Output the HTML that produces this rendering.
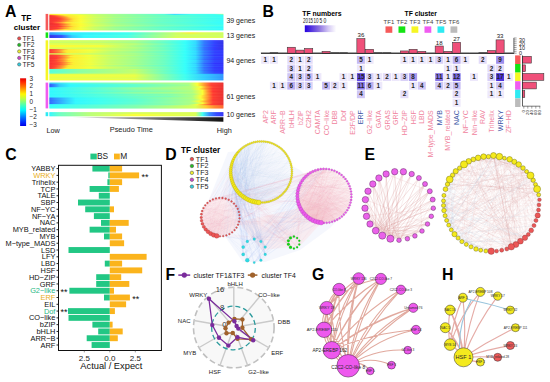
<!DOCTYPE html>
<html><head><meta charset="utf-8"><style>
html,body{margin:0;padding:0;background:#fff;width:550px;height:382px;overflow:hidden}
svg{display:block;font-family:"Liberation Sans", sans-serif}
</style></head><body>
<svg width="550" height="382" viewBox="0 0 550 382">
<defs><linearGradient id="cbar" x1="0" y1="1" x2="0" y2="0"><stop offset="0" stop-color="#0000e5"/><stop offset="0.08" stop-color="#002aff"/><stop offset="0.17" stop-color="#006eff"/><stop offset="0.25" stop-color="#00b2ff"/><stop offset="0.33" stop-color="#00f6ff"/><stop offset="0.42" stop-color="#3bffc3"/><stop offset="0.5" stop-color="#7fff7f"/><stop offset="0.58" stop-color="#c3ff3b"/><stop offset="0.67" stop-color="#fff600"/><stop offset="0.75" stop-color="#ffb200"/><stop offset="0.83" stop-color="#ff6e00"/><stop offset="0.92" stop-color="#ff2a00"/><stop offset="1" stop-color="#e50000"/></linearGradient><linearGradient id="h1"><stop offset="0" stop-color="#ffcd00"/><stop offset="0.06" stop-color="#fff600"/><stop offset="0.15" stop-color="#deff20"/><stop offset="0.29" stop-color="#a8ff56"/><stop offset="0.46" stop-color="#71ff8d"/><stop offset="0.66" stop-color="#2dffd1"/><stop offset="0.72" stop-color="#0097ff"/><stop offset="0.81" stop-color="#12ffec"/><stop offset="0.95" stop-color="#12ffec"/><stop offset="1" stop-color="#d1ff2d"/></linearGradient><linearGradient id="h2"><stop offset="0" stop-color="#ffcd00"/><stop offset="0.06" stop-color="#fff600"/><stop offset="0.15" stop-color="#deff20"/><stop offset="0.29" stop-color="#a8ff56"/><stop offset="0.46" stop-color="#71ff8d"/><stop offset="0.66" stop-color="#2dffd1"/><stop offset="0.72" stop-color="#05fff9"/><stop offset="0.81" stop-color="#12ffec"/><stop offset="0.95" stop-color="#12ffec"/><stop offset="1" stop-color="#05fff9"/></linearGradient><linearGradient id="h3"><stop offset="0" stop-color="#f60000"/><stop offset="0.01" stop-color="#ff1200"/><stop offset="0.05" stop-color="#ff7c00"/><stop offset="0.09" stop-color="#ffdb00"/><stop offset="0.18" stop-color="#faff04"/><stop offset="0.26" stop-color="#c3ff3b"/><stop offset="0.38" stop-color="#8dff71"/><stop offset="0.64" stop-color="#49ffb5"/><stop offset="1" stop-color="#05fff9"/></linearGradient><linearGradient id="h4"><stop offset="0" stop-color="#f30000"/><stop offset="0.01" stop-color="#ff0d00"/><stop offset="0.06" stop-color="#ff7c00"/><stop offset="0.09" stop-color="#ffdb00"/><stop offset="0.18" stop-color="#fdff01"/><stop offset="0.26" stop-color="#c7ff37"/><stop offset="0.38" stop-color="#92ff6c"/><stop offset="0.64" stop-color="#4dffb1"/><stop offset="1" stop-color="#08fff6"/></linearGradient><linearGradient id="h5"><stop offset="0" stop-color="#f30000"/><stop offset="0.03" stop-color="#ff0d00"/><stop offset="0.08" stop-color="#ff7c00"/><stop offset="0.11" stop-color="#ffdb00"/><stop offset="0.18" stop-color="#f8ff06"/><stop offset="0.26" stop-color="#c2ff3c"/><stop offset="0.38" stop-color="#8bff73"/><stop offset="0.64" stop-color="#47ffb7"/><stop offset="1" stop-color="#04fffa"/></linearGradient><linearGradient id="h6"><stop offset="0" stop-color="#e80000"/><stop offset="0.05" stop-color="#fe0000"/><stop offset="0.1" stop-color="#ff7c00"/><stop offset="0.13" stop-color="#ffdb00"/><stop offset="0.18" stop-color="#fff900"/><stop offset="0.26" stop-color="#d1ff2d"/><stop offset="0.38" stop-color="#9dff61"/><stop offset="0.64" stop-color="#56ffa8"/><stop offset="1" stop-color="#0fffef"/></linearGradient><linearGradient id="h7"><stop offset="0" stop-color="#f20000"/><stop offset="0.04" stop-color="#ff0c00"/><stop offset="0.09" stop-color="#ff7c00"/><stop offset="0.12" stop-color="#ffdb00"/><stop offset="0.18" stop-color="#fffc00"/><stop offset="0.26" stop-color="#ccff32"/><stop offset="0.38" stop-color="#98ff66"/><stop offset="0.64" stop-color="#52ffac"/><stop offset="1" stop-color="#0cfff2"/></linearGradient><linearGradient id="h8"><stop offset="0" stop-color="#f00000"/><stop offset="0.06" stop-color="#ff0900"/><stop offset="0.1" stop-color="#ff7c00"/><stop offset="0.14" stop-color="#ffdb00"/><stop offset="0.18" stop-color="#ecff12"/><stop offset="0.26" stop-color="#b3ff4b"/><stop offset="0.38" stop-color="#79ff85"/><stop offset="0.64" stop-color="#38ffc6"/><stop offset="1" stop-color="#00f7ff"/></linearGradient><linearGradient id="h9"><stop offset="0" stop-color="#ea0000"/><stop offset="0.05" stop-color="#ff0100"/><stop offset="0.1" stop-color="#ff7c00"/><stop offset="0.13" stop-color="#ffdb00"/><stop offset="0.18" stop-color="#fff800"/><stop offset="0.26" stop-color="#d2ff2c"/><stop offset="0.38" stop-color="#9eff60"/><stop offset="0.64" stop-color="#57ffa7"/><stop offset="1" stop-color="#10ffee"/></linearGradient><linearGradient id="h10"><stop offset="0" stop-color="#f50000"/><stop offset="0.06" stop-color="#ff1000"/><stop offset="0.11" stop-color="#ff7c00"/><stop offset="0.14" stop-color="#ffdb00"/><stop offset="0.18" stop-color="#fdff01"/><stop offset="0.26" stop-color="#c8ff36"/><stop offset="0.38" stop-color="#92ff6c"/><stop offset="0.64" stop-color="#4dffb1"/><stop offset="1" stop-color="#08fff6"/></linearGradient><linearGradient id="h11"><stop offset="0" stop-color="#f70000"/><stop offset="0.06" stop-color="#ff1300"/><stop offset="0.11" stop-color="#ff7c00"/><stop offset="0.14" stop-color="#ffdb00"/><stop offset="0.18" stop-color="#eeff10"/><stop offset="0.26" stop-color="#b5ff49"/><stop offset="0.38" stop-color="#7bff83"/><stop offset="0.64" stop-color="#3affc4"/><stop offset="1" stop-color="#00f8ff"/></linearGradient><linearGradient id="h12"><stop offset="0" stop-color="#f10000"/><stop offset="0.04" stop-color="#ff0a00"/><stop offset="0.09" stop-color="#ff7c00"/><stop offset="0.12" stop-color="#ffdb00"/><stop offset="0.18" stop-color="#fffb00"/><stop offset="0.26" stop-color="#ceff30"/><stop offset="0.38" stop-color="#9aff64"/><stop offset="0.64" stop-color="#54ffaa"/><stop offset="1" stop-color="#0efff0"/></linearGradient><linearGradient id="h13"><stop offset="0" stop-color="#ed0000"/><stop offset="0.06" stop-color="#ff0600"/><stop offset="0.1" stop-color="#ff7c00"/><stop offset="0.14" stop-color="#ffdb00"/><stop offset="0.18" stop-color="#fcff02"/><stop offset="0.26" stop-color="#c6ff38"/><stop offset="0.38" stop-color="#90ff6e"/><stop offset="0.64" stop-color="#4bffb3"/><stop offset="1" stop-color="#07fff7"/></linearGradient><linearGradient id="h14"><stop offset="0" stop-color="#f80000"/><stop offset="0.01" stop-color="#ff1400"/><stop offset="0.05" stop-color="#ff7c00"/><stop offset="0.09" stop-color="#ffdb00"/><stop offset="0.18" stop-color="#f2ff0c"/><stop offset="0.26" stop-color="#baff44"/><stop offset="0.38" stop-color="#82ff7c"/><stop offset="0.64" stop-color="#40ffbe"/><stop offset="1" stop-color="#00fcff"/></linearGradient><linearGradient id="h15"><stop offset="0" stop-color="#e90000"/><stop offset="0.02" stop-color="#ff0000"/><stop offset="0.07" stop-color="#ff7c00"/><stop offset="0.1" stop-color="#ffdb00"/><stop offset="0.18" stop-color="#f2ff0c"/><stop offset="0.26" stop-color="#b9ff45"/><stop offset="0.38" stop-color="#81ff7d"/><stop offset="0.64" stop-color="#3fffbf"/><stop offset="1" stop-color="#00fcff"/></linearGradient><linearGradient id="h16"><stop offset="0" stop-color="#e70000"/><stop offset="0.02" stop-color="#fc0000"/><stop offset="0.07" stop-color="#ff7c00"/><stop offset="0.1" stop-color="#ffdb00"/><stop offset="0.18" stop-color="#fffd00"/><stop offset="0.26" stop-color="#ccff32"/><stop offset="0.38" stop-color="#97ff67"/><stop offset="0.64" stop-color="#51ffad"/><stop offset="1" stop-color="#0bfff3"/></linearGradient><linearGradient id="h17"><stop offset="0" stop-color="#e60000"/><stop offset="0.05" stop-color="#fa0000"/><stop offset="0.1" stop-color="#ff7c00"/><stop offset="0.13" stop-color="#ffdb00"/><stop offset="0.18" stop-color="#f2ff0c"/><stop offset="0.26" stop-color="#baff44"/><stop offset="0.38" stop-color="#82ff7c"/><stop offset="0.64" stop-color="#40ffbe"/><stop offset="1" stop-color="#00fdff"/></linearGradient><linearGradient id="h18"><stop offset="0" stop-color="#e50000"/><stop offset="0.05" stop-color="#fa0000"/><stop offset="0.1" stop-color="#ff7c00"/><stop offset="0.13" stop-color="#ffdb00"/><stop offset="0.18" stop-color="#fdff01"/><stop offset="0.26" stop-color="#c8ff36"/><stop offset="0.38" stop-color="#92ff6c"/><stop offset="0.64" stop-color="#4dffb1"/><stop offset="1" stop-color="#08fff6"/></linearGradient><linearGradient id="h19"><stop offset="0" stop-color="#ed0000"/><stop offset="0.04" stop-color="#ff0500"/><stop offset="0.09" stop-color="#ff7c00"/><stop offset="0.12" stop-color="#ffdb00"/><stop offset="0.18" stop-color="#fff900"/><stop offset="0.26" stop-color="#d0ff2e"/><stop offset="0.38" stop-color="#9dff61"/><stop offset="0.64" stop-color="#56ffa8"/><stop offset="1" stop-color="#0fffef"/></linearGradient><linearGradient id="h20"><stop offset="0" stop-color="#e60000"/><stop offset="0.05" stop-color="#fb0000"/><stop offset="0.09" stop-color="#ff7c00"/><stop offset="0.13" stop-color="#ffdb00"/><stop offset="0.18" stop-color="#fff600"/><stop offset="0.26" stop-color="#d4ff2a"/><stop offset="0.38" stop-color="#a1ff5d"/><stop offset="0.64" stop-color="#59ffa5"/><stop offset="1" stop-color="#12ffec"/></linearGradient><linearGradient id="h21"><stop offset="0" stop-color="#ed0000"/><stop offset="0.06" stop-color="#ff0500"/><stop offset="0.1" stop-color="#ff7c00"/><stop offset="0.14" stop-color="#ffdb00"/><stop offset="0.18" stop-color="#feff00"/><stop offset="0.26" stop-color="#c9ff35"/><stop offset="0.38" stop-color="#94ff6a"/><stop offset="0.64" stop-color="#4fffaf"/><stop offset="1" stop-color="#0afff4"/></linearGradient><linearGradient id="h22"><stop offset="0" stop-color="#f60000"/><stop offset="0.06" stop-color="#ff1100"/><stop offset="0.11" stop-color="#ff7c00"/><stop offset="0.14" stop-color="#ffdb00"/><stop offset="0.18" stop-color="#f5ff09"/><stop offset="0.26" stop-color="#bdff41"/><stop offset="0.38" stop-color="#85ff79"/><stop offset="0.64" stop-color="#43ffbb"/><stop offset="1" stop-color="#00fffe"/></linearGradient><linearGradient id="h23"><stop offset="0" stop-color="#f70000"/><stop offset="0.04" stop-color="#ff1300"/><stop offset="0.08" stop-color="#ff7c00"/><stop offset="0.12" stop-color="#ffdb00"/><stop offset="0.18" stop-color="#edff11"/><stop offset="0.26" stop-color="#b4ff4a"/><stop offset="0.38" stop-color="#7aff84"/><stop offset="0.64" stop-color="#39ffc5"/><stop offset="1" stop-color="#00f7ff"/></linearGradient><linearGradient id="h24"><stop offset="0" stop-color="#f30000"/><stop offset="0.04" stop-color="#ff0d00"/><stop offset="0.09" stop-color="#ff7c00"/><stop offset="0.12" stop-color="#ffdb00"/><stop offset="0.18" stop-color="#f9ff05"/><stop offset="0.26" stop-color="#c3ff3b"/><stop offset="0.38" stop-color="#8dff71"/><stop offset="0.64" stop-color="#49ffb5"/><stop offset="1" stop-color="#05fff9"/></linearGradient><linearGradient id="h25"><stop offset="0" stop-color="#e80000"/><stop offset="0.05" stop-color="#fd0000"/><stop offset="0.09" stop-color="#ff7c00"/><stop offset="0.13" stop-color="#ffdb00"/><stop offset="0.18" stop-color="#f1ff0d"/><stop offset="0.26" stop-color="#b9ff45"/><stop offset="0.38" stop-color="#81ff7d"/><stop offset="0.64" stop-color="#3fffbf"/><stop offset="1" stop-color="#00fcff"/></linearGradient><linearGradient id="h26"><stop offset="0" stop-color="#f70000"/><stop offset="0.01" stop-color="#ff1200"/><stop offset="0.05" stop-color="#ff7c00"/><stop offset="0.09" stop-color="#ffdb00"/><stop offset="0.18" stop-color="#f0ff0e"/><stop offset="0.26" stop-color="#b7ff47"/><stop offset="0.38" stop-color="#7eff80"/><stop offset="0.64" stop-color="#3dffc1"/><stop offset="1" stop-color="#00faff"/></linearGradient><linearGradient id="h27"><stop offset="0" stop-color="#f50000"/><stop offset="0.01" stop-color="#ff1000"/><stop offset="0.06" stop-color="#ff7c00"/><stop offset="0.09" stop-color="#ffdb00"/><stop offset="0.18" stop-color="#fbff03"/><stop offset="0.26" stop-color="#c5ff39"/><stop offset="0.38" stop-color="#8fff6f"/><stop offset="0.64" stop-color="#4affb4"/><stop offset="1" stop-color="#06fff8"/></linearGradient><linearGradient id="h28"><stop offset="0" stop-color="#007cff"/><stop offset="0.06" stop-color="#00b2ff"/><stop offset="0.13" stop-color="#00e8ff"/><stop offset="0.45" stop-color="#12ffec"/><stop offset="0.58" stop-color="#64ff9a"/><stop offset="0.73" stop-color="#c3ff3b"/><stop offset="0.81" stop-color="#ffe800"/><stop offset="0.89" stop-color="#d1ff2d"/><stop offset="1" stop-color="#c3ff3b"/></linearGradient><linearGradient id="h29"><stop offset="0" stop-color="#007cff"/><stop offset="0.06" stop-color="#00b2ff"/><stop offset="0.13" stop-color="#00e8ff"/><stop offset="0.45" stop-color="#12ffec"/><stop offset="0.58" stop-color="#64ff9a"/><stop offset="0.73" stop-color="#c3ff3b"/><stop offset="0.81" stop-color="#ffe800"/><stop offset="0.89" stop-color="#d1ff2d"/><stop offset="1" stop-color="#c3ff3b"/></linearGradient><linearGradient id="h30"><stop offset="0" stop-color="#007cff"/><stop offset="0.06" stop-color="#00b2ff"/><stop offset="0.13" stop-color="#00e8ff"/><stop offset="0.45" stop-color="#12ffec"/><stop offset="0.58" stop-color="#64ff9a"/><stop offset="0.73" stop-color="#c3ff3b"/><stop offset="0.81" stop-color="#d1ff2d"/><stop offset="0.89" stop-color="#d1ff2d"/><stop offset="1" stop-color="#c3ff3b"/></linearGradient><linearGradient id="h31"><stop offset="0" stop-color="#007cff"/><stop offset="0.06" stop-color="#00b2ff"/><stop offset="0.13" stop-color="#00e8ff"/><stop offset="0.45" stop-color="#12ffec"/><stop offset="0.58" stop-color="#64ff9a"/><stop offset="0.73" stop-color="#c3ff3b"/><stop offset="0.81" stop-color="#d1ff2d"/><stop offset="0.89" stop-color="#d1ff2d"/><stop offset="1" stop-color="#c3ff3b"/></linearGradient><linearGradient id="h32"><stop offset="0" stop-color="#0000e5"/><stop offset="0.07" stop-color="#002aff"/><stop offset="0.13" stop-color="#00c0ff"/><stop offset="0.2" stop-color="#00f6ff"/><stop offset="0.45" stop-color="#20ffde"/><stop offset="0.58" stop-color="#71ff8d"/><stop offset="0.73" stop-color="#b5ff49"/><stop offset="1" stop-color="#b5ff49"/></linearGradient><linearGradient id="h33"><stop offset="0" stop-color="#0000e5"/><stop offset="0.07" stop-color="#002aff"/><stop offset="0.13" stop-color="#00c0ff"/><stop offset="0.2" stop-color="#00f6ff"/><stop offset="0.45" stop-color="#20ffde"/><stop offset="0.58" stop-color="#71ff8d"/><stop offset="0.73" stop-color="#caff34"/><stop offset="1" stop-color="#caff34"/></linearGradient><linearGradient id="h34"><stop offset="0" stop-color="#0000e5"/><stop offset="0.07" stop-color="#002aff"/><stop offset="0.13" stop-color="#00c0ff"/><stop offset="0.2" stop-color="#00f6ff"/><stop offset="0.45" stop-color="#20ffde"/><stop offset="0.58" stop-color="#71ff8d"/><stop offset="0.73" stop-color="#d7ff27"/><stop offset="1" stop-color="#d7ff27"/></linearGradient><linearGradient id="h35"><stop offset="0" stop-color="#0000e5"/><stop offset="0.07" stop-color="#002aff"/><stop offset="0.13" stop-color="#00c0ff"/><stop offset="0.2" stop-color="#00f6ff"/><stop offset="0.45" stop-color="#20ffde"/><stop offset="0.58" stop-color="#71ff8d"/><stop offset="0.73" stop-color="#b4ff4a"/><stop offset="1" stop-color="#b4ff4a"/></linearGradient><linearGradient id="h36"><stop offset="0" stop-color="#0000e5"/><stop offset="0.07" stop-color="#002aff"/><stop offset="0.13" stop-color="#00c0ff"/><stop offset="0.2" stop-color="#00f6ff"/><stop offset="0.45" stop-color="#20ffde"/><stop offset="0.58" stop-color="#71ff8d"/><stop offset="0.73" stop-color="#ddff21"/><stop offset="1" stop-color="#ddff21"/></linearGradient><linearGradient id="h37"><stop offset="0" stop-color="#cfff2f"/><stop offset="0.29" stop-color="#c1ff3d"/><stop offset="0.49" stop-color="#99ff65"/><stop offset="0.66" stop-color="#47ffb7"/><stop offset="0.78" stop-color="#05fff9"/><stop offset="0.84" stop-color="#00caff"/><stop offset="0.89" stop-color="#004fff"/><stop offset="0.95" stop-color="#000cff"/><stop offset="1" stop-color="#0000e5"/></linearGradient><linearGradient id="h38"><stop offset="0" stop-color="#c0ff3e"/><stop offset="0.29" stop-color="#b2ff4c"/><stop offset="0.49" stop-color="#89ff75"/><stop offset="0.66" stop-color="#3cffc2"/><stop offset="0.78" stop-color="#05fff9"/><stop offset="0.84" stop-color="#00c4ff"/><stop offset="0.89" stop-color="#0047ff"/><stop offset="0.95" stop-color="#0006ff"/><stop offset="1" stop-color="#0000e5"/></linearGradient><linearGradient id="h39"><stop offset="0" stop-color="#d1ff2d"/><stop offset="0.29" stop-color="#c3ff3b"/><stop offset="0.49" stop-color="#9aff64"/><stop offset="0.66" stop-color="#49ffb5"/><stop offset="0.78" stop-color="#05fff9"/><stop offset="0.84" stop-color="#00d6ff"/><stop offset="0.89" stop-color="#005eff"/><stop offset="0.95" stop-color="#0017ff"/><stop offset="1" stop-color="#0000e5"/></linearGradient><linearGradient id="h40"><stop offset="0" stop-color="#beff40"/><stop offset="0.29" stop-color="#b1ff4d"/><stop offset="0.49" stop-color="#88ff76"/><stop offset="0.66" stop-color="#3bffc3"/><stop offset="0.78" stop-color="#05fff9"/><stop offset="0.84" stop-color="#00ceff"/><stop offset="0.89" stop-color="#0054ff"/><stop offset="0.95" stop-color="#000fff"/><stop offset="1" stop-color="#0000e5"/></linearGradient><linearGradient id="h41"><stop offset="0" stop-color="#c0ff3e"/><stop offset="0.29" stop-color="#b3ff4b"/><stop offset="0.49" stop-color="#8aff74"/><stop offset="0.66" stop-color="#3cffc2"/><stop offset="0.78" stop-color="#05fff9"/><stop offset="0.84" stop-color="#00d7ff"/><stop offset="0.89" stop-color="#0060ff"/><stop offset="0.95" stop-color="#0019ff"/><stop offset="1" stop-color="#0000e5"/></linearGradient><linearGradient id="h42"><stop offset="0" stop-color="#dfff1f"/><stop offset="0.29" stop-color="#d1ff2d"/><stop offset="0.49" stop-color="#a8ff56"/><stop offset="0.66" stop-color="#53ffab"/><stop offset="0.78" stop-color="#05fff9"/><stop offset="0.84" stop-color="#00d6ff"/><stop offset="0.89" stop-color="#005fff"/><stop offset="0.95" stop-color="#0018ff"/><stop offset="1" stop-color="#0000e5"/></linearGradient><linearGradient id="h43"><stop offset="0" stop-color="#d3ff2b"/><stop offset="0.29" stop-color="#c5ff39"/><stop offset="0.49" stop-color="#9cff62"/><stop offset="0.66" stop-color="#4affb4"/><stop offset="0.78" stop-color="#05fff9"/><stop offset="0.84" stop-color="#00d5ff"/><stop offset="0.89" stop-color="#005dff"/><stop offset="0.95" stop-color="#0017ff"/><stop offset="1" stop-color="#0000e5"/></linearGradient><linearGradient id="h44"><stop offset="0" stop-color="#e2ff1c"/><stop offset="0.29" stop-color="#d5ff29"/><stop offset="0.49" stop-color="#acff52"/><stop offset="0.66" stop-color="#56ffa8"/><stop offset="0.78" stop-color="#05fff9"/><stop offset="0.84" stop-color="#00c5ff"/><stop offset="0.89" stop-color="#0048ff"/><stop offset="0.95" stop-color="#0007ff"/><stop offset="1" stop-color="#0000e5"/></linearGradient><linearGradient id="h45"><stop offset="0" stop-color="#f9ff05"/><stop offset="0.29" stop-color="#ebff13"/><stop offset="0.49" stop-color="#8cff72"/><stop offset="0.66" stop-color="#3effc0"/><stop offset="0.78" stop-color="#05fff9"/><stop offset="0.84" stop-color="#00c5ff"/><stop offset="0.89" stop-color="#0047ff"/><stop offset="0.95" stop-color="#0006ff"/><stop offset="1" stop-color="#0000e5"/></linearGradient><linearGradient id="h46"><stop offset="0" stop-color="#ffef00"/><stop offset="0.29" stop-color="#fffd00"/><stop offset="0.49" stop-color="#a1ff5d"/><stop offset="0.66" stop-color="#4effb0"/><stop offset="0.78" stop-color="#05fff9"/><stop offset="0.84" stop-color="#00ddff"/><stop offset="0.89" stop-color="#0068ff"/><stop offset="0.95" stop-color="#001fff"/><stop offset="1" stop-color="#0000e5"/></linearGradient><linearGradient id="h47"><stop offset="0" stop-color="#faff04"/><stop offset="0.29" stop-color="#ecff12"/><stop offset="0.49" stop-color="#8dff71"/><stop offset="0.66" stop-color="#3fffbf"/><stop offset="0.78" stop-color="#05fff9"/><stop offset="0.84" stop-color="#00d7ff"/><stop offset="0.89" stop-color="#005fff"/><stop offset="0.95" stop-color="#0018ff"/><stop offset="1" stop-color="#0000e5"/></linearGradient><linearGradient id="h48"><stop offset="0" stop-color="#fff200"/><stop offset="0.29" stop-color="#fdff01"/><stop offset="0.49" stop-color="#9eff60"/><stop offset="0.66" stop-color="#4cffb2"/><stop offset="0.78" stop-color="#05fff9"/><stop offset="0.84" stop-color="#00cfff"/><stop offset="0.89" stop-color="#0055ff"/><stop offset="0.95" stop-color="#0011ff"/><stop offset="1" stop-color="#0000e5"/></linearGradient><linearGradient id="h49"><stop offset="0" stop-color="#d9ff25"/><stop offset="0.29" stop-color="#ccff32"/><stop offset="0.49" stop-color="#a3ff5b"/><stop offset="0.66" stop-color="#4fffaf"/><stop offset="0.78" stop-color="#05fff9"/><stop offset="0.84" stop-color="#00beff"/><stop offset="0.89" stop-color="#003fff"/><stop offset="0.95" stop-color="#0000ff"/><stop offset="1" stop-color="#0000e5"/></linearGradient><linearGradient id="h50"><stop offset="0" stop-color="#cfff2f"/><stop offset="0.29" stop-color="#c1ff3d"/><stop offset="0.49" stop-color="#99ff65"/><stop offset="0.66" stop-color="#47ffb7"/><stop offset="0.78" stop-color="#05fff9"/><stop offset="0.84" stop-color="#00daff"/><stop offset="0.89" stop-color="#0063ff"/><stop offset="0.95" stop-color="#001bff"/><stop offset="1" stop-color="#0000e5"/></linearGradient><linearGradient id="h51"><stop offset="0" stop-color="#d6ff28"/><stop offset="0.29" stop-color="#c8ff36"/><stop offset="0.49" stop-color="#9fff5f"/><stop offset="0.66" stop-color="#4cffb2"/><stop offset="0.78" stop-color="#05fff9"/><stop offset="0.84" stop-color="#00bdff"/><stop offset="0.89" stop-color="#003dff"/><stop offset="0.95" stop-color="#0000fe"/><stop offset="1" stop-color="#0000e5"/></linearGradient><linearGradient id="h52"><stop offset="0" stop-color="#fb0000"/><stop offset="0.03" stop-color="#ff1d00"/><stop offset="0.07" stop-color="#ff7c00"/><stop offset="0.11" stop-color="#ffe800"/><stop offset="0.23" stop-color="#eeff10"/><stop offset="0.35" stop-color="#b8ff46"/><stop offset="0.49" stop-color="#90ff6e"/><stop offset="0.66" stop-color="#4bffb3"/><stop offset="0.78" stop-color="#05fff9"/><stop offset="0.84" stop-color="#00c9ff"/><stop offset="0.89" stop-color="#004dff"/><stop offset="0.95" stop-color="#000bff"/><stop offset="1" stop-color="#0000e5"/></linearGradient><linearGradient id="h53"><stop offset="0" stop-color="#fc0000"/><stop offset="0.03" stop-color="#ff1e00"/><stop offset="0.07" stop-color="#ff7c00"/><stop offset="0.11" stop-color="#ffe800"/><stop offset="0.23" stop-color="#f0ff0e"/><stop offset="0.35" stop-color="#bcff42"/><stop offset="0.49" stop-color="#93ff6b"/><stop offset="0.66" stop-color="#4dffb1"/><stop offset="0.78" stop-color="#05fff9"/><stop offset="0.84" stop-color="#00daff"/><stop offset="0.89" stop-color="#0064ff"/><stop offset="0.95" stop-color="#001cff"/><stop offset="1" stop-color="#000eff"/></linearGradient><linearGradient id="h54"><stop offset="0" stop-color="#ef0000"/><stop offset="0.01" stop-color="#ff0e00"/><stop offset="0.06" stop-color="#ff7c00"/><stop offset="0.09" stop-color="#ffe800"/><stop offset="0.23" stop-color="#f8ff06"/><stop offset="0.35" stop-color="#c5ff39"/><stop offset="0.49" stop-color="#9cff62"/><stop offset="0.66" stop-color="#55ffa9"/><stop offset="0.78" stop-color="#05fff9"/><stop offset="0.84" stop-color="#00c7ff"/><stop offset="0.89" stop-color="#004bff"/><stop offset="0.95" stop-color="#0009ff"/><stop offset="1" stop-color="#0000fa"/></linearGradient><linearGradient id="h55"><stop offset="0" stop-color="#f70000"/><stop offset="0.02" stop-color="#ff1700"/><stop offset="0.07" stop-color="#ff7c00"/><stop offset="0.1" stop-color="#ffe800"/><stop offset="0.23" stop-color="#eeff10"/><stop offset="0.35" stop-color="#b8ff46"/><stop offset="0.49" stop-color="#8fff6f"/><stop offset="0.66" stop-color="#4bffb3"/><stop offset="0.78" stop-color="#05fff9"/><stop offset="0.84" stop-color="#00d5ff"/><stop offset="0.89" stop-color="#005dff"/><stop offset="0.95" stop-color="#0017ff"/><stop offset="1" stop-color="#0009ff"/></linearGradient><linearGradient id="h56"><stop offset="0" stop-color="#ff0100"/><stop offset="0" stop-color="#ff2300"/><stop offset="0.05" stop-color="#ff7c00"/><stop offset="0.08" stop-color="#ffe800"/><stop offset="0.23" stop-color="#e2ff1c"/><stop offset="0.35" stop-color="#a8ff56"/><stop offset="0.49" stop-color="#7fff7f"/><stop offset="0.66" stop-color="#3fffbf"/><stop offset="0.78" stop-color="#05fff9"/><stop offset="0.84" stop-color="#00ddff"/><stop offset="0.89" stop-color="#0068ff"/><stop offset="0.95" stop-color="#001eff"/><stop offset="1" stop-color="#0011ff"/></linearGradient><linearGradient id="h57"><stop offset="0" stop-color="#f00000"/><stop offset="0.02" stop-color="#ff0f00"/><stop offset="0.07" stop-color="#ff7c00"/><stop offset="0.1" stop-color="#ffe800"/><stop offset="0.23" stop-color="#e0ff1e"/><stop offset="0.35" stop-color="#a6ff58"/><stop offset="0.49" stop-color="#7dff81"/><stop offset="0.66" stop-color="#3dffc1"/><stop offset="0.78" stop-color="#05fff9"/><stop offset="0.84" stop-color="#00cbff"/><stop offset="0.89" stop-color="#004fff"/><stop offset="0.95" stop-color="#000cff"/><stop offset="1" stop-color="#0000fe"/></linearGradient><linearGradient id="h58"><stop offset="0" stop-color="#fd0000"/><stop offset="0.03" stop-color="#ff1f00"/><stop offset="0.07" stop-color="#ff7c00"/><stop offset="0.11" stop-color="#ffe800"/><stop offset="0.23" stop-color="#f9ff05"/><stop offset="0.35" stop-color="#c6ff38"/><stop offset="0.49" stop-color="#9eff60"/><stop offset="0.66" stop-color="#55ffa9"/><stop offset="0.78" stop-color="#05fff9"/><stop offset="0.84" stop-color="#00d7ff"/><stop offset="0.89" stop-color="#0060ff"/><stop offset="0.95" stop-color="#0019ff"/><stop offset="1" stop-color="#000bff"/></linearGradient><linearGradient id="h59"><stop offset="0" stop-color="#d1ff2d"/><stop offset="0.12" stop-color="#c3ff3b"/><stop offset="0.49" stop-color="#8dff71"/><stop offset="0.66" stop-color="#48ffb6"/><stop offset="0.78" stop-color="#05fff9"/><stop offset="0.84" stop-color="#00d5ff"/><stop offset="0.89" stop-color="#005dff"/><stop offset="0.95" stop-color="#0016ff"/><stop offset="1" stop-color="#0009ff"/></linearGradient><linearGradient id="h60"><stop offset="0" stop-color="#d1ff2d"/><stop offset="0.12" stop-color="#c3ff3b"/><stop offset="0.49" stop-color="#8dff71"/><stop offset="0.66" stop-color="#3cffc2"/><stop offset="0.78" stop-color="#05fff9"/><stop offset="0.84" stop-color="#00d7ff"/><stop offset="0.89" stop-color="#0061ff"/><stop offset="0.95" stop-color="#0019ff"/><stop offset="1" stop-color="#000bff"/></linearGradient><linearGradient id="h61"><stop offset="0" stop-color="#e60000"/><stop offset="0.02" stop-color="#ff0200"/><stop offset="0.06" stop-color="#ff7c00"/><stop offset="0.1" stop-color="#ffe800"/><stop offset="0.23" stop-color="#f2ff0c"/><stop offset="0.35" stop-color="#bdff41"/><stop offset="0.49" stop-color="#95ff69"/><stop offset="0.66" stop-color="#4fffaf"/><stop offset="0.78" stop-color="#05fff9"/><stop offset="0.84" stop-color="#00d0ff"/><stop offset="0.89" stop-color="#0057ff"/><stop offset="0.95" stop-color="#0012ff"/><stop offset="1" stop-color="#0004ff"/></linearGradient><linearGradient id="h62"><stop offset="0" stop-color="#ff0000"/><stop offset="0.06" stop-color="#ff2100"/><stop offset="0.1" stop-color="#ff7c00"/><stop offset="0.14" stop-color="#ffe800"/><stop offset="0.23" stop-color="#f9ff05"/><stop offset="0.35" stop-color="#c7ff37"/><stop offset="0.49" stop-color="#9fff5f"/><stop offset="0.66" stop-color="#56ffa8"/><stop offset="0.78" stop-color="#05fff9"/><stop offset="0.84" stop-color="#00c0ff"/><stop offset="0.89" stop-color="#0041ff"/><stop offset="0.95" stop-color="#0001ff"/><stop offset="1" stop-color="#0000f3"/></linearGradient><linearGradient id="h63"><stop offset="0" stop-color="#ef0000"/><stop offset="0.04" stop-color="#ff0d00"/><stop offset="0.08" stop-color="#ff7c00"/><stop offset="0.12" stop-color="#ffe800"/><stop offset="0.23" stop-color="#edff11"/><stop offset="0.35" stop-color="#b8ff46"/><stop offset="0.49" stop-color="#8fff6f"/><stop offset="0.66" stop-color="#4affb4"/><stop offset="0.78" stop-color="#05fff9"/><stop offset="0.84" stop-color="#00d2ff"/><stop offset="0.89" stop-color="#005aff"/><stop offset="0.95" stop-color="#0014ff"/><stop offset="1" stop-color="#0006ff"/></linearGradient><linearGradient id="h64"><stop offset="0" stop-color="#ec0000"/><stop offset="0.04" stop-color="#ff0a00"/><stop offset="0.09" stop-color="#ff7c00"/><stop offset="0.12" stop-color="#ffe800"/><stop offset="0.23" stop-color="#eaff14"/><stop offset="0.35" stop-color="#b3ff4b"/><stop offset="0.49" stop-color="#8aff74"/><stop offset="0.66" stop-color="#47ffb7"/><stop offset="0.78" stop-color="#05fff9"/><stop offset="0.84" stop-color="#00d8ff"/><stop offset="0.89" stop-color="#0061ff"/><stop offset="0.95" stop-color="#001aff"/><stop offset="1" stop-color="#000cff"/></linearGradient><linearGradient id="h65"><stop offset="0" stop-color="#f20000"/><stop offset="0.04" stop-color="#ff1200"/><stop offset="0.08" stop-color="#ff7c00"/><stop offset="0.12" stop-color="#ffe800"/><stop offset="0.23" stop-color="#faff04"/><stop offset="0.35" stop-color="#c8ff36"/><stop offset="0.49" stop-color="#9fff5f"/><stop offset="0.66" stop-color="#56ffa8"/><stop offset="0.78" stop-color="#05fff9"/><stop offset="0.84" stop-color="#00dcff"/><stop offset="0.89" stop-color="#0067ff"/><stop offset="0.95" stop-color="#001eff"/><stop offset="1" stop-color="#0010ff"/></linearGradient><linearGradient id="h66"><stop offset="0" stop-color="#fe0000"/><stop offset="0.06" stop-color="#ff2100"/><stop offset="0.1" stop-color="#ff7c00"/><stop offset="0.14" stop-color="#ffe800"/><stop offset="0.23" stop-color="#e3ff1b"/><stop offset="0.35" stop-color="#a9ff55"/><stop offset="0.49" stop-color="#80ff7e"/><stop offset="0.66" stop-color="#3fffbf"/><stop offset="0.78" stop-color="#05fff9"/><stop offset="0.84" stop-color="#00c9ff"/><stop offset="0.89" stop-color="#004eff"/><stop offset="0.95" stop-color="#000bff"/><stop offset="1" stop-color="#0000fc"/></linearGradient><linearGradient id="h67"><stop offset="0" stop-color="#ee0000"/><stop offset="0.04" stop-color="#ff0c00"/><stop offset="0.08" stop-color="#ff7c00"/><stop offset="0.12" stop-color="#ffe800"/><stop offset="0.23" stop-color="#f4ff0a"/><stop offset="0.35" stop-color="#c1ff3d"/><stop offset="0.49" stop-color="#98ff66"/><stop offset="0.66" stop-color="#51ffad"/><stop offset="0.78" stop-color="#05fff9"/><stop offset="0.84" stop-color="#00cdff"/><stop offset="0.89" stop-color="#0052ff"/><stop offset="0.95" stop-color="#000eff"/><stop offset="1" stop-color="#0001ff"/></linearGradient><linearGradient id="h68"><stop offset="0" stop-color="#e90000"/><stop offset="0.04" stop-color="#ff0700"/><stop offset="0.09" stop-color="#ff7c00"/><stop offset="0.12" stop-color="#ffe800"/><stop offset="0.23" stop-color="#eaff14"/><stop offset="0.35" stop-color="#b3ff4b"/><stop offset="0.49" stop-color="#8bff73"/><stop offset="0.66" stop-color="#47ffb7"/><stop offset="0.78" stop-color="#05fff9"/><stop offset="0.84" stop-color="#00daff"/><stop offset="0.89" stop-color="#0064ff"/><stop offset="0.95" stop-color="#001cff"/><stop offset="1" stop-color="#000eff"/></linearGradient><linearGradient id="h69"><stop offset="0" stop-color="#fb0000"/><stop offset="0.03" stop-color="#ff1d00"/><stop offset="0.08" stop-color="#ff7c00"/><stop offset="0.11" stop-color="#ffe800"/><stop offset="0.23" stop-color="#ecff12"/><stop offset="0.35" stop-color="#b5ff49"/><stop offset="0.49" stop-color="#8cff72"/><stop offset="0.66" stop-color="#49ffb5"/><stop offset="0.78" stop-color="#05fff9"/><stop offset="0.84" stop-color="#00bdff"/><stop offset="0.89" stop-color="#003eff"/><stop offset="0.95" stop-color="#0000fe"/><stop offset="1" stop-color="#0000f0"/></linearGradient><linearGradient id="h70"><stop offset="0" stop-color="#fa0000"/><stop offset="0.03" stop-color="#ff1b00"/><stop offset="0.08" stop-color="#ff7c00"/><stop offset="0.11" stop-color="#ffe800"/><stop offset="0.23" stop-color="#e5ff19"/><stop offset="0.35" stop-color="#acff52"/><stop offset="0.49" stop-color="#83ff7b"/><stop offset="0.66" stop-color="#41ffbd"/><stop offset="0.78" stop-color="#05fff9"/><stop offset="0.84" stop-color="#00ddff"/><stop offset="0.89" stop-color="#0069ff"/><stop offset="0.95" stop-color="#001fff"/><stop offset="1" stop-color="#0011ff"/></linearGradient><linearGradient id="h71"><stop offset="0" stop-color="#e70000"/><stop offset="0.04" stop-color="#ff0400"/><stop offset="0.09" stop-color="#ff7c00"/><stop offset="0.13" stop-color="#ffe800"/><stop offset="0.23" stop-color="#f4ff0a"/><stop offset="0.35" stop-color="#c0ff3e"/><stop offset="0.49" stop-color="#97ff67"/><stop offset="0.66" stop-color="#51ffad"/><stop offset="0.78" stop-color="#05fff9"/><stop offset="0.84" stop-color="#00d9ff"/><stop offset="0.89" stop-color="#0063ff"/><stop offset="0.95" stop-color="#001bff"/><stop offset="1" stop-color="#000dff"/></linearGradient><linearGradient id="h72"><stop offset="0" stop-color="#fa0000"/><stop offset="0.03" stop-color="#ff1c00"/><stop offset="0.08" stop-color="#ff7c00"/><stop offset="0.11" stop-color="#ffe800"/><stop offset="0.23" stop-color="#efff0f"/><stop offset="0.35" stop-color="#baff44"/><stop offset="0.49" stop-color="#91ff6d"/><stop offset="0.66" stop-color="#4cffb2"/><stop offset="0.78" stop-color="#05fff9"/><stop offset="0.84" stop-color="#00ddff"/><stop offset="0.89" stop-color="#0068ff"/><stop offset="0.95" stop-color="#001fff"/><stop offset="1" stop-color="#0011ff"/></linearGradient><linearGradient id="h73"><stop offset="0" stop-color="#ee0000"/><stop offset="0.04" stop-color="#ff0c00"/><stop offset="0.08" stop-color="#ff7c00"/><stop offset="0.12" stop-color="#ffe800"/><stop offset="0.23" stop-color="#e5ff19"/><stop offset="0.35" stop-color="#adff51"/><stop offset="0.49" stop-color="#84ff7a"/><stop offset="0.66" stop-color="#42ffbc"/><stop offset="0.78" stop-color="#05fff9"/><stop offset="0.84" stop-color="#00c3ff"/><stop offset="0.89" stop-color="#0045ff"/><stop offset="0.95" stop-color="#0004ff"/><stop offset="1" stop-color="#0000f6"/></linearGradient><linearGradient id="h74"><stop offset="0" stop-color="#fe0000"/><stop offset="0.06" stop-color="#ff2100"/><stop offset="0.1" stop-color="#ff7c00"/><stop offset="0.14" stop-color="#ffe800"/><stop offset="0.23" stop-color="#eeff10"/><stop offset="0.35" stop-color="#b9ff45"/><stop offset="0.49" stop-color="#90ff6e"/><stop offset="0.66" stop-color="#4bffb3"/><stop offset="0.78" stop-color="#05fff9"/><stop offset="0.84" stop-color="#00d5ff"/><stop offset="0.89" stop-color="#005eff"/><stop offset="0.95" stop-color="#0017ff"/><stop offset="1" stop-color="#0009ff"/></linearGradient><linearGradient id="h75"><stop offset="0" stop-color="#f60000"/><stop offset="0.03" stop-color="#ff1700"/><stop offset="0.08" stop-color="#ff7c00"/><stop offset="0.11" stop-color="#ffe800"/><stop offset="0.23" stop-color="#e0ff1e"/><stop offset="0.35" stop-color="#a5ff59"/><stop offset="0.49" stop-color="#7cff82"/><stop offset="0.66" stop-color="#3dffc1"/><stop offset="0.78" stop-color="#05fff9"/><stop offset="0.84" stop-color="#00bfff"/><stop offset="0.89" stop-color="#0040ff"/><stop offset="0.95" stop-color="#0001ff"/><stop offset="1" stop-color="#0000f2"/></linearGradient><linearGradient id="h76"><stop offset="0" stop-color="#f10000"/><stop offset="0.05" stop-color="#ff1000"/><stop offset="0.1" stop-color="#ff7c00"/><stop offset="0.13" stop-color="#ffe800"/><stop offset="0.23" stop-color="#f7ff07"/><stop offset="0.35" stop-color="#c4ff3a"/><stop offset="0.49" stop-color="#9bff63"/><stop offset="0.66" stop-color="#53ffab"/><stop offset="0.78" stop-color="#05fff9"/><stop offset="0.84" stop-color="#00c7ff"/><stop offset="0.89" stop-color="#004bff"/><stop offset="0.95" stop-color="#0009ff"/><stop offset="1" stop-color="#0000fa"/></linearGradient><linearGradient id="h77"><stop offset="0" stop-color="#fc0000"/><stop offset="0.06" stop-color="#ff1d00"/><stop offset="0.1" stop-color="#ff7c00"/><stop offset="0.14" stop-color="#ffe800"/><stop offset="0.23" stop-color="#f4ff0a"/><stop offset="0.35" stop-color="#c1ff3d"/><stop offset="0.49" stop-color="#98ff66"/><stop offset="0.66" stop-color="#51ffad"/><stop offset="0.78" stop-color="#05fff9"/><stop offset="0.84" stop-color="#00daff"/><stop offset="0.89" stop-color="#0064ff"/><stop offset="0.95" stop-color="#001cff"/><stop offset="1" stop-color="#000eff"/></linearGradient><linearGradient id="h78"><stop offset="0" stop-color="#ee0000"/><stop offset="0.04" stop-color="#ff0d00"/><stop offset="0.08" stop-color="#ff7c00"/><stop offset="0.12" stop-color="#ffe800"/><stop offset="0.23" stop-color="#ebff13"/><stop offset="0.35" stop-color="#b4ff4a"/><stop offset="0.49" stop-color="#8bff73"/><stop offset="0.66" stop-color="#47ffb7"/><stop offset="0.78" stop-color="#05fff9"/><stop offset="0.84" stop-color="#00c9ff"/><stop offset="0.89" stop-color="#004dff"/><stop offset="0.95" stop-color="#000aff"/><stop offset="1" stop-color="#0000fc"/></linearGradient><linearGradient id="h79"><stop offset="0" stop-color="#ff0000"/><stop offset="0.03" stop-color="#ff2200"/><stop offset="0.08" stop-color="#ff7c00"/><stop offset="0.11" stop-color="#ffe800"/><stop offset="0.23" stop-color="#deff20"/><stop offset="0.35" stop-color="#a3ff5b"/><stop offset="0.49" stop-color="#7aff84"/><stop offset="0.66" stop-color="#3bffc3"/><stop offset="0.78" stop-color="#05fff9"/><stop offset="0.84" stop-color="#00ceff"/><stop offset="0.89" stop-color="#0054ff"/><stop offset="0.95" stop-color="#0010ff"/><stop offset="1" stop-color="#0002ff"/></linearGradient><linearGradient id="h80"><stop offset="0" stop-color="#f50000"/><stop offset="0.04" stop-color="#ff1500"/><stop offset="0.08" stop-color="#ff7c00"/><stop offset="0.12" stop-color="#ffe800"/><stop offset="0.23" stop-color="#eaff14"/><stop offset="0.35" stop-color="#b3ff4b"/><stop offset="0.49" stop-color="#8bff73"/><stop offset="0.66" stop-color="#47ffb7"/><stop offset="0.78" stop-color="#05fff9"/><stop offset="0.84" stop-color="#00d9ff"/><stop offset="0.89" stop-color="#0063ff"/><stop offset="0.95" stop-color="#001bff"/><stop offset="1" stop-color="#000dff"/></linearGradient><linearGradient id="h81"><stop offset="0" stop-color="#ef0000"/><stop offset="0.02" stop-color="#ff0d00"/><stop offset="0.07" stop-color="#ff7c00"/><stop offset="0.1" stop-color="#ffe800"/><stop offset="0.23" stop-color="#edff11"/><stop offset="0.35" stop-color="#b8ff46"/><stop offset="0.49" stop-color="#8fff6f"/><stop offset="0.66" stop-color="#4affb4"/><stop offset="0.78" stop-color="#05fff9"/><stop offset="0.84" stop-color="#00dcff"/><stop offset="0.89" stop-color="#0067ff"/><stop offset="0.95" stop-color="#001eff"/><stop offset="1" stop-color="#0010ff"/></linearGradient><linearGradient id="h82"><stop offset="0" stop-color="#fd0000"/><stop offset="0.03" stop-color="#ff1f00"/><stop offset="0.07" stop-color="#ff7c00"/><stop offset="0.11" stop-color="#ffe800"/><stop offset="0.23" stop-color="#f9ff05"/><stop offset="0.35" stop-color="#c7ff37"/><stop offset="0.49" stop-color="#9fff5f"/><stop offset="0.66" stop-color="#56ffa8"/><stop offset="0.78" stop-color="#05fff9"/><stop offset="0.84" stop-color="#00c2ff"/><stop offset="0.89" stop-color="#0044ff"/><stop offset="0.95" stop-color="#0003ff"/><stop offset="1" stop-color="#0000f5"/></linearGradient><linearGradient id="h83"><stop offset="0" stop-color="#f40000"/><stop offset="0.02" stop-color="#ff1400"/><stop offset="0.07" stop-color="#ff7c00"/><stop offset="0.1" stop-color="#ffe800"/><stop offset="0.23" stop-color="#f6ff08"/><stop offset="0.35" stop-color="#c3ff3b"/><stop offset="0.49" stop-color="#9aff64"/><stop offset="0.66" stop-color="#52ffac"/><stop offset="0.78" stop-color="#05fff9"/><stop offset="0.84" stop-color="#00c8ff"/><stop offset="0.89" stop-color="#004cff"/><stop offset="0.95" stop-color="#000aff"/><stop offset="1" stop-color="#0000fb"/></linearGradient><linearGradient id="h84"><stop offset="0" stop-color="#f00000"/><stop offset="0.01" stop-color="#ff0f00"/><stop offset="0.06" stop-color="#ff7c00"/><stop offset="0.09" stop-color="#ffe800"/><stop offset="0.23" stop-color="#edff11"/><stop offset="0.35" stop-color="#b8ff46"/><stop offset="0.49" stop-color="#8fff6f"/><stop offset="0.66" stop-color="#4affb4"/><stop offset="0.78" stop-color="#05fff9"/><stop offset="0.84" stop-color="#00d2ff"/><stop offset="0.89" stop-color="#0059ff"/><stop offset="0.95" stop-color="#0014ff"/><stop offset="1" stop-color="#0006ff"/></linearGradient><linearGradient id="h85"><stop offset="0" stop-color="#2dffd1"/><stop offset="0.18" stop-color="#71ff8d"/><stop offset="0.49" stop-color="#b5ff49"/><stop offset="0.66" stop-color="#57ffa7"/><stop offset="0.78" stop-color="#05fff9"/><stop offset="0.84" stop-color="#00d7ff"/><stop offset="0.89" stop-color="#0060ff"/><stop offset="0.95" stop-color="#0019ff"/><stop offset="1" stop-color="#000bff"/></linearGradient><linearGradient id="h86"><stop offset="0" stop-color="#2dffd1"/><stop offset="0.18" stop-color="#71ff8d"/><stop offset="0.49" stop-color="#b5ff49"/><stop offset="0.66" stop-color="#50ffae"/><stop offset="0.78" stop-color="#05fff9"/><stop offset="0.84" stop-color="#00ccff"/><stop offset="0.89" stop-color="#0052ff"/><stop offset="0.95" stop-color="#000eff"/><stop offset="1" stop-color="#0000ff"/></linearGradient><linearGradient id="h87"><stop offset="0" stop-color="#2dffd1"/><stop offset="0.18" stop-color="#71ff8d"/><stop offset="0.49" stop-color="#b5ff49"/><stop offset="0.66" stop-color="#4effb0"/><stop offset="0.78" stop-color="#05fff9"/><stop offset="0.84" stop-color="#00c2ff"/><stop offset="0.89" stop-color="#0044ff"/><stop offset="0.95" stop-color="#0003ff"/><stop offset="1" stop-color="#0000f5"/></linearGradient><linearGradient id="h88"><stop offset="0" stop-color="#2dffd1"/><stop offset="0.18" stop-color="#71ff8d"/><stop offset="0.49" stop-color="#b5ff49"/><stop offset="0.66" stop-color="#3cffc2"/><stop offset="0.78" stop-color="#05fff9"/><stop offset="0.84" stop-color="#00d6ff"/><stop offset="0.89" stop-color="#005eff"/><stop offset="0.95" stop-color="#0017ff"/><stop offset="1" stop-color="#000aff"/></linearGradient><linearGradient id="h89"><stop offset="0" stop-color="#2dffd1"/><stop offset="0.18" stop-color="#71ff8d"/><stop offset="0.49" stop-color="#b5ff49"/><stop offset="0.66" stop-color="#54ffaa"/><stop offset="0.78" stop-color="#05fff9"/><stop offset="0.84" stop-color="#00d7ff"/><stop offset="0.89" stop-color="#0060ff"/><stop offset="0.95" stop-color="#0018ff"/><stop offset="1" stop-color="#000bff"/></linearGradient><linearGradient id="h90"><stop offset="0" stop-color="#2dffd1"/><stop offset="0.18" stop-color="#71ff8d"/><stop offset="0.49" stop-color="#b5ff49"/><stop offset="0.66" stop-color="#4cffb2"/><stop offset="0.78" stop-color="#05fff9"/><stop offset="0.84" stop-color="#00d2ff"/><stop offset="0.89" stop-color="#0059ff"/><stop offset="0.95" stop-color="#0014ff"/><stop offset="1" stop-color="#0006ff"/></linearGradient><linearGradient id="h91"><stop offset="0" stop-color="#2dffd1"/><stop offset="0.18" stop-color="#71ff8d"/><stop offset="0.49" stop-color="#b5ff49"/><stop offset="0.66" stop-color="#48ffb6"/><stop offset="0.78" stop-color="#05fff9"/><stop offset="0.84" stop-color="#00d0ff"/><stop offset="0.89" stop-color="#0057ff"/><stop offset="0.95" stop-color="#0012ff"/><stop offset="1" stop-color="#0004ff"/></linearGradient><linearGradient id="h92"><stop offset="0" stop-color="#2dffd1"/><stop offset="0.18" stop-color="#71ff8d"/><stop offset="0.49" stop-color="#b5ff49"/><stop offset="0.66" stop-color="#3fffbf"/><stop offset="0.78" stop-color="#05fff9"/><stop offset="0.84" stop-color="#00c2ff"/><stop offset="0.89" stop-color="#0044ff"/><stop offset="0.95" stop-color="#0003ff"/><stop offset="1" stop-color="#0000f5"/></linearGradient><linearGradient id="h93"><stop offset="0" stop-color="#ecff12"/><stop offset="0.49" stop-color="#deff20"/><stop offset="0.66" stop-color="#64ff9a"/><stop offset="0.78" stop-color="#12ffec"/><stop offset="0.89" stop-color="#00c0ff"/><stop offset="1" stop-color="#007cff"/></linearGradient><linearGradient id="h94"><stop offset="0" stop-color="#e4ff1a"/><stop offset="0.49" stop-color="#d6ff28"/><stop offset="0.66" stop-color="#64ff9a"/><stop offset="0.78" stop-color="#12ffec"/><stop offset="0.89" stop-color="#00c0ff"/><stop offset="1" stop-color="#007cff"/></linearGradient><linearGradient id="h95"><stop offset="0" stop-color="#eaff14"/><stop offset="0.49" stop-color="#dcff22"/><stop offset="0.66" stop-color="#64ff9a"/><stop offset="0.78" stop-color="#12ffec"/><stop offset="0.89" stop-color="#00c0ff"/><stop offset="1" stop-color="#007cff"/></linearGradient><linearGradient id="h96"><stop offset="0" stop-color="#faff04"/><stop offset="0.49" stop-color="#edff11"/><stop offset="0.66" stop-color="#64ff9a"/><stop offset="0.78" stop-color="#12ffec"/><stop offset="0.89" stop-color="#00c0ff"/><stop offset="1" stop-color="#007cff"/></linearGradient><linearGradient id="h97"><stop offset="0" stop-color="#e6ff18"/><stop offset="0.49" stop-color="#d9ff25"/><stop offset="0.66" stop-color="#64ff9a"/><stop offset="0.78" stop-color="#12ffec"/><stop offset="0.89" stop-color="#00c0ff"/><stop offset="1" stop-color="#007cff"/></linearGradient><linearGradient id="h98"><stop offset="0" stop-color="#fdff01"/><stop offset="0.49" stop-color="#efff0f"/><stop offset="0.66" stop-color="#64ff9a"/><stop offset="0.78" stop-color="#12ffec"/><stop offset="0.89" stop-color="#00c0ff"/><stop offset="1" stop-color="#007cff"/></linearGradient><linearGradient id="h99"><stop offset="0" stop-color="#e9ff15"/><stop offset="0.49" stop-color="#dcff22"/><stop offset="0.66" stop-color="#64ff9a"/><stop offset="0.78" stop-color="#12ffec"/><stop offset="0.89" stop-color="#00c0ff"/><stop offset="1" stop-color="#007cff"/></linearGradient><linearGradient id="h100"><stop offset="0" stop-color="#deff20"/><stop offset="0.49" stop-color="#d1ff2d"/><stop offset="0.66" stop-color="#64ff9a"/><stop offset="0.78" stop-color="#12ffec"/><stop offset="0.89" stop-color="#00c0ff"/><stop offset="1" stop-color="#007cff"/></linearGradient><linearGradient id="h101"><stop offset="0" stop-color="#e9ff15"/><stop offset="0.49" stop-color="#dbff23"/><stop offset="0.66" stop-color="#64ff9a"/><stop offset="0.78" stop-color="#12ffec"/><stop offset="0.89" stop-color="#00c0ff"/><stop offset="1" stop-color="#007cff"/></linearGradient><linearGradient id="h102"><stop offset="0" stop-color="#f4ff0a"/><stop offset="0.49" stop-color="#e7ff17"/><stop offset="0.66" stop-color="#64ff9a"/><stop offset="0.78" stop-color="#12ffec"/><stop offset="0.89" stop-color="#00c0ff"/><stop offset="1" stop-color="#007cff"/></linearGradient><linearGradient id="h103"><stop offset="0" stop-color="#efff0f"/><stop offset="0.49" stop-color="#e1ff1d"/><stop offset="0.66" stop-color="#64ff9a"/><stop offset="0.78" stop-color="#12ffec"/><stop offset="0.89" stop-color="#00c0ff"/><stop offset="1" stop-color="#007cff"/></linearGradient><linearGradient id="h104"><stop offset="0" stop-color="#00c0ff"/><stop offset="0.12" stop-color="#20ffde"/><stop offset="0.49" stop-color="#7fff7f"/><stop offset="0.8" stop-color="#a4ff5a"/><stop offset="0.85" stop-color="#f9ff05"/><stop offset="0.89" stop-color="#ff7100"/><stop offset="0.93" stop-color="#ff0400"/><stop offset="1" stop-color="#e50000"/></linearGradient><linearGradient id="h105"><stop offset="0" stop-color="#00c0ff"/><stop offset="0.12" stop-color="#20ffde"/><stop offset="0.49" stop-color="#7fff7f"/><stop offset="0.8" stop-color="#a0ff5e"/><stop offset="0.85" stop-color="#f9ff05"/><stop offset="0.89" stop-color="#ff8b00"/><stop offset="0.93" stop-color="#ff1e00"/><stop offset="1" stop-color="#e50000"/></linearGradient><linearGradient id="h106"><stop offset="0" stop-color="#002aff"/><stop offset="0.03" stop-color="#006eff"/><stop offset="0.06" stop-color="#00c0ff"/><stop offset="0.12" stop-color="#00f6ff"/><stop offset="0.49" stop-color="#3bffc3"/><stop offset="0.8" stop-color="#8cff72"/><stop offset="0.85" stop-color="#f9ff05"/><stop offset="0.89" stop-color="#ff8000"/><stop offset="0.93" stop-color="#ff1300"/><stop offset="1" stop-color="#e50000"/></linearGradient><linearGradient id="h107"><stop offset="0" stop-color="#002aff"/><stop offset="0.03" stop-color="#006eff"/><stop offset="0.06" stop-color="#00c0ff"/><stop offset="0.12" stop-color="#00f6ff"/><stop offset="0.49" stop-color="#3bffc3"/><stop offset="0.8" stop-color="#97ff67"/><stop offset="0.85" stop-color="#f9ff05"/><stop offset="0.89" stop-color="#ff7e00"/><stop offset="0.93" stop-color="#ff1100"/><stop offset="1" stop-color="#e50000"/></linearGradient><linearGradient id="h108"><stop offset="0" stop-color="#002aff"/><stop offset="0.03" stop-color="#006eff"/><stop offset="0.06" stop-color="#00c0ff"/><stop offset="0.12" stop-color="#00f6ff"/><stop offset="0.49" stop-color="#3bffc3"/><stop offset="0.8" stop-color="#8dff71"/><stop offset="0.85" stop-color="#f9ff05"/><stop offset="0.89" stop-color="#ff7500"/><stop offset="0.93" stop-color="#ff0800"/><stop offset="1" stop-color="#e50000"/></linearGradient><linearGradient id="h109"><stop offset="0" stop-color="#002aff"/><stop offset="0.03" stop-color="#006eff"/><stop offset="0.06" stop-color="#00c0ff"/><stop offset="0.12" stop-color="#00f6ff"/><stop offset="0.49" stop-color="#3bffc3"/><stop offset="0.8" stop-color="#8eff70"/><stop offset="0.85" stop-color="#f9ff05"/><stop offset="0.89" stop-color="#ff8b00"/><stop offset="0.93" stop-color="#ff1e00"/><stop offset="1" stop-color="#e50000"/></linearGradient><linearGradient id="h110"><stop offset="0" stop-color="#002aff"/><stop offset="0.03" stop-color="#006eff"/><stop offset="0.06" stop-color="#00c0ff"/><stop offset="0.12" stop-color="#00f6ff"/><stop offset="0.49" stop-color="#3bffc3"/><stop offset="0.81" stop-color="#a6ff58"/><stop offset="0.87" stop-color="#f9ff05"/><stop offset="0.9" stop-color="#ff7d00"/><stop offset="0.94" stop-color="#ff1000"/><stop offset="1" stop-color="#e50000"/></linearGradient><linearGradient id="h111"><stop offset="0" stop-color="#002aff"/><stop offset="0.03" stop-color="#006eff"/><stop offset="0.06" stop-color="#00c0ff"/><stop offset="0.12" stop-color="#00f6ff"/><stop offset="0.49" stop-color="#3bffc3"/><stop offset="0.81" stop-color="#a2ff5c"/><stop offset="0.87" stop-color="#f9ff05"/><stop offset="0.9" stop-color="#ff7500"/><stop offset="0.94" stop-color="#ff0800"/><stop offset="1" stop-color="#e50000"/></linearGradient><linearGradient id="h112"><stop offset="0" stop-color="#00f6ff"/><stop offset="0.29" stop-color="#3dffc1"/><stop offset="0.49" stop-color="#72ff8c"/><stop offset="0.69" stop-color="#8eff70"/><stop offset="0.81" stop-color="#a4ff5a"/><stop offset="0.87" stop-color="#f9ff05"/><stop offset="0.9" stop-color="#ff8500"/><stop offset="0.94" stop-color="#ff1900"/><stop offset="1" stop-color="#e50000"/></linearGradient><linearGradient id="h113"><stop offset="0" stop-color="#00f6ff"/><stop offset="0.29" stop-color="#48ffb6"/><stop offset="0.49" stop-color="#86ff78"/><stop offset="0.69" stop-color="#a1ff5d"/><stop offset="0.81" stop-color="#aaff54"/><stop offset="0.86" stop-color="#f9ff05"/><stop offset="0.9" stop-color="#ff6c00"/><stop offset="0.94" stop-color="#fe0000"/><stop offset="1" stop-color="#e50000"/></linearGradient><linearGradient id="h114"><stop offset="0" stop-color="#00f6ff"/><stop offset="0.29" stop-color="#3affc4"/><stop offset="0.49" stop-color="#6eff90"/><stop offset="0.69" stop-color="#89ff75"/><stop offset="0.81" stop-color="#a2ff5c"/><stop offset="0.86" stop-color="#f9ff05"/><stop offset="0.9" stop-color="#ff7a00"/><stop offset="0.94" stop-color="#ff0d00"/><stop offset="1" stop-color="#e50000"/></linearGradient><linearGradient id="h115"><stop offset="0" stop-color="#00f6ff"/><stop offset="0.29" stop-color="#36ffc8"/><stop offset="0.49" stop-color="#67ff97"/><stop offset="0.69" stop-color="#82ff7c"/><stop offset="0.81" stop-color="#a0ff5e"/><stop offset="0.86" stop-color="#f9ff05"/><stop offset="0.9" stop-color="#ff8000"/><stop offset="0.94" stop-color="#ff1400"/><stop offset="1" stop-color="#e50000"/></linearGradient><linearGradient id="h116"><stop offset="0" stop-color="#00f6ff"/><stop offset="0.29" stop-color="#40ffbe"/><stop offset="0.49" stop-color="#77ff87"/><stop offset="0.69" stop-color="#92ff6c"/><stop offset="0.82" stop-color="#a5ff59"/><stop offset="0.88" stop-color="#f9ff05"/><stop offset="0.91" stop-color="#ff6e00"/><stop offset="0.94" stop-color="#ff0100"/><stop offset="1" stop-color="#e50000"/></linearGradient><linearGradient id="h117"><stop offset="0" stop-color="#00f6ff"/><stop offset="0.29" stop-color="#2effd0"/><stop offset="0.49" stop-color="#57ffa7"/><stop offset="0.69" stop-color="#73ff8b"/><stop offset="0.82" stop-color="#9bff63"/><stop offset="0.88" stop-color="#f9ff05"/><stop offset="0.91" stop-color="#ff7600"/><stop offset="0.94" stop-color="#ff0900"/><stop offset="1" stop-color="#e50000"/></linearGradient><linearGradient id="h118"><stop offset="0" stop-color="#00f6ff"/><stop offset="0.29" stop-color="#1cffe2"/><stop offset="0.49" stop-color="#38ffc6"/><stop offset="0.69" stop-color="#53ffab"/><stop offset="0.82" stop-color="#90ff6e"/><stop offset="0.88" stop-color="#f9ff05"/><stop offset="0.91" stop-color="#ff7200"/><stop offset="0.94" stop-color="#ff0500"/><stop offset="1" stop-color="#e50000"/></linearGradient><linearGradient id="h119"><stop offset="0" stop-color="#00f6ff"/><stop offset="0.29" stop-color="#40ffbe"/><stop offset="0.49" stop-color="#77ff87"/><stop offset="0.69" stop-color="#92ff6c"/><stop offset="0.82" stop-color="#a5ff59"/><stop offset="0.88" stop-color="#f9ff05"/><stop offset="0.91" stop-color="#ff7100"/><stop offset="0.94" stop-color="#ff0400"/><stop offset="1" stop-color="#e50000"/></linearGradient><linearGradient id="h120"><stop offset="0" stop-color="#00f6ff"/><stop offset="0.29" stop-color="#39ffc5"/><stop offset="0.49" stop-color="#6bff93"/><stop offset="0.69" stop-color="#87ff77"/><stop offset="0.82" stop-color="#a1ff5d"/><stop offset="0.88" stop-color="#f9ff05"/><stop offset="0.91" stop-color="#ff8100"/><stop offset="0.94" stop-color="#ff1400"/><stop offset="1" stop-color="#e50000"/></linearGradient><linearGradient id="h121"><stop offset="0" stop-color="#00f6ff"/><stop offset="0.29" stop-color="#46ffb8"/><stop offset="0.49" stop-color="#83ff7b"/><stop offset="0.69" stop-color="#9eff60"/><stop offset="0.82" stop-color="#a9ff55"/><stop offset="0.88" stop-color="#f9ff05"/><stop offset="0.91" stop-color="#ff7200"/><stop offset="0.94" stop-color="#ff0500"/><stop offset="1" stop-color="#e50000"/></linearGradient><linearGradient id="h122"><stop offset="0" stop-color="#00f6ff"/><stop offset="0.29" stop-color="#30ffce"/><stop offset="0.49" stop-color="#5bffa3"/><stop offset="0.69" stop-color="#76ff88"/><stop offset="0.83" stop-color="#9cff62"/><stop offset="0.88" stop-color="#f9ff05"/><stop offset="0.91" stop-color="#ff8400"/><stop offset="0.94" stop-color="#ff1700"/><stop offset="1" stop-color="#e50000"/></linearGradient><linearGradient id="h123"><stop offset="0" stop-color="#00f6ff"/><stop offset="0.29" stop-color="#34ffca"/><stop offset="0.49" stop-color="#63ff9b"/><stop offset="0.69" stop-color="#7eff80"/><stop offset="0.83" stop-color="#9eff60"/><stop offset="0.88" stop-color="#f9ff05"/><stop offset="0.91" stop-color="#ff8000"/><stop offset="0.94" stop-color="#ff1400"/><stop offset="1" stop-color="#e50000"/></linearGradient><linearGradient id="h124"><stop offset="0" stop-color="#00f6ff"/><stop offset="0.29" stop-color="#18ffe6"/><stop offset="0.49" stop-color="#30ffce"/><stop offset="0.69" stop-color="#4bffb3"/><stop offset="0.83" stop-color="#8dff71"/><stop offset="0.88" stop-color="#f9ff05"/><stop offset="0.91" stop-color="#ff6d00"/><stop offset="0.94" stop-color="#ff0000"/><stop offset="1" stop-color="#e50000"/></linearGradient><linearGradient id="h125"><stop offset="0" stop-color="#00f6ff"/><stop offset="0.29" stop-color="#23ffdb"/><stop offset="0.49" stop-color="#43ffbb"/><stop offset="0.69" stop-color="#5effa0"/><stop offset="0.82" stop-color="#94ff6a"/><stop offset="0.87" stop-color="#f9ff05"/><stop offset="0.91" stop-color="#ff7700"/><stop offset="0.94" stop-color="#ff0a00"/><stop offset="1" stop-color="#e50000"/></linearGradient><linearGradient id="h126"><stop offset="0" stop-color="#00f6ff"/><stop offset="0.29" stop-color="#43ffbb"/><stop offset="0.49" stop-color="#7dff81"/><stop offset="0.69" stop-color="#98ff66"/><stop offset="0.82" stop-color="#a7ff57"/><stop offset="0.87" stop-color="#f9ff05"/><stop offset="0.91" stop-color="#ff8a00"/><stop offset="0.94" stop-color="#ff1d00"/><stop offset="1" stop-color="#e50000"/></linearGradient><linearGradient id="h127"><stop offset="0" stop-color="#00f6ff"/><stop offset="0.29" stop-color="#17ffe7"/><stop offset="0.49" stop-color="#2dffd1"/><stop offset="0.69" stop-color="#49ffb5"/><stop offset="0.82" stop-color="#8dff71"/><stop offset="0.87" stop-color="#f9ff05"/><stop offset="0.91" stop-color="#ff7f00"/><stop offset="0.94" stop-color="#ff1200"/><stop offset="1" stop-color="#e50000"/></linearGradient><linearGradient id="h128"><stop offset="0" stop-color="#00f6ff"/><stop offset="0.29" stop-color="#2bffd3"/><stop offset="0.49" stop-color="#52ffac"/><stop offset="0.69" stop-color="#6eff90"/><stop offset="0.82" stop-color="#99ff65"/><stop offset="0.87" stop-color="#f9ff05"/><stop offset="0.91" stop-color="#ff7400"/><stop offset="0.94" stop-color="#ff0700"/><stop offset="1" stop-color="#e50000"/></linearGradient><linearGradient id="h129"><stop offset="0" stop-color="#004bff"/><stop offset="0.03" stop-color="#007fff"/><stop offset="0.1" stop-color="#00c0ff"/><stop offset="0.15" stop-color="#00f6ff"/><stop offset="0.29" stop-color="#12ffec"/><stop offset="0.49" stop-color="#3affc4"/><stop offset="0.82" stop-color="#9aff64"/><stop offset="0.87" stop-color="#f9ff05"/><stop offset="0.91" stop-color="#ff8100"/><stop offset="0.94" stop-color="#ff1400"/><stop offset="1" stop-color="#e50000"/></linearGradient><linearGradient id="h130"><stop offset="0" stop-color="#0045ff"/><stop offset="0.04" stop-color="#0079ff"/><stop offset="0.1" stop-color="#00c0ff"/><stop offset="0.15" stop-color="#00f6ff"/><stop offset="0.29" stop-color="#12ffec"/><stop offset="0.49" stop-color="#34ffca"/><stop offset="0.82" stop-color="#95ff69"/><stop offset="0.87" stop-color="#f9ff05"/><stop offset="0.91" stop-color="#ff7e00"/><stop offset="0.94" stop-color="#ff1200"/><stop offset="1" stop-color="#e50000"/></linearGradient><linearGradient id="h131"><stop offset="0" stop-color="#004dff"/><stop offset="0.03" stop-color="#0080ff"/><stop offset="0.1" stop-color="#00c0ff"/><stop offset="0.15" stop-color="#00f6ff"/><stop offset="0.29" stop-color="#12ffec"/><stop offset="0.49" stop-color="#53ffab"/><stop offset="0.83" stop-color="#acff52"/><stop offset="0.88" stop-color="#f9ff05"/><stop offset="0.91" stop-color="#ff7e00"/><stop offset="0.94" stop-color="#ff1100"/><stop offset="1" stop-color="#e50000"/></linearGradient><linearGradient id="h132"><stop offset="0" stop-color="#0042ff"/><stop offset="0.04" stop-color="#0077ff"/><stop offset="0.1" stop-color="#00c0ff"/><stop offset="0.15" stop-color="#00f6ff"/><stop offset="0.29" stop-color="#12ffec"/><stop offset="0.49" stop-color="#2affd4"/><stop offset="0.83" stop-color="#8dff71"/><stop offset="0.88" stop-color="#f9ff05"/><stop offset="0.91" stop-color="#ff7100"/><stop offset="0.94" stop-color="#ff0400"/><stop offset="1" stop-color="#e50000"/></linearGradient><linearGradient id="h133"><stop offset="0" stop-color="#003aff"/><stop offset="0.04" stop-color="#0070ff"/><stop offset="0.1" stop-color="#00c0ff"/><stop offset="0.15" stop-color="#00f6ff"/><stop offset="0.29" stop-color="#12ffec"/><stop offset="0.49" stop-color="#3effc0"/><stop offset="0.83" stop-color="#9cff62"/><stop offset="0.88" stop-color="#f9ff05"/><stop offset="0.91" stop-color="#ff7400"/><stop offset="0.94" stop-color="#ff0700"/><stop offset="1" stop-color="#e50000"/></linearGradient><linearGradient id="h134"><stop offset="0" stop-color="#004dff"/><stop offset="0.04" stop-color="#0080ff"/><stop offset="0.1" stop-color="#00c0ff"/><stop offset="0.15" stop-color="#00f6ff"/><stop offset="0.29" stop-color="#12ffec"/><stop offset="0.49" stop-color="#2cffd2"/><stop offset="0.81" stop-color="#8fff6f"/><stop offset="0.86" stop-color="#f9ff05"/><stop offset="0.9" stop-color="#ff8100"/><stop offset="0.94" stop-color="#ff1400"/><stop offset="1" stop-color="#e50000"/></linearGradient><linearGradient id="h135"><stop offset="0" stop-color="#004aff"/><stop offset="0.04" stop-color="#007dff"/><stop offset="0.1" stop-color="#00c0ff"/><stop offset="0.15" stop-color="#00f6ff"/><stop offset="0.29" stop-color="#12ffec"/><stop offset="0.49" stop-color="#33ffcb"/><stop offset="0.81" stop-color="#94ff6a"/><stop offset="0.86" stop-color="#f9ff05"/><stop offset="0.9" stop-color="#ff8a00"/><stop offset="0.94" stop-color="#ff1d00"/><stop offset="1" stop-color="#e50000"/></linearGradient><linearGradient id="h136"><stop offset="0" stop-color="#0043ff"/><stop offset="0.04" stop-color="#0077ff"/><stop offset="0.1" stop-color="#00c0ff"/><stop offset="0.15" stop-color="#00f6ff"/><stop offset="0.29" stop-color="#12ffec"/><stop offset="0.49" stop-color="#39ffc5"/><stop offset="0.81" stop-color="#98ff66"/><stop offset="0.86" stop-color="#f9ff05"/><stop offset="0.9" stop-color="#ff6f00"/><stop offset="0.94" stop-color="#ff0300"/><stop offset="1" stop-color="#e50000"/></linearGradient><linearGradient id="h137"><stop offset="0" stop-color="#0040ff"/><stop offset="0.04" stop-color="#0075ff"/><stop offset="0.1" stop-color="#00c0ff"/><stop offset="0.15" stop-color="#00f6ff"/><stop offset="0.29" stop-color="#12ffec"/><stop offset="0.49" stop-color="#38ffc6"/><stop offset="0.83" stop-color="#98ff66"/><stop offset="0.88" stop-color="#f9ff05"/><stop offset="0.91" stop-color="#ff8000"/><stop offset="0.94" stop-color="#ff1400"/><stop offset="1" stop-color="#e50000"/></linearGradient><linearGradient id="h138"><stop offset="0" stop-color="#003bff"/><stop offset="0.04" stop-color="#0071ff"/><stop offset="0.1" stop-color="#00c0ff"/><stop offset="0.15" stop-color="#00f6ff"/><stop offset="0.29" stop-color="#12ffec"/><stop offset="0.49" stop-color="#41ffbd"/><stop offset="0.83" stop-color="#9fff5f"/><stop offset="0.88" stop-color="#f9ff05"/><stop offset="0.91" stop-color="#ff7e00"/><stop offset="0.94" stop-color="#ff1200"/><stop offset="1" stop-color="#e50000"/></linearGradient><linearGradient id="h139"><stop offset="0" stop-color="#0046ff"/><stop offset="0.03" stop-color="#007aff"/><stop offset="0.1" stop-color="#00c0ff"/><stop offset="0.15" stop-color="#00f6ff"/><stop offset="0.29" stop-color="#12ffec"/><stop offset="0.49" stop-color="#35ffc9"/><stop offset="0.83" stop-color="#95ff69"/><stop offset="0.88" stop-color="#f9ff05"/><stop offset="0.91" stop-color="#ff7e00"/><stop offset="0.94" stop-color="#ff1100"/><stop offset="1" stop-color="#e50000"/></linearGradient><linearGradient id="h140"><stop offset="0" stop-color="#00f6ff"/><stop offset="0.29" stop-color="#2bffd3"/><stop offset="0.49" stop-color="#53ffab"/><stop offset="0.69" stop-color="#6eff90"/><stop offset="0.8" stop-color="#99ff65"/><stop offset="0.85" stop-color="#f9ff05"/><stop offset="0.89" stop-color="#ff7e00"/><stop offset="0.93" stop-color="#ff1200"/><stop offset="1" stop-color="#e50000"/></linearGradient><linearGradient id="h141"><stop offset="0" stop-color="#00f6ff"/><stop offset="0.29" stop-color="#1effe0"/><stop offset="0.49" stop-color="#3bffc3"/><stop offset="0.69" stop-color="#56ffa8"/><stop offset="0.8" stop-color="#91ff6d"/><stop offset="0.85" stop-color="#f9ff05"/><stop offset="0.89" stop-color="#ff7a00"/><stop offset="0.93" stop-color="#ff0d00"/><stop offset="1" stop-color="#e50000"/></linearGradient><linearGradient id="h142"><stop offset="0" stop-color="#05fff9"/><stop offset="0.49" stop-color="#64ff9a"/><stop offset="0.84" stop-color="#d1ff2d"/><stop offset="0.9" stop-color="#ffc000"/><stop offset="0.95" stop-color="#ff6e00"/><stop offset="1" stop-color="#ff4500"/></linearGradient><linearGradient id="h143"><stop offset="0" stop-color="#05fff9"/><stop offset="0.49" stop-color="#64ff9a"/><stop offset="0.84" stop-color="#d1ff2d"/><stop offset="0.9" stop-color="#ffc000"/><stop offset="0.95" stop-color="#ff6e00"/><stop offset="1" stop-color="#ff4500"/></linearGradient><linearGradient id="h144"><stop offset="0" stop-color="#05fff9"/><stop offset="0.49" stop-color="#64ff9a"/><stop offset="0.84" stop-color="#d1ff2d"/><stop offset="0.9" stop-color="#ffc000"/><stop offset="0.95" stop-color="#ff6e00"/><stop offset="1" stop-color="#ff4500"/></linearGradient><linearGradient id="h145"><stop offset="0" stop-color="#05fff9"/><stop offset="0.49" stop-color="#64ff9a"/><stop offset="0.84" stop-color="#d1ff2d"/><stop offset="0.9" stop-color="#ffc000"/><stop offset="0.95" stop-color="#ff6e00"/><stop offset="1" stop-color="#ff4500"/></linearGradient><linearGradient id="h146"><stop offset="0" stop-color="#05fff9"/><stop offset="0.49" stop-color="#64ff9a"/><stop offset="0.84" stop-color="#d1ff2d"/><stop offset="0.9" stop-color="#ffc000"/><stop offset="0.95" stop-color="#ff6e00"/><stop offset="1" stop-color="#ff4500"/></linearGradient><linearGradient id="h147"><stop offset="0" stop-color="#00f6ff"/><stop offset="0.06" stop-color="#49ffb5"/><stop offset="0.23" stop-color="#a8ff56"/><stop offset="0.49" stop-color="#d1ff2d"/><stop offset="0.84" stop-color="#d1ff2d"/><stop offset="0.88" stop-color="#12ffec"/><stop offset="0.92" stop-color="#006eff"/><stop offset="0.96" stop-color="#001cff"/><stop offset="1" stop-color="#0000f3"/></linearGradient><linearGradient id="h148"><stop offset="0" stop-color="#00f6ff"/><stop offset="0.06" stop-color="#49ffb5"/><stop offset="0.23" stop-color="#a8ff56"/><stop offset="0.49" stop-color="#d1ff2d"/><stop offset="0.84" stop-color="#d1ff2d"/><stop offset="0.88" stop-color="#12ffec"/><stop offset="0.92" stop-color="#006eff"/><stop offset="0.96" stop-color="#001cff"/><stop offset="1" stop-color="#0000f3"/></linearGradient><linearGradient id="h149"><stop offset="0" stop-color="#00f6ff"/><stop offset="0.06" stop-color="#49ffb5"/><stop offset="0.23" stop-color="#a8ff56"/><stop offset="0.49" stop-color="#d1ff2d"/><stop offset="0.84" stop-color="#d1ff2d"/><stop offset="0.88" stop-color="#12ffec"/><stop offset="0.92" stop-color="#006eff"/><stop offset="0.96" stop-color="#001cff"/><stop offset="1" stop-color="#0000f3"/></linearGradient><linearGradient id="h150"><stop offset="0" stop-color="#00f6ff"/><stop offset="0.06" stop-color="#49ffb5"/><stop offset="0.23" stop-color="#a8ff56"/><stop offset="0.49" stop-color="#f9ff05"/><stop offset="0.84" stop-color="#d1ff2d"/><stop offset="0.88" stop-color="#12ffec"/><stop offset="0.92" stop-color="#006eff"/><stop offset="0.96" stop-color="#001cff"/><stop offset="1" stop-color="#0000f3"/></linearGradient><linearGradient id="h151"><stop offset="0" stop-color="#00f6ff"/><stop offset="0.06" stop-color="#49ffb5"/><stop offset="0.23" stop-color="#a8ff56"/><stop offset="0.49" stop-color="#f9ff05"/><stop offset="0.84" stop-color="#d1ff2d"/><stop offset="0.88" stop-color="#12ffec"/><stop offset="0.92" stop-color="#006eff"/><stop offset="0.96" stop-color="#001cff"/><stop offset="1" stop-color="#0000f3"/></linearGradient><linearGradient id="h152"><stop offset="0" stop-color="#00f6ff"/><stop offset="0.06" stop-color="#49ffb5"/><stop offset="0.23" stop-color="#a8ff56"/><stop offset="0.49" stop-color="#f9ff05"/><stop offset="0.84" stop-color="#d1ff2d"/><stop offset="0.88" stop-color="#12ffec"/><stop offset="0.92" stop-color="#006eff"/><stop offset="0.96" stop-color="#001cff"/><stop offset="1" stop-color="#0000f3"/></linearGradient><linearGradient id="h153"><stop offset="0" stop-color="#00f6ff"/><stop offset="0.06" stop-color="#49ffb5"/><stop offset="0.23" stop-color="#a8ff56"/><stop offset="0.49" stop-color="#f9ff05"/><stop offset="0.84" stop-color="#d1ff2d"/><stop offset="0.88" stop-color="#12ffec"/><stop offset="0.92" stop-color="#006eff"/><stop offset="0.96" stop-color="#001cff"/><stop offset="1" stop-color="#0000f3"/></linearGradient><linearGradient id="ptg" x1="0" y1="0" x2="1" y2="0"><stop offset="0" stop-color="#ddd"/><stop offset="1" stop-color="#111"/></linearGradient><linearGradient id="tfn" x1="0" y1="0" x2="1" y2="0"><stop offset="0" stop-color="#2400e0"/><stop offset="0.45" stop-color="#8a70e0"/><stop offset="0.75" stop-color="#d4c8f4"/><stop offset="1" stop-color="#ffffff"/></linearGradient><radialGradient id="mfan" cx="0.3" cy="0.9" r="1.0"><stop offset="0" stop-color="#f4c6ce"/><stop offset="0.55" stop-color="#fae6ea"/><stop offset="1" stop-color="#fefafa"/></radialGradient><radialGradient id="yfan" cx="0.3" cy="0.85" r="0.95"><stop offset="0" stop-color="#e8edf9"/><stop offset="0.6" stop-color="#f3f5fc"/><stop offset="1" stop-color="#fbfcfe"/></radialGradient><radialGradient id="rfan" cx="0.4" cy="0.8" r="0.9"><stop offset="0" stop-color="#f8dde2"/><stop offset="1" stop-color="#fdf3f5"/></radialGradient></defs>
<rect width="550" height="382" fill="#fff"/>
<text x="5" y="16.9" font-size="15.8" fill="#000" text-anchor="start" font-weight="bold" >A</text>
<text x="21.2" y="21.1" font-size="8.3" fill="#000" text-anchor="start" font-weight="bold" >TF</text>
<text x="13.7" y="29.9" font-size="8.1" fill="#000" text-anchor="start" font-weight="bold" >cluster</text>
<circle cx="19.2" cy="38.4" r="1.65" fill="#ee4a4a" stroke="#555" stroke-width="0.55"/>
<text x="22.6" y="40.8" font-size="6.7" fill="#222" text-anchor="start" font-weight="normal" >TF1</text>
<circle cx="19.2" cy="44.9" r="1.65" fill="#22bb22" stroke="#555" stroke-width="0.55"/>
<text x="22.6" y="47.3" font-size="6.7" fill="#222" text-anchor="start" font-weight="normal" >TF2</text>
<circle cx="19.2" cy="51.4" r="1.65" fill="#eeee30" stroke="#555" stroke-width="0.55"/>
<text x="22.6" y="53.8" font-size="6.7" fill="#222" text-anchor="start" font-weight="normal" >TF3</text>
<circle cx="19.2" cy="57.9" r="1.65" fill="#cc44cc" stroke="#555" stroke-width="0.55"/>
<text x="22.6" y="60.3" font-size="6.7" fill="#222" text-anchor="start" font-weight="normal" >TF4</text>
<circle cx="19.2" cy="64.4" r="1.65" fill="#33ccdd" stroke="#555" stroke-width="0.55"/>
<text x="22.6" y="66.8" font-size="6.7" fill="#222" text-anchor="start" font-weight="normal" >TF5</text>
<rect x="20.1" y="78.3" width="6" height="47.7" fill="url(#cbar)"/>
<text x="29.6" y="80.6" font-size="6.4" fill="#222" text-anchor="start" font-weight="normal" >3</text>
<text x="29.6" y="88.35" font-size="6.4" fill="#222" text-anchor="start" font-weight="normal" >2</text>
<text x="29.6" y="96.1" font-size="6.4" fill="#222" text-anchor="start" font-weight="normal" >1</text>
<text x="29.6" y="103.85" font-size="6.4" fill="#222" text-anchor="start" font-weight="normal" >0</text>
<text x="29.6" y="111.6" font-size="6.4" fill="#222" text-anchor="start" font-weight="normal" >&#8722;1</text>
<text x="29.6" y="119.35" font-size="6.4" fill="#222" text-anchor="start" font-weight="normal" >&#8722;2</text>
<text x="29.6" y="127.1" font-size="6.4" fill="#222" text-anchor="start" font-weight="normal" >&#8722;3</text>
<rect x="49.4" y="13.9" width="174" height="0.67" fill="url(#h1)"/>
<rect x="49.4" y="14.51" width="174" height="0.67" fill="url(#h2)"/>
<rect x="49.4" y="15.11" width="174" height="0.67" fill="url(#h3)"/>
<rect x="49.4" y="15.72" width="174" height="0.67" fill="url(#h4)"/>
<rect x="49.4" y="16.33" width="174" height="0.67" fill="url(#h5)"/>
<rect x="49.4" y="16.94" width="174" height="0.67" fill="url(#h6)"/>
<rect x="49.4" y="17.54" width="174" height="0.67" fill="url(#h7)"/>
<rect x="49.4" y="18.15" width="174" height="0.67" fill="url(#h8)"/>
<rect x="49.4" y="18.76" width="174" height="0.67" fill="url(#h9)"/>
<rect x="49.4" y="19.37" width="174" height="0.67" fill="url(#h10)"/>
<rect x="49.4" y="19.97" width="174" height="0.67" fill="url(#h11)"/>
<rect x="49.4" y="20.58" width="174" height="0.67" fill="url(#h12)"/>
<rect x="49.4" y="21.19" width="174" height="0.67" fill="url(#h13)"/>
<rect x="49.4" y="21.8" width="174" height="0.67" fill="url(#h14)"/>
<rect x="49.4" y="22.4" width="174" height="0.67" fill="url(#h15)"/>
<rect x="49.4" y="23.01" width="174" height="0.67" fill="url(#h16)"/>
<rect x="49.4" y="23.62" width="174" height="0.67" fill="url(#h17)"/>
<rect x="49.4" y="24.23" width="174" height="0.67" fill="url(#h18)"/>
<rect x="49.4" y="24.83" width="174" height="0.67" fill="url(#h19)"/>
<rect x="49.4" y="25.44" width="174" height="0.67" fill="url(#h20)"/>
<rect x="49.4" y="26.05" width="174" height="0.67" fill="url(#h21)"/>
<rect x="49.4" y="26.66" width="174" height="0.67" fill="url(#h22)"/>
<rect x="49.4" y="27.26" width="174" height="0.67" fill="url(#h23)"/>
<rect x="49.4" y="27.87" width="174" height="0.67" fill="url(#h24)"/>
<rect x="49.4" y="28.48" width="174" height="0.67" fill="url(#h25)"/>
<rect x="49.4" y="29.09" width="174" height="0.67" fill="url(#h26)"/>
<rect x="49.4" y="29.69" width="174" height="0.67" fill="url(#h27)"/>
<rect x="45.6" y="13.9" width="2.6" height="16.4" fill="#f65a5a"/>
<text x="226.4" y="22.9" font-size="7" fill="#222" text-anchor="start" font-weight="normal" >39 genes</text>
<rect x="49.4" y="32.4" width="174" height="0.67" fill="url(#h28)"/>
<rect x="49.4" y="33.01" width="174" height="0.67" fill="url(#h29)"/>
<rect x="49.4" y="33.62" width="174" height="0.67" fill="url(#h30)"/>
<rect x="49.4" y="34.23" width="174" height="0.67" fill="url(#h31)"/>
<rect x="49.4" y="34.84" width="174" height="0.67" fill="url(#h32)"/>
<rect x="49.4" y="35.46" width="174" height="0.67" fill="url(#h33)"/>
<rect x="49.4" y="36.07" width="174" height="0.67" fill="url(#h34)"/>
<rect x="49.4" y="36.68" width="174" height="0.67" fill="url(#h35)"/>
<rect x="49.4" y="37.29" width="174" height="0.67" fill="url(#h36)"/>
<rect x="45.6" y="32.4" width="2.6" height="5.5" fill="#14e414"/>
<text x="226.4" y="37.5" font-size="7" fill="#222" text-anchor="start" font-weight="normal" >13 genes</text>
<rect x="49.4" y="40.3" width="174" height="0.66" fill="url(#h37)"/>
<rect x="49.4" y="40.9" width="174" height="0.66" fill="url(#h38)"/>
<rect x="49.4" y="41.49" width="174" height="0.66" fill="url(#h39)"/>
<rect x="49.4" y="42.09" width="174" height="0.66" fill="url(#h40)"/>
<rect x="49.4" y="42.69" width="174" height="0.66" fill="url(#h41)"/>
<rect x="49.4" y="43.29" width="174" height="0.66" fill="url(#h42)"/>
<rect x="49.4" y="43.88" width="174" height="0.66" fill="url(#h43)"/>
<rect x="49.4" y="44.48" width="174" height="0.66" fill="url(#h44)"/>
<rect x="49.4" y="45.08" width="174" height="0.66" fill="url(#h45)"/>
<rect x="49.4" y="45.67" width="174" height="0.66" fill="url(#h46)"/>
<rect x="49.4" y="46.27" width="174" height="0.66" fill="url(#h47)"/>
<rect x="49.4" y="46.87" width="174" height="0.66" fill="url(#h48)"/>
<rect x="49.4" y="47.46" width="174" height="0.66" fill="url(#h49)"/>
<rect x="49.4" y="48.06" width="174" height="0.66" fill="url(#h50)"/>
<rect x="49.4" y="48.66" width="174" height="0.66" fill="url(#h51)"/>
<rect x="49.4" y="49.26" width="174" height="0.66" fill="url(#h52)"/>
<rect x="49.4" y="49.85" width="174" height="0.66" fill="url(#h53)"/>
<rect x="49.4" y="50.45" width="174" height="0.66" fill="url(#h54)"/>
<rect x="49.4" y="51.05" width="174" height="0.66" fill="url(#h55)"/>
<rect x="49.4" y="51.64" width="174" height="0.66" fill="url(#h56)"/>
<rect x="49.4" y="52.24" width="174" height="0.66" fill="url(#h57)"/>
<rect x="49.4" y="52.84" width="174" height="0.66" fill="url(#h58)"/>
<rect x="49.4" y="53.43" width="174" height="0.66" fill="url(#h59)"/>
<rect x="49.4" y="54.03" width="174" height="0.66" fill="url(#h60)"/>
<rect x="49.4" y="54.63" width="174" height="0.66" fill="url(#h61)"/>
<rect x="49.4" y="55.23" width="174" height="0.66" fill="url(#h62)"/>
<rect x="49.4" y="55.82" width="174" height="0.66" fill="url(#h63)"/>
<rect x="49.4" y="56.42" width="174" height="0.66" fill="url(#h64)"/>
<rect x="49.4" y="57.02" width="174" height="0.66" fill="url(#h65)"/>
<rect x="49.4" y="57.61" width="174" height="0.66" fill="url(#h66)"/>
<rect x="49.4" y="58.21" width="174" height="0.66" fill="url(#h67)"/>
<rect x="49.4" y="58.81" width="174" height="0.66" fill="url(#h68)"/>
<rect x="49.4" y="59.4" width="174" height="0.66" fill="url(#h69)"/>
<rect x="49.4" y="60" width="174" height="0.66" fill="url(#h70)"/>
<rect x="49.4" y="60.6" width="174" height="0.66" fill="url(#h71)"/>
<rect x="49.4" y="61.2" width="174" height="0.66" fill="url(#h72)"/>
<rect x="49.4" y="61.79" width="174" height="0.66" fill="url(#h73)"/>
<rect x="49.4" y="62.39" width="174" height="0.66" fill="url(#h74)"/>
<rect x="49.4" y="62.99" width="174" height="0.66" fill="url(#h75)"/>
<rect x="49.4" y="63.58" width="174" height="0.66" fill="url(#h76)"/>
<rect x="49.4" y="64.18" width="174" height="0.66" fill="url(#h77)"/>
<rect x="49.4" y="64.78" width="174" height="0.66" fill="url(#h78)"/>
<rect x="49.4" y="65.37" width="174" height="0.66" fill="url(#h79)"/>
<rect x="49.4" y="65.97" width="174" height="0.66" fill="url(#h80)"/>
<rect x="49.4" y="66.57" width="174" height="0.66" fill="url(#h81)"/>
<rect x="49.4" y="67.17" width="174" height="0.66" fill="url(#h82)"/>
<rect x="49.4" y="67.76" width="174" height="0.66" fill="url(#h83)"/>
<rect x="49.4" y="68.36" width="174" height="0.66" fill="url(#h84)"/>
<rect x="49.4" y="68.96" width="174" height="0.66" fill="url(#h85)"/>
<rect x="49.4" y="69.55" width="174" height="0.66" fill="url(#h86)"/>
<rect x="49.4" y="70.15" width="174" height="0.66" fill="url(#h87)"/>
<rect x="49.4" y="70.75" width="174" height="0.66" fill="url(#h88)"/>
<rect x="49.4" y="71.34" width="174" height="0.66" fill="url(#h89)"/>
<rect x="49.4" y="71.94" width="174" height="0.66" fill="url(#h90)"/>
<rect x="49.4" y="72.54" width="174" height="0.66" fill="url(#h91)"/>
<rect x="49.4" y="73.14" width="174" height="0.66" fill="url(#h92)"/>
<rect x="49.4" y="73.73" width="174" height="0.66" fill="url(#h93)"/>
<rect x="49.4" y="74.33" width="174" height="0.66" fill="url(#h94)"/>
<rect x="49.4" y="74.93" width="174" height="0.66" fill="url(#h95)"/>
<rect x="49.4" y="75.52" width="174" height="0.66" fill="url(#h96)"/>
<rect x="49.4" y="76.12" width="174" height="0.66" fill="url(#h97)"/>
<rect x="49.4" y="76.72" width="174" height="0.66" fill="url(#h98)"/>
<rect x="49.4" y="77.31" width="174" height="0.66" fill="url(#h99)"/>
<rect x="49.4" y="77.91" width="174" height="0.66" fill="url(#h100)"/>
<rect x="49.4" y="78.51" width="174" height="0.66" fill="url(#h101)"/>
<rect x="49.4" y="79.11" width="174" height="0.66" fill="url(#h102)"/>
<rect x="49.4" y="79.7" width="174" height="0.66" fill="url(#h103)"/>
<rect x="45.6" y="40.3" width="2.6" height="40" fill="#f6f624"/>
<text x="226.4" y="62.8" font-size="7" fill="#222" text-anchor="start" font-weight="normal" >94 genes</text>
<rect x="49.4" y="82.6" width="174" height="0.66" fill="url(#h104)"/>
<rect x="49.4" y="83.2" width="174" height="0.66" fill="url(#h105)"/>
<rect x="49.4" y="83.8" width="174" height="0.66" fill="url(#h106)"/>
<rect x="49.4" y="84.4" width="174" height="0.66" fill="url(#h107)"/>
<rect x="49.4" y="85" width="174" height="0.66" fill="url(#h108)"/>
<rect x="49.4" y="85.6" width="174" height="0.66" fill="url(#h109)"/>
<rect x="49.4" y="86.2" width="174" height="0.66" fill="url(#h110)"/>
<rect x="49.4" y="86.8" width="174" height="0.66" fill="url(#h111)"/>
<rect x="49.4" y="87.4" width="174" height="0.66" fill="url(#h112)"/>
<rect x="49.4" y="88" width="174" height="0.66" fill="url(#h113)"/>
<rect x="49.4" y="88.6" width="174" height="0.66" fill="url(#h114)"/>
<rect x="49.4" y="89.2" width="174" height="0.66" fill="url(#h115)"/>
<rect x="49.4" y="89.8" width="174" height="0.66" fill="url(#h116)"/>
<rect x="49.4" y="90.4" width="174" height="0.66" fill="url(#h117)"/>
<rect x="49.4" y="91" width="174" height="0.66" fill="url(#h118)"/>
<rect x="49.4" y="91.6" width="174" height="0.66" fill="url(#h119)"/>
<rect x="49.4" y="92.2" width="174" height="0.66" fill="url(#h120)"/>
<rect x="49.4" y="92.8" width="174" height="0.66" fill="url(#h121)"/>
<rect x="49.4" y="93.4" width="174" height="0.66" fill="url(#h122)"/>
<rect x="49.4" y="94" width="174" height="0.66" fill="url(#h123)"/>
<rect x="49.4" y="94.6" width="174" height="0.66" fill="url(#h124)"/>
<rect x="49.4" y="95.2" width="174" height="0.66" fill="url(#h125)"/>
<rect x="49.4" y="95.8" width="174" height="0.66" fill="url(#h126)"/>
<rect x="49.4" y="96.4" width="174" height="0.66" fill="url(#h127)"/>
<rect x="49.4" y="97" width="174" height="0.66" fill="url(#h128)"/>
<rect x="49.4" y="97.6" width="174" height="0.66" fill="url(#h129)"/>
<rect x="49.4" y="98.2" width="174" height="0.66" fill="url(#h130)"/>
<rect x="49.4" y="98.8" width="174" height="0.66" fill="url(#h131)"/>
<rect x="49.4" y="99.4" width="174" height="0.66" fill="url(#h132)"/>
<rect x="49.4" y="100" width="174" height="0.66" fill="url(#h133)"/>
<rect x="49.4" y="100.6" width="174" height="0.66" fill="url(#h134)"/>
<rect x="49.4" y="101.2" width="174" height="0.66" fill="url(#h135)"/>
<rect x="49.4" y="101.8" width="174" height="0.66" fill="url(#h136)"/>
<rect x="49.4" y="102.4" width="174" height="0.66" fill="url(#h137)"/>
<rect x="49.4" y="103" width="174" height="0.66" fill="url(#h138)"/>
<rect x="49.4" y="103.6" width="174" height="0.66" fill="url(#h139)"/>
<rect x="49.4" y="104.2" width="174" height="0.66" fill="url(#h140)"/>
<rect x="49.4" y="104.8" width="174" height="0.66" fill="url(#h141)"/>
<rect x="49.4" y="105.4" width="174" height="0.66" fill="url(#h142)"/>
<rect x="49.4" y="106" width="174" height="0.66" fill="url(#h143)"/>
<rect x="49.4" y="106.6" width="174" height="0.66" fill="url(#h144)"/>
<rect x="49.4" y="107.2" width="174" height="0.66" fill="url(#h145)"/>
<rect x="49.4" y="107.8" width="174" height="0.66" fill="url(#h146)"/>
<rect x="45.6" y="82.6" width="2.6" height="25.8" fill="#f05cf0"/>
<text x="226.4" y="99.4" font-size="7" fill="#222" text-anchor="start" font-weight="normal" >61 genes</text>
<rect x="49.4" y="112.2" width="174" height="0.63" fill="url(#h147)"/>
<rect x="49.4" y="112.77" width="174" height="0.63" fill="url(#h148)"/>
<rect x="49.4" y="113.34" width="174" height="0.63" fill="url(#h149)"/>
<rect x="49.4" y="113.91" width="174" height="0.63" fill="url(#h150)"/>
<rect x="49.4" y="114.49" width="174" height="0.63" fill="url(#h151)"/>
<rect x="49.4" y="115.06" width="174" height="0.63" fill="url(#h152)"/>
<rect x="49.4" y="115.63" width="174" height="0.63" fill="url(#h153)"/>
<rect x="45.6" y="112.2" width="2.6" height="4" fill="#2eeaf2"/>
<text x="226.4" y="116.5" font-size="7" fill="#222" text-anchor="start" font-weight="normal" >10 genes</text>
<polygon points="72,117.2 223.4,117.2 223.4,121.8" fill="url(#ptg)"/>
<text x="46.5" y="132.6" font-size="7.3" fill="#222" text-anchor="start" font-weight="normal" >Low</text>
<text x="131.3" y="132.4" font-size="7.4" fill="#222" text-anchor="middle" font-weight="normal" >Pseudo Time</text>
<text x="216.8" y="132.6" font-size="7.3" fill="#222" text-anchor="start" font-weight="normal" >High</text>
<text x="262.4" y="17.4" font-size="15.8" fill="#000" text-anchor="start" font-weight="bold" >B</text>
<text x="302.2" y="16.1" font-size="6.9" fill="#000" text-anchor="start" font-weight="bold" >TF numbers</text>
<text x="303" y="23.2" font-size="7" fill="#111" text-anchor="start" font-weight="normal" textLength="5.0" lengthAdjust="spacingAndGlyphs">20</text>
<text x="308.2" y="23.2" font-size="7" fill="#111" text-anchor="start" font-weight="normal" textLength="4.8" lengthAdjust="spacingAndGlyphs">15</text>
<text x="313.5" y="23.2" font-size="7" fill="#111" text-anchor="start" font-weight="normal" textLength="5.0" lengthAdjust="spacingAndGlyphs">10</text>
<text x="319.4" y="23.2" font-size="7" fill="#111" text-anchor="start" font-weight="normal" textLength="2.7" lengthAdjust="spacingAndGlyphs">5</text>
<text x="323.5" y="23.2" font-size="7" fill="#111" text-anchor="start" font-weight="normal" textLength="2.8" lengthAdjust="spacingAndGlyphs">0</text>
<rect x="304.8" y="25.3" width="31.4" height="6.8" fill="url(#tfn)"/>
<text x="404.5" y="16" font-size="6.8" fill="#000" text-anchor="start" font-weight="bold" >TF cluster</text>
<text x="388.9" y="24.2" font-size="6" fill="#444" text-anchor="middle" font-weight="normal" >TF1</text>
<rect x="385.5" y="26.4" width="6.8" height="6.4" fill="#f65a5a"/>
<text x="401.9" y="24.2" font-size="6" fill="#444" text-anchor="middle" font-weight="normal" >TF2</text>
<rect x="398.5" y="26.4" width="6.8" height="6.4" fill="#14e414"/>
<text x="414.9" y="24.2" font-size="6" fill="#444" text-anchor="middle" font-weight="normal" >TF3</text>
<rect x="411.5" y="26.4" width="6.8" height="6.4" fill="#f6f624"/>
<text x="427.9" y="24.2" font-size="6" fill="#444" text-anchor="middle" font-weight="normal" >TF4</text>
<rect x="424.5" y="26.4" width="6.8" height="6.4" fill="#f05cf0"/>
<text x="440.9" y="24.2" font-size="6" fill="#444" text-anchor="middle" font-weight="normal" >TF5</text>
<rect x="437.5" y="26.4" width="6.8" height="6.4" fill="#2eeaf2"/>
<text x="453.9" y="24.2" font-size="6" fill="#444" text-anchor="middle" font-weight="normal" >TF6</text>
<rect x="450.5" y="26.4" width="6.8" height="6.4" fill="#bbbbbb"/>
<rect x="261.2" y="55.95" width="8" height="7.85" fill="#ede8fb"/>
<text x="265.2" y="62" font-size="6.3" fill="#222" text-anchor="middle" font-weight="bold" >1</text>
<rect x="269.9" y="55.95" width="8" height="7.85" fill="#ede8fb"/>
<text x="273.9" y="62" font-size="6.3" fill="#222" text-anchor="middle" font-weight="bold" >1</text>
<rect x="287.3" y="55.95" width="8" height="7.85" fill="#e3dcf9"/>
<text x="291.3" y="62" font-size="6.3" fill="#222" text-anchor="middle" font-weight="bold" >2</text>
<rect x="296" y="55.95" width="8" height="7.85" fill="#ede8fb"/>
<text x="300" y="62" font-size="6.3" fill="#222" text-anchor="middle" font-weight="bold" >1</text>
<rect x="304.7" y="55.95" width="8" height="7.85" fill="#e3dcf9"/>
<text x="308.7" y="62" font-size="6.3" fill="#222" text-anchor="middle" font-weight="bold" >2</text>
<rect x="356.9" y="55.95" width="8" height="7.85" fill="#c5baf3"/>
<text x="360.9" y="62" font-size="6.3" fill="#222" text-anchor="middle" font-weight="bold" >5</text>
<rect x="365.6" y="55.95" width="8" height="7.85" fill="#ede8fb"/>
<text x="369.6" y="62" font-size="6.3" fill="#222" text-anchor="middle" font-weight="bold" >1</text>
<rect x="400.4" y="55.95" width="8" height="7.85" fill="#ede8fb"/>
<text x="404.4" y="62" font-size="6.3" fill="#222" text-anchor="middle" font-weight="bold" >1</text>
<rect x="409.1" y="55.95" width="8" height="7.85" fill="#ede8fb"/>
<text x="413.1" y="62" font-size="6.3" fill="#222" text-anchor="middle" font-weight="bold" >1</text>
<rect x="417.8" y="55.95" width="8" height="7.85" fill="#ede8fb"/>
<text x="421.8" y="62" font-size="6.3" fill="#222" text-anchor="middle" font-weight="bold" >1</text>
<rect x="426.5" y="55.95" width="8" height="7.85" fill="#ede8fb"/>
<text x="430.5" y="62" font-size="6.3" fill="#222" text-anchor="middle" font-weight="bold" >1</text>
<rect x="435.2" y="55.95" width="8" height="7.85" fill="#d9d1f7"/>
<text x="439.2" y="62" font-size="6.3" fill="#222" text-anchor="middle" font-weight="bold" >3</text>
<rect x="443.9" y="55.95" width="8" height="7.85" fill="#ede8fb"/>
<text x="447.9" y="62" font-size="6.3" fill="#222" text-anchor="middle" font-weight="bold" >1</text>
<rect x="452.6" y="55.95" width="8" height="7.85" fill="#bbaff1"/>
<text x="456.6" y="62" font-size="6.3" fill="#222" text-anchor="middle" font-weight="bold" >6</text>
<rect x="461.3" y="55.95" width="8" height="7.85" fill="#ede8fb"/>
<text x="465.3" y="62" font-size="6.3" fill="#222" text-anchor="middle" font-weight="bold" >1</text>
<rect x="478.7" y="55.95" width="8" height="7.85" fill="#e3dcf9"/>
<text x="482.7" y="62" font-size="6.3" fill="#222" text-anchor="middle" font-weight="bold" >2</text>
<rect x="496.1" y="55.95" width="8" height="7.85" fill="#9d8dec"/>
<text x="500.1" y="62" font-size="6.3" fill="#222" text-anchor="middle" font-weight="bold" >9</text>
<rect x="287.3" y="64.55" width="8" height="7.85" fill="#d9d1f7"/>
<text x="291.3" y="70.6" font-size="6.3" fill="#222" text-anchor="middle" font-weight="bold" >3</text>
<rect x="296" y="64.55" width="8" height="7.85" fill="#ede8fb"/>
<text x="300" y="70.6" font-size="6.3" fill="#222" text-anchor="middle" font-weight="bold" >1</text>
<rect x="304.7" y="64.55" width="8" height="7.85" fill="#e3dcf9"/>
<text x="308.7" y="70.6" font-size="6.3" fill="#222" text-anchor="middle" font-weight="bold" >2</text>
<rect x="356.9" y="64.55" width="8" height="7.85" fill="#ede8fb"/>
<text x="360.9" y="70.6" font-size="6.3" fill="#222" text-anchor="middle" font-weight="bold" >1</text>
<rect x="443.9" y="64.55" width="8" height="7.85" fill="#ede8fb"/>
<text x="447.9" y="70.6" font-size="6.3" fill="#222" text-anchor="middle" font-weight="bold" >1</text>
<rect x="452.6" y="64.55" width="8" height="7.85" fill="#ede8fb"/>
<text x="456.6" y="70.6" font-size="6.3" fill="#222" text-anchor="middle" font-weight="bold" >1</text>
<rect x="487.4" y="64.55" width="8" height="7.85" fill="#e3dcf9"/>
<text x="491.4" y="70.6" font-size="6.3" fill="#222" text-anchor="middle" font-weight="bold" >2</text>
<rect x="496.1" y="64.55" width="8" height="7.85" fill="#e3dcf9"/>
<text x="500.1" y="70.6" font-size="6.3" fill="#222" text-anchor="middle" font-weight="bold" >2</text>
<rect x="287.3" y="73.15" width="8" height="7.85" fill="#cfc6f5"/>
<text x="291.3" y="79.2" font-size="6.3" fill="#222" text-anchor="middle" font-weight="bold" >4</text>
<rect x="296" y="73.15" width="8" height="7.85" fill="#d9d1f7"/>
<text x="300" y="79.2" font-size="6.3" fill="#222" text-anchor="middle" font-weight="bold" >3</text>
<rect x="304.7" y="73.15" width="8" height="7.85" fill="#c5baf3"/>
<text x="308.7" y="79.2" font-size="6.3" fill="#222" text-anchor="middle" font-weight="bold" >5</text>
<rect x="313.4" y="73.15" width="8" height="7.85" fill="#ede8fb"/>
<text x="317.4" y="79.2" font-size="6.3" fill="#222" text-anchor="middle" font-weight="bold" >1</text>
<rect x="339.5" y="73.15" width="8" height="7.85" fill="#ede8fb"/>
<text x="343.5" y="79.2" font-size="6.3" fill="#222" text-anchor="middle" font-weight="bold" >1</text>
<rect x="348.2" y="73.15" width="8" height="7.85" fill="#ede8fb"/>
<text x="352.2" y="79.2" font-size="6.3" fill="#222" text-anchor="middle" font-weight="bold" >1</text>
<rect x="356.9" y="73.15" width="8" height="7.85" fill="#614ae0"/>
<text x="360.9" y="79.2" font-size="6.3" fill="#222" text-anchor="middle" font-weight="bold" >15</text>
<rect x="365.6" y="73.15" width="8" height="7.85" fill="#d9d1f7"/>
<text x="369.6" y="79.2" font-size="6.3" fill="#222" text-anchor="middle" font-weight="bold" >3</text>
<rect x="374.3" y="73.15" width="8" height="7.85" fill="#ede8fb"/>
<text x="378.3" y="79.2" font-size="6.3" fill="#222" text-anchor="middle" font-weight="bold" >1</text>
<rect x="383" y="73.15" width="8" height="7.85" fill="#e3dcf9"/>
<text x="387" y="79.2" font-size="6.3" fill="#222" text-anchor="middle" font-weight="bold" >2</text>
<rect x="391.7" y="73.15" width="8" height="7.85" fill="#ede8fb"/>
<text x="395.7" y="79.2" font-size="6.3" fill="#222" text-anchor="middle" font-weight="bold" >1</text>
<rect x="400.4" y="73.15" width="8" height="7.85" fill="#d9d1f7"/>
<text x="404.4" y="79.2" font-size="6.3" fill="#222" text-anchor="middle" font-weight="bold" >3</text>
<rect x="409.1" y="73.15" width="8" height="7.85" fill="#a799ed"/>
<text x="413.1" y="79.2" font-size="6.3" fill="#222" text-anchor="middle" font-weight="bold" >8</text>
<rect x="435.2" y="73.15" width="8" height="7.85" fill="#8977e8"/>
<text x="439.2" y="79.2" font-size="6.3" fill="#222" text-anchor="middle" font-weight="bold" >11</text>
<rect x="443.9" y="73.15" width="8" height="7.85" fill="#ede8fb"/>
<text x="447.9" y="79.2" font-size="6.3" fill="#222" text-anchor="middle" font-weight="bold" >1</text>
<rect x="452.6" y="73.15" width="8" height="7.85" fill="#7f6ce6"/>
<text x="456.6" y="79.2" font-size="6.3" fill="#222" text-anchor="middle" font-weight="bold" >12</text>
<rect x="470" y="73.15" width="8" height="7.85" fill="#ede8fb"/>
<text x="474" y="79.2" font-size="6.3" fill="#222" text-anchor="middle" font-weight="bold" >1</text>
<rect x="487.4" y="73.15" width="8" height="7.85" fill="#d9d1f7"/>
<text x="491.4" y="79.2" font-size="6.3" fill="#222" text-anchor="middle" font-weight="bold" >3</text>
<rect x="496.1" y="73.15" width="8" height="7.85" fill="#4d33dc"/>
<text x="500.1" y="79.2" font-size="6.3" fill="#222" text-anchor="middle" font-weight="bold" >17</text>
<rect x="504.8" y="73.15" width="8" height="7.85" fill="#ede8fb"/>
<text x="508.8" y="79.2" font-size="6.3" fill="#222" text-anchor="middle" font-weight="bold" >1</text>
<rect x="269.9" y="81.75" width="8" height="7.85" fill="#ede8fb"/>
<text x="273.9" y="87.8" font-size="6.3" fill="#222" text-anchor="middle" font-weight="bold" >1</text>
<rect x="278.6" y="81.75" width="8" height="7.85" fill="#ede8fb"/>
<text x="282.6" y="87.8" font-size="6.3" fill="#222" text-anchor="middle" font-weight="bold" >1</text>
<rect x="287.3" y="81.75" width="8" height="7.85" fill="#bbaff1"/>
<text x="291.3" y="87.8" font-size="6.3" fill="#222" text-anchor="middle" font-weight="bold" >6</text>
<rect x="296" y="81.75" width="8" height="7.85" fill="#d9d1f7"/>
<text x="300" y="87.8" font-size="6.3" fill="#222" text-anchor="middle" font-weight="bold" >3</text>
<rect x="304.7" y="81.75" width="8" height="7.85" fill="#d9d1f7"/>
<text x="308.7" y="87.8" font-size="6.3" fill="#222" text-anchor="middle" font-weight="bold" >3</text>
<rect x="322.1" y="81.75" width="8" height="7.85" fill="#c5baf3"/>
<text x="326.1" y="87.8" font-size="6.3" fill="#222" text-anchor="middle" font-weight="bold" >5</text>
<rect x="330.8" y="81.75" width="8" height="7.85" fill="#e3dcf9"/>
<text x="334.8" y="87.8" font-size="6.3" fill="#222" text-anchor="middle" font-weight="bold" >2</text>
<rect x="339.5" y="81.75" width="8" height="7.85" fill="#ede8fb"/>
<text x="343.5" y="87.8" font-size="6.3" fill="#222" text-anchor="middle" font-weight="bold" >1</text>
<rect x="356.9" y="81.75" width="8" height="7.85" fill="#8977e8"/>
<text x="360.9" y="87.8" font-size="6.3" fill="#222" text-anchor="middle" font-weight="bold" >11</text>
<rect x="365.6" y="81.75" width="8" height="7.85" fill="#bbaff1"/>
<text x="369.6" y="87.8" font-size="6.3" fill="#222" text-anchor="middle" font-weight="bold" >6</text>
<rect x="374.3" y="81.75" width="8" height="7.85" fill="#ede8fb"/>
<text x="378.3" y="87.8" font-size="6.3" fill="#222" text-anchor="middle" font-weight="bold" >1</text>
<rect x="409.1" y="81.75" width="8" height="7.85" fill="#ede8fb"/>
<text x="413.1" y="87.8" font-size="6.3" fill="#222" text-anchor="middle" font-weight="bold" >1</text>
<rect x="417.8" y="81.75" width="8" height="7.85" fill="#cfc6f5"/>
<text x="421.8" y="87.8" font-size="6.3" fill="#222" text-anchor="middle" font-weight="bold" >4</text>
<rect x="435.2" y="81.75" width="8" height="7.85" fill="#cfc6f5"/>
<text x="439.2" y="87.8" font-size="6.3" fill="#222" text-anchor="middle" font-weight="bold" >4</text>
<rect x="443.9" y="81.75" width="8" height="7.85" fill="#e3dcf9"/>
<text x="447.9" y="87.8" font-size="6.3" fill="#222" text-anchor="middle" font-weight="bold" >2</text>
<rect x="452.6" y="81.75" width="8" height="7.85" fill="#c5baf3"/>
<text x="456.6" y="87.8" font-size="6.3" fill="#222" text-anchor="middle" font-weight="bold" >5</text>
<rect x="487.4" y="81.75" width="8" height="7.85" fill="#ede8fb"/>
<text x="491.4" y="87.8" font-size="6.3" fill="#222" text-anchor="middle" font-weight="bold" >1</text>
<rect x="496.1" y="81.75" width="8" height="7.85" fill="#cfc6f5"/>
<text x="500.1" y="87.8" font-size="6.3" fill="#222" text-anchor="middle" font-weight="bold" >4</text>
<rect x="356.9" y="90.35" width="8" height="7.85" fill="#cfc6f5"/>
<text x="360.9" y="96.4" font-size="6.3" fill="#222" text-anchor="middle" font-weight="bold" >4</text>
<rect x="400.4" y="90.35" width="8" height="7.85" fill="#e3dcf9"/>
<text x="404.4" y="96.4" font-size="6.3" fill="#222" text-anchor="middle" font-weight="bold" >2</text>
<rect x="452.6" y="90.35" width="8" height="7.85" fill="#e3dcf9"/>
<text x="456.6" y="96.4" font-size="6.3" fill="#222" text-anchor="middle" font-weight="bold" >2</text>
<rect x="487.4" y="90.35" width="8" height="7.85" fill="#ede8fb"/>
<text x="491.4" y="96.4" font-size="6.3" fill="#222" text-anchor="middle" font-weight="bold" >1</text>
<rect x="496.1" y="90.35" width="8" height="7.85" fill="#ede8fb"/>
<text x="500.1" y="96.4" font-size="6.3" fill="#222" text-anchor="middle" font-weight="bold" >1</text>
<rect x="452.6" y="98.95" width="8" height="7.85" fill="#ede8fb"/>
<text x="456.6" y="105" font-size="6.3" fill="#222" text-anchor="middle" font-weight="bold" >1</text>
<rect x="260.85" y="52.59" width="8.7" height="0.81" fill="#444"/>
<rect x="269.55" y="52.18" width="8.7" height="1.22" fill="#444"/>
<rect x="278.25" y="52.59" width="8.7" height="0.81" fill="#444"/>
<rect x="287.25" y="47.25" width="8.1" height="6.15" fill="#f0507a" stroke="#333" stroke-width="0.55"/>
<rect x="295.95" y="50.12" width="8.1" height="3.28" fill="#f0507a" stroke="#333" stroke-width="0.55"/>
<rect x="304.65" y="48.48" width="8.1" height="4.92" fill="#f0507a" stroke="#333" stroke-width="0.55"/>
<rect x="313.05" y="52.59" width="8.7" height="0.81" fill="#444"/>
<rect x="322.05" y="51.35" width="8.1" height="2.05" fill="#f0507a" stroke="#333" stroke-width="0.55"/>
<rect x="330.45" y="52.18" width="8.7" height="1.22" fill="#444"/>
<rect x="339.15" y="52.18" width="8.7" height="1.22" fill="#444"/>
<rect x="347.85" y="52.59" width="8.7" height="0.81" fill="#444"/>
<rect x="356.85" y="38.64" width="8.1" height="14.76" fill="#f0507a" stroke="#333" stroke-width="0.55"/>
<text x="360.9" y="37.24" font-size="6.1" fill="#222" text-anchor="middle" font-weight="normal" >36</text>
<rect x="365.55" y="49.3" width="8.1" height="4.1" fill="#f0507a" stroke="#333" stroke-width="0.55"/>
<rect x="373.95" y="52.18" width="8.7" height="1.22" fill="#444"/>
<rect x="382.65" y="52.18" width="8.7" height="1.22" fill="#444"/>
<rect x="391.35" y="52.59" width="8.7" height="0.81" fill="#444"/>
<rect x="400.35" y="50.94" width="8.1" height="2.46" fill="#f0507a" stroke="#333" stroke-width="0.55"/>
<rect x="409.05" y="49.3" width="8.1" height="4.1" fill="#f0507a" stroke="#333" stroke-width="0.55"/>
<rect x="417.75" y="51.35" width="8.1" height="2.05" fill="#f0507a" stroke="#333" stroke-width="0.55"/>
<rect x="426.15" y="52.59" width="8.7" height="0.81" fill="#444"/>
<rect x="435.15" y="46.02" width="8.1" height="7.38" fill="#f0507a" stroke="#333" stroke-width="0.55"/>
<text x="439.2" y="44.62" font-size="6.1" fill="#222" text-anchor="middle" font-weight="normal" >18</text>
<rect x="443.85" y="51.35" width="8.1" height="2.05" fill="#f0507a" stroke="#333" stroke-width="0.55"/>
<rect x="452.55" y="42.33" width="8.1" height="11.07" fill="#f0507a" stroke="#333" stroke-width="0.55"/>
<text x="456.6" y="40.93" font-size="6.1" fill="#222" text-anchor="middle" font-weight="normal" >27</text>
<rect x="460.95" y="52.59" width="8.7" height="0.81" fill="#444"/>
<rect x="469.65" y="52.59" width="8.7" height="0.81" fill="#444"/>
<rect x="478.35" y="52.18" width="8.7" height="1.22" fill="#444"/>
<rect x="487.35" y="50.53" width="8.1" height="2.87" fill="#f0507a" stroke="#333" stroke-width="0.55"/>
<rect x="496.05" y="39.87" width="8.1" height="13.53" fill="#f0507a" stroke="#333" stroke-width="0.55"/>
<text x="500.1" y="38.47" font-size="6.1" fill="#222" text-anchor="middle" font-weight="normal" >33</text>
<rect x="504.45" y="52.59" width="8.7" height="0.81" fill="#444"/>
<line x1="261" y1="53.4" x2="514" y2="53.4" stroke="#222" stroke-width="0.9"/>
<line x1="513.9" y1="37.9" x2="513.9" y2="53.4" stroke="#222" stroke-width="0.7"/>
<line x1="513.9" y1="53.2" x2="516.6" y2="53.2" stroke="#333" stroke-width="0.45"/>
<line x1="513.9" y1="51.3" x2="516.6" y2="51.3" stroke="#333" stroke-width="0.45"/>
<line x1="513.9" y1="49.4" x2="516.6" y2="49.4" stroke="#333" stroke-width="0.45"/>
<line x1="513.9" y1="47.5" x2="516.6" y2="47.5" stroke="#333" stroke-width="0.45"/>
<line x1="513.9" y1="45.6" x2="516.6" y2="45.6" stroke="#333" stroke-width="0.45"/>
<line x1="513.9" y1="43.7" x2="516.6" y2="43.7" stroke="#333" stroke-width="0.45"/>
<line x1="513.9" y1="41.8" x2="516.6" y2="41.8" stroke="#333" stroke-width="0.45"/>
<line x1="513.9" y1="39.9" x2="516.6" y2="39.9" stroke="#333" stroke-width="0.45"/>
<line x1="513.9" y1="38" x2="516.6" y2="38" stroke="#333" stroke-width="0.45"/>
<text x="519" y="54.6" font-size="5.4" fill="#222" text-anchor="start" font-weight="normal" >0</text>
<text x="519" y="50.25" font-size="5.4" fill="#222" text-anchor="start" font-weight="normal" >10</text>
<text x="519" y="45.9" font-size="5.4" fill="#222" text-anchor="start" font-weight="normal" >20</text>
<text x="519" y="41.55" font-size="5.4" fill="#222" text-anchor="start" font-weight="normal" >30</text>
<rect x="515.1" y="55.4" width="5.4" height="8.6" fill="#f65a5a"/>
<rect x="522.5" y="56.3" width="8.85" height="6.8" fill="#f0507a" stroke="#333" stroke-width="0.55"/>
<rect x="515.1" y="64" width="5.4" height="8.6" fill="#14e414"/>
<rect x="522.5" y="64.9" width="2.95" height="6.8" fill="#f0507a" stroke="#333" stroke-width="0.55"/>
<rect x="515.1" y="72.6" width="5.4" height="8.6" fill="#f6f624"/>
<rect x="522.5" y="73.5" width="21.34" height="6.8" fill="#f0507a" stroke="#333" stroke-width="0.55"/>
<rect x="515.1" y="81.2" width="5.4" height="8.6" fill="#f05cf0"/>
<rect x="522.5" y="82.1" width="13.85" height="6.8" fill="#f0507a" stroke="#333" stroke-width="0.55"/>
<rect x="515.1" y="89.8" width="5.4" height="8.6" fill="#2eeaf2"/>
<rect x="522.5" y="90.7" width="2.27" height="6.8" fill="#f0507a" stroke="#333" stroke-width="0.55"/>
<rect x="515.1" y="98.4" width="5.4" height="8.6" fill="#bbbbbb"/>
<line x1="522.5" y1="55.4" x2="522.5" y2="106.2" stroke="#222" stroke-width="0.7"/>
<line x1="522.5" y1="106.2" x2="540.3" y2="106.2" stroke="#222" stroke-width="0.6"/>
<line x1="523.8" y1="106.2" x2="523.8" y2="108.6" stroke="#333" stroke-width="0.45"/>
<text font-size="4.4" fill="#222" text-anchor="end" transform="translate(525.3,110) rotate(-90)">0</text>
<line x1="527.8" y1="106.2" x2="527.8" y2="108.6" stroke="#333" stroke-width="0.45"/>
<text font-size="4.4" fill="#222" text-anchor="end" transform="translate(529.3,110) rotate(-90)">20</text>
<line x1="531.8" y1="106.2" x2="531.8" y2="108.6" stroke="#333" stroke-width="0.45"/>
<text font-size="4.4" fill="#222" text-anchor="end" transform="translate(533.3,110) rotate(-90)">40</text>
<line x1="535.8" y1="106.2" x2="535.8" y2="108.6" stroke="#333" stroke-width="0.45"/>
<text font-size="4.4" fill="#222" text-anchor="end" transform="translate(537.3,110) rotate(-90)">60</text>
<line x1="539.8" y1="106.2" x2="539.8" y2="108.6" stroke="#333" stroke-width="0.45"/>
<text font-size="4.4" fill="#222" text-anchor="end" transform="translate(541.3,110) rotate(-90)">80</text>
<text font-size="7.0" fill="#f0849e" text-anchor="end" transform="translate(267.7,110.2) rotate(-90)">AP2</text>
<text font-size="7.0" fill="#f0849e" text-anchor="end" transform="translate(276.4,110.2) rotate(-90)">ARF</text>
<text font-size="7.0" fill="#f0849e" text-anchor="end" transform="translate(285.1,110.2) rotate(-90)">ARR&#8722;B</text>
<text font-size="7.0" fill="#f0849e" text-anchor="end" transform="translate(293.8,110.2) rotate(-90)">bHLH</text>
<text font-size="7.0" fill="#f0849e" text-anchor="end" transform="translate(302.5,110.2) rotate(-90)">bZIP</text>
<text font-size="7.0" fill="#f0849e" text-anchor="end" transform="translate(311.2,110.2) rotate(-90)">C2H2</text>
<text font-size="7.0" fill="#f0849e" text-anchor="end" transform="translate(319.9,110.2) rotate(-90)">CAMTA</text>
<text font-size="7.0" fill="#f0849e" text-anchor="end" transform="translate(328.6,110.2) rotate(-90)">CO&#8722;like</text>
<text font-size="7.0" fill="#f0849e" text-anchor="end" transform="translate(337.3,110.2) rotate(-90)">DBB</text>
<text font-size="7.0" fill="#f0849e" text-anchor="end" transform="translate(346,110.2) rotate(-90)">Dof</text>
<text font-size="7.0" fill="#f0849e" text-anchor="end" transform="translate(354.7,110.2) rotate(-90)">E2F/DP</text>
<text font-size="7.0" fill="#3a56a6" text-anchor="end" transform="translate(363.4,110.2) rotate(-90)">ERF</text>
<text font-size="7.0" fill="#f0849e" text-anchor="end" transform="translate(372.1,110.2) rotate(-90)">G2&#8722;like</text>
<text font-size="7.0" fill="#f0849e" text-anchor="end" transform="translate(380.8,110.2) rotate(-90)">GATA</text>
<text font-size="7.0" fill="#f0849e" text-anchor="end" transform="translate(389.5,110.2) rotate(-90)">GRAS</text>
<text font-size="7.0" fill="#f0849e" text-anchor="end" transform="translate(398.2,110.2) rotate(-90)">GRF</text>
<text font-size="7.0" fill="#f0849e" text-anchor="end" transform="translate(406.9,110.2) rotate(-90)">HD&#8722;ZIP</text>
<text font-size="7.0" fill="#f0849e" text-anchor="end" transform="translate(415.6,110.2) rotate(-90)">HSF</text>
<text font-size="7.0" fill="#f0849e" text-anchor="end" transform="translate(424.3,110.2) rotate(-90)">LBD</text>
<text font-size="7.0" fill="#f0849e" text-anchor="end" transform="translate(433,110.2) rotate(-90)">M&#8722;type_MADS</text>
<text font-size="7.0" fill="#3a56a6" text-anchor="end" transform="translate(441.7,110.2) rotate(-90)">MYB</text>
<text font-size="7.0" fill="#f0849e" text-anchor="end" transform="translate(450.4,110.2) rotate(-90)">MYB_related</text>
<text font-size="7.0" fill="#3a56a6" text-anchor="end" transform="translate(459.1,110.2) rotate(-90)">NAC</text>
<text font-size="7.0" fill="#f0849e" text-anchor="end" transform="translate(467.8,110.2) rotate(-90)">NF&#8722;YC</text>
<text font-size="7.0" fill="#f0849e" text-anchor="end" transform="translate(476.5,110.2) rotate(-90)">Nin&#8722;like</text>
<text font-size="7.0" fill="#f0849e" text-anchor="end" transform="translate(485.2,110.2) rotate(-90)">RAV</text>
<text font-size="7.0" fill="#f0849e" text-anchor="end" transform="translate(493.9,110.2) rotate(-90)">Trihelix</text>
<text font-size="7.0" fill="#3a56a6" text-anchor="end" transform="translate(502.6,110.2) rotate(-90)">WRKY</text>
<text font-size="7.0" fill="#f0849e" text-anchor="end" transform="translate(511.3,110.2) rotate(-90)">ZF&#8722;HD</text>
<text x="5.2" y="159.9" font-size="15.8" fill="#000" text-anchor="start" font-weight="bold" >C</text>
<rect x="90.4" y="153.6" width="6.4" height="5.8" fill="#22c784"/>
<text x="97" y="159.4" font-size="8.4" fill="#222" text-anchor="start" font-weight="normal" >BS</text>
<rect x="114" y="153.6" width="5.8" height="5.8" fill="#fbb41c"/>
<text x="120.2" y="159.4" font-size="8.4" fill="#222" text-anchor="start" font-weight="normal" >M</text>
<rect x="92.4" y="165.65" width="17.4" height="5.9" fill="#22c784"/>
<rect x="109.8" y="165.65" width="12.3" height="5.9" fill="#fbb41c"/>
<text x="55.4" y="171.2" font-size="7.4" fill="#111" text-anchor="end" font-weight="normal" >YABBY</text>
<line x1="56.5" y1="168.6" x2="58.5" y2="168.6" stroke="#111" stroke-width="0.9"/>
<rect x="108.3" y="172.44" width="1.5" height="5.9" fill="#22c784"/>
<rect x="109.8" y="172.44" width="29.3" height="5.9" fill="#fbb41c"/>
<text x="55.4" y="177.98" font-size="7.4" fill="#e8ae1a" text-anchor="end" font-weight="normal" >WRKY</text>
<line x1="56.5" y1="175.38" x2="58.5" y2="175.38" stroke="#111" stroke-width="0.9"/>
<text x="141.4" y="179.69" font-size="9" fill="#111" text-anchor="start" font-weight="normal" >**</text>
<rect x="107.4" y="179.22" width="2.4" height="5.9" fill="#22c784"/>
<rect x="109.8" y="179.22" width="12.3" height="5.9" fill="#fbb41c"/>
<text x="55.4" y="184.77" font-size="7.4" fill="#111" text-anchor="end" font-weight="normal" >Trihelix</text>
<line x1="56.5" y1="182.17" x2="58.5" y2="182.17" stroke="#111" stroke-width="0.9"/>
<rect x="89.6" y="186" width="20.2" height="5.9" fill="#22c784"/>
<rect x="109.8" y="186" width="9.1" height="5.9" fill="#fbb41c"/>
<text x="55.4" y="191.55" font-size="7.4" fill="#111" text-anchor="end" font-weight="normal" >TCP</text>
<line x1="56.5" y1="188.95" x2="58.5" y2="188.95" stroke="#111" stroke-width="0.9"/>
<rect x="98.8" y="192.79" width="11" height="5.9" fill="#22c784"/>
<text x="55.4" y="198.34" font-size="7.4" fill="#111" text-anchor="end" font-weight="normal" >TALE</text>
<line x1="56.5" y1="195.74" x2="58.5" y2="195.74" stroke="#111" stroke-width="0.9"/>
<rect x="78" y="199.57" width="31.8" height="5.9" fill="#22c784"/>
<text x="55.4" y="205.12" font-size="7.4" fill="#111" text-anchor="end" font-weight="normal" >SBP</text>
<line x1="56.5" y1="202.52" x2="58.5" y2="202.52" stroke="#111" stroke-width="0.9"/>
<rect x="85.2" y="206.36" width="24.6" height="5.9" fill="#22c784"/>
<rect x="109.8" y="206.36" width="4.2" height="5.9" fill="#fbb41c"/>
<text x="55.4" y="211.91" font-size="7.4" fill="#111" text-anchor="end" font-weight="normal" >NF&#8722;YC</text>
<line x1="56.5" y1="209.31" x2="58.5" y2="209.31" stroke="#111" stroke-width="0.9"/>
<rect x="93.9" y="213.15" width="15.9" height="5.9" fill="#22c784"/>
<text x="55.4" y="218.69" font-size="7.4" fill="#111" text-anchor="end" font-weight="normal" >NF&#8722;YA</text>
<line x1="56.5" y1="216.09" x2="58.5" y2="216.09" stroke="#111" stroke-width="0.9"/>
<rect x="101" y="219.93" width="8.8" height="5.9" fill="#22c784"/>
<rect x="109.8" y="219.93" width="18.9" height="5.9" fill="#fbb41c"/>
<text x="55.4" y="225.48" font-size="7.4" fill="#111" text-anchor="end" font-weight="normal" >NAC</text>
<line x1="56.5" y1="222.88" x2="58.5" y2="222.88" stroke="#111" stroke-width="0.9"/>
<rect x="89.6" y="226.72" width="20.2" height="5.9" fill="#22c784"/>
<rect x="109.8" y="226.72" width="6.2" height="5.9" fill="#fbb41c"/>
<text x="55.4" y="232.26" font-size="7.4" fill="#111" text-anchor="end" font-weight="normal" >MYB_related</text>
<line x1="56.5" y1="229.66" x2="58.5" y2="229.66" stroke="#111" stroke-width="0.9"/>
<rect x="104" y="233.5" width="5.8" height="5.9" fill="#22c784"/>
<rect x="109.8" y="233.5" width="12.3" height="5.9" fill="#fbb41c"/>
<text x="55.4" y="239.05" font-size="7.4" fill="#111" text-anchor="end" font-weight="normal" >MYB</text>
<line x1="56.5" y1="236.45" x2="58.5" y2="236.45" stroke="#111" stroke-width="0.9"/>
<rect x="109.8" y="240.29" width="14.3" height="5.9" fill="#fbb41c"/>
<text x="55.4" y="245.84" font-size="7.4" fill="#111" text-anchor="end" font-weight="normal" >M&#8722;type_MADS</text>
<line x1="56.5" y1="243.24" x2="58.5" y2="243.24" stroke="#111" stroke-width="0.9"/>
<rect x="68.5" y="247.07" width="41.3" height="5.9" fill="#22c784"/>
<text x="55.4" y="252.62" font-size="7.4" fill="#111" text-anchor="end" font-weight="normal" >LSD</text>
<line x1="56.5" y1="250.02" x2="58.5" y2="250.02" stroke="#111" stroke-width="0.9"/>
<rect x="109.8" y="253.86" width="36.8" height="5.9" fill="#fbb41c"/>
<text x="55.4" y="259.41" font-size="7.4" fill="#111" text-anchor="end" font-weight="normal" >LFY</text>
<line x1="56.5" y1="256.81" x2="58.5" y2="256.81" stroke="#111" stroke-width="0.9"/>
<rect x="104.8" y="260.64" width="5" height="5.9" fill="#22c784"/>
<rect x="109.8" y="260.64" width="12.3" height="5.9" fill="#fbb41c"/>
<text x="55.4" y="266.19" font-size="7.4" fill="#111" text-anchor="end" font-weight="normal" >LBD</text>
<line x1="56.5" y1="263.59" x2="58.5" y2="263.59" stroke="#111" stroke-width="0.9"/>
<rect x="109.8" y="267.43" width="32.4" height="5.9" fill="#fbb41c"/>
<text x="55.4" y="272.98" font-size="7.4" fill="#111" text-anchor="end" font-weight="normal" >HSF</text>
<line x1="56.5" y1="270.38" x2="58.5" y2="270.38" stroke="#111" stroke-width="0.9"/>
<rect x="96.2" y="274.21" width="13.6" height="5.9" fill="#22c784"/>
<rect x="109.8" y="274.21" width="11.4" height="5.9" fill="#fbb41c"/>
<text x="55.4" y="279.76" font-size="7.4" fill="#111" text-anchor="end" font-weight="normal" >HD&#8722;ZIP</text>
<line x1="56.5" y1="277.16" x2="58.5" y2="277.16" stroke="#111" stroke-width="0.9"/>
<rect x="96.2" y="281" width="13.6" height="5.9" fill="#22c784"/>
<rect x="109.8" y="281" width="19.5" height="5.9" fill="#fbb41c"/>
<text x="55.4" y="286.55" font-size="7.4" fill="#111" text-anchor="end" font-weight="normal" >GRF</text>
<line x1="56.5" y1="283.94" x2="58.5" y2="283.94" stroke="#111" stroke-width="0.9"/>
<rect x="69.4" y="287.78" width="40.4" height="5.9" fill="#22c784"/>
<rect x="109.8" y="287.78" width="4.2" height="5.9" fill="#fbb41c"/>
<text x="55.4" y="293.33" font-size="7.4" fill="#1fb884" text-anchor="end" font-weight="normal" >G2&#8722;like</text>
<line x1="56.5" y1="290.73" x2="58.5" y2="290.73" stroke="#111" stroke-width="0.9"/>
<text x="60.6" y="295.03" font-size="9" fill="#111" text-anchor="start" font-weight="normal" >**</text>
<rect x="104" y="294.56" width="5.8" height="5.9" fill="#22c784"/>
<rect x="109.8" y="294.56" width="20.1" height="5.9" fill="#fbb41c"/>
<text x="55.4" y="300.12" font-size="7.4" fill="#e8ae1a" text-anchor="end" font-weight="normal" >ERF</text>
<line x1="56.5" y1="297.51" x2="58.5" y2="297.51" stroke="#111" stroke-width="0.9"/>
<text x="132.2" y="301.81" font-size="9" fill="#111" text-anchor="start" font-weight="normal" >**</text>
<rect x="109.8" y="301.35" width="16.3" height="5.9" fill="#fbb41c"/>
<text x="55.4" y="306.9" font-size="7.4" fill="#111" text-anchor="end" font-weight="normal" >EIL</text>
<line x1="56.5" y1="304.3" x2="58.5" y2="304.3" stroke="#111" stroke-width="0.9"/>
<rect x="68" y="308.14" width="41.8" height="5.9" fill="#22c784"/>
<rect x="109.8" y="308.14" width="5.1" height="5.9" fill="#fbb41c"/>
<text x="55.4" y="313.69" font-size="7.4" fill="#1fb884" text-anchor="end" font-weight="normal" >Dof</text>
<line x1="56.5" y1="311.09" x2="58.5" y2="311.09" stroke="#111" stroke-width="0.9"/>
<text x="60.6" y="315.39" font-size="9" fill="#111" text-anchor="start" font-weight="normal" >**</text>
<rect x="68.5" y="314.92" width="41.3" height="5.9" fill="#22c784"/>
<text x="55.4" y="320.47" font-size="7.4" fill="#111" text-anchor="end" font-weight="normal" >CO&#8722;like</text>
<line x1="56.5" y1="317.87" x2="58.5" y2="317.87" stroke="#111" stroke-width="0.9"/>
<rect x="92.4" y="321.7" width="17.4" height="5.9" fill="#22c784"/>
<rect x="109.8" y="321.7" width="2.8" height="5.9" fill="#fbb41c"/>
<text x="55.4" y="327.25" font-size="7.4" fill="#111" text-anchor="end" font-weight="normal" >bZIP</text>
<line x1="56.5" y1="324.65" x2="58.5" y2="324.65" stroke="#111" stroke-width="0.9"/>
<rect x="98.2" y="328.49" width="11.6" height="5.9" fill="#22c784"/>
<rect x="109.8" y="328.49" width="12.9" height="5.9" fill="#fbb41c"/>
<text x="55.4" y="334.04" font-size="7.4" fill="#111" text-anchor="end" font-weight="normal" >bHLH</text>
<line x1="56.5" y1="331.44" x2="58.5" y2="331.44" stroke="#111" stroke-width="0.9"/>
<rect x="86.7" y="335.28" width="23.1" height="5.9" fill="#22c784"/>
<rect x="109.8" y="335.28" width="8" height="5.9" fill="#fbb41c"/>
<text x="55.4" y="340.83" font-size="7.4" fill="#111" text-anchor="end" font-weight="normal" >ARR&#8722;B</text>
<line x1="56.5" y1="338.23" x2="58.5" y2="338.23" stroke="#111" stroke-width="0.9"/>
<rect x="91.6" y="342.06" width="18.2" height="5.9" fill="#22c784"/>
<text x="55.4" y="347.61" font-size="7.4" fill="#111" text-anchor="end" font-weight="normal" >ARF</text>
<line x1="56.5" y1="345.01" x2="58.5" y2="345.01" stroke="#111" stroke-width="0.9"/>
<rect x="58.5" y="165.3" width="102.9" height="185.2" fill="none" stroke="#111" stroke-width="1.0"/>
<line x1="84.3" y1="350.5" x2="84.3" y2="352.4" stroke="#333" stroke-width="0.5"/>
<text x="84.3" y="361" font-size="8" fill="#222" text-anchor="middle" font-weight="normal" >2.5</text>
<line x1="109.8" y1="350.5" x2="109.8" y2="352.4" stroke="#333" stroke-width="0.5"/>
<text x="109.8" y="361" font-size="8" fill="#222" text-anchor="middle" font-weight="normal" >0.0</text>
<line x1="135.3" y1="350.5" x2="135.3" y2="352.4" stroke="#333" stroke-width="0.5"/>
<text x="135.3" y="361" font-size="8" fill="#222" text-anchor="middle" font-weight="normal" >2.5</text>
<text x="111.3" y="369.2" font-size="9.3" fill="#111" text-anchor="middle" font-weight="normal" >Actual / Expect</text>
<text x="165.3" y="159.8" font-size="15.8" fill="#000" text-anchor="start" font-weight="bold" >D</text>
<text x="181" y="152.8" font-size="8.2" fill="#000" text-anchor="start" font-weight="bold" >TF cluster</text>
<circle cx="191.9" cy="159.1" r="1.75" fill="#ee4a4a" stroke="#555" stroke-width="0.55"/>
<text x="195.8" y="161.6" font-size="7.1" fill="#222" text-anchor="start" font-weight="normal" >TF1</text>
<circle cx="191.9" cy="165.98" r="1.75" fill="#22bb22" stroke="#555" stroke-width="0.55"/>
<text x="195.8" y="168.48" font-size="7.1" fill="#222" text-anchor="start" font-weight="normal" >TF2</text>
<circle cx="191.9" cy="172.86" r="1.75" fill="#eeee30" stroke="#555" stroke-width="0.55"/>
<text x="195.8" y="175.36" font-size="7.1" fill="#222" text-anchor="start" font-weight="normal" >TF3</text>
<circle cx="191.9" cy="179.74" r="1.75" fill="#cc44cc" stroke="#555" stroke-width="0.55"/>
<text x="195.8" y="182.24" font-size="7.1" fill="#222" text-anchor="start" font-weight="normal" >TF4</text>
<circle cx="191.9" cy="186.62" r="1.75" fill="#33ccdd" stroke="#555" stroke-width="0.55"/>
<text x="195.8" y="189.12" font-size="7.1" fill="#222" text-anchor="start" font-weight="normal" >TF5</text>
<polygon points="208,202 228,152 262,150 300,170 345,212 330,228 300,250 265,262 243,262 226,238" fill="#eef1fb" fill-opacity="0.6"/>
<polygon points="238,222 300,208 322,222 300,246 262,250" fill="#f8e8ee" fill-opacity="0.8"/>
<circle cx="261.3" cy="172" r="29.5" fill="url(#yfan)"/>
<circle cx="324.4" cy="195.9" r="26" fill="url(#mfan)"/>
<circle cx="220.4" cy="217.1" r="18.3" fill="url(#rfan)"/>
<path d="M258.79 202.5L289.25 159.54M258.79 202.5L266.94 202.08M258.79 202.5L291.86 173.49M258.79 202.5L268.94 201.63M258.79 202.5L278.23 197.49M258.79 202.5L290.02 161.44M258.79 202.5L289.25 159.54M256.76 202.26L291.55 167.37M256.76 202.26L268.94 201.63M256.76 202.26L291.39 177.55M256.76 202.26L263.81 141.5M256.76 202.26L261.76 141.4M256.76 202.26L274.68 199.52M256.76 202.26L291.55 167.37M254.75 201.89L290.66 163.38M254.75 201.89L289.69 183.43M254.75 201.89L290.39 181.51M254.75 201.89L276.49 198.56M254.75 201.89L261.76 141.4M254.75 201.89L251.7 142.94M254.75 201.89L289.25 159.54M252.77 201.39L277.29 145.91M252.77 201.39L257.68 141.61M252.77 201.39L249.78 143.65M252.77 201.39L291.89 171.44M252.77 201.39L274.68 199.52M252.77 201.39L264.92 202.39M252.77 201.39L285.66 190.52M250.82 200.75L289.69 183.43M250.82 200.75L244.37 146.51M250.82 200.75L290.96 179.54M250.82 200.75L286.21 154.22M250.82 200.75L289.25 159.54M250.82 200.75L288.86 185.3M250.82 200.75L281.48 195M248.93 199.99L290.39 181.51M248.93 199.99L288.86 185.3M248.93 199.99L259.72 141.44M248.93 199.99L290.39 181.51M248.93 199.99L241.12 149M248.93 199.99L270.9 201.06M248.93 199.99L291.79 169.4M247.09 199.1L247.92 144.48M247.09 199.1L246.11 145.44M247.09 199.1L244.37 146.51M247.09 199.1L263.81 141.5M247.09 199.1L264.92 202.39M247.09 199.1L269.83 142.61M247.09 199.1L290.96 179.54M245.31 198.09L242.7 147.7M245.31 198.09L278.23 197.49M245.31 198.09L290.02 161.44M245.31 198.09L279 147.04M245.31 198.09L289.25 159.54M245.31 198.09L291.39 177.55M245.31 198.09L270.9 201.06M243.6 196.96L263.81 141.5M243.6 196.96L291.79 169.4M243.6 196.96L267.85 142.11M243.6 196.96L289.69 183.43M243.6 196.96L275.51 144.9M243.6 196.96L291.17 165.36M243.6 196.96L241.12 149M241.97 195.72L287.91 187.11M241.97 195.72L249.78 143.65M241.97 195.72L290.02 161.44M241.97 195.72L288.86 185.3M241.97 195.72L273.67 144.01M241.97 195.72L287.34 155.93M241.97 195.72L291.86 173.49M240.43 194.38L270.9 201.06M240.43 194.38L249.78 143.65M240.43 194.38L284.37 192.11M240.43 194.38L271.78 143.25M240.43 194.38L279 147.04M240.43 194.38L279.9 196.3M240.43 194.38L267.85 142.11M238.98 192.94L291.55 167.37M238.98 192.94L275.51 144.9M238.98 192.94L242.7 147.7M238.98 192.94L247.92 144.48M238.98 192.94L291.7 175.52M238.98 192.94L278.23 197.49M238.98 192.94L251.7 142.94M237.63 191.4L286.21 154.22M237.63 191.4L251.7 142.94M237.63 191.4L268.94 201.63M237.63 191.4L275.51 144.9M237.63 191.4L284.97 152.6M237.63 191.4L247.92 144.48M237.63 191.4L242.7 147.7M236.39 189.78L268.94 201.63M236.39 189.78L286.84 188.86M236.39 189.78L241.12 149M236.39 189.78L265.84 141.74M236.39 189.78L265.84 141.74M236.39 189.78L260.84 202.6M236.39 189.78L246.11 145.44M235.26 188.07L290.66 163.38M235.26 188.07L284.97 152.6M235.26 188.07L284.37 192.11M235.26 188.07L286.21 154.22M235.26 188.07L287.34 155.93M235.26 188.07L247.92 144.48M235.26 188.07L291.7 175.52M234.25 186.3L289.69 183.43M234.25 186.3L263.81 141.5M234.25 186.3L278.23 197.49M234.25 186.3L286.84 188.86M234.25 186.3L273.67 144.01M234.25 186.3L280.63 148.28M234.25 186.3L249.78 143.65M233.35 184.46L277.29 145.91M233.35 184.46L280.63 148.28M233.35 184.46L241.12 149M233.35 184.46L287.34 155.93M233.35 184.46L279.9 196.3M233.35 184.46L253.66 142.37M233.35 184.46L255.66 141.92M232.58 182.56L269.83 142.61M232.58 182.56L284.37 192.11M232.58 182.56L251.7 142.94M232.58 182.56L241.12 149M232.58 182.56L246.11 145.44M232.58 182.56L290.02 161.44M232.58 182.56L274.68 199.52M231.94 180.62L291.17 165.36M231.94 180.62L261.76 141.4M231.94 180.62L286.84 188.86M231.94 180.62L291.86 173.49M231.94 180.62L263.81 141.5M231.94 180.62L289.25 159.54M231.94 180.62L291.55 167.37M231.43 178.64L263.81 141.5M231.43 178.64L282.97 193.6M231.43 178.64L278.23 197.49M231.43 178.64L255.66 141.92M231.43 178.64L287.34 155.93M231.43 178.64L288.86 185.3M231.43 178.64L284.97 152.6M231.05 176.63L253.66 142.37M231.05 176.63L286.21 154.22M231.05 176.63L287.34 155.93M231.05 176.63L265.84 141.74M231.05 176.63L241.12 149M231.05 176.63L273.67 144.01M231.05 176.63L266.94 202.08M230.81 174.6L274.68 199.52M230.81 174.6L291.39 177.55M230.81 174.6L277.29 145.91M230.81 174.6L264.92 202.39M230.81 174.6L242.7 147.7M230.81 174.6L265.84 141.74M230.81 174.6L261.76 141.4M230.71 172.56L286.21 154.22M230.71 172.56L268.94 201.63M230.71 172.56L290.96 179.54M230.71 172.56L288.86 185.3M230.71 172.56L291.7 175.52M230.71 172.56L251.7 142.94M230.71 172.56L244.37 146.51M230.74 170.51L257.68 141.61M230.74 170.51L265.84 141.74M230.74 170.51L289.25 159.54M230.74 170.51L271.78 143.25M230.74 170.51L241.12 149M230.74 170.51L278.23 197.49M230.74 170.51L290.39 181.51M230.9 168.48L280.63 148.28M230.9 168.48L270.9 201.06M230.9 168.48L275.51 144.9M230.9 168.48L284.97 152.6M230.9 168.48L247.92 144.48M230.9 168.48L247.92 144.48M230.9 168.48L249.78 143.65M231.21 166.45L265.84 141.74M231.21 166.45L291.39 177.55M231.21 166.45L289.69 183.43M231.21 166.45L269.83 142.61M231.21 166.45L241.12 149M231.21 166.45L290.96 179.54M231.21 166.45L283.62 151.06M231.64 164.46L283.62 151.06M231.64 164.46L290.39 181.51M231.64 164.46L290.02 161.44M231.64 164.46L255.66 141.92M231.64 164.46L291.39 177.55M231.64 164.46L290.66 163.38M231.64 164.46L270.9 201.06M232.21 162.49L291.7 175.52M232.21 162.49L255.66 141.92M232.21 162.49L266.94 202.08M232.21 162.49L284.97 152.6M232.21 162.49L261.76 141.4M232.21 162.49L289.69 183.43M232.21 162.49L257.68 141.61" stroke="#8aa4e4" stroke-width="0.18" stroke-opacity="0.16" fill="none"/>
<path d="M321.11 222.7L343.61 176.93M321.11 222.7L339.32 173.4M321.11 222.7L339.62 218.2M321.11 222.7L350.55 202.6M321.11 222.7L339.32 173.4M321.11 222.7L345.68 212.52M321.11 222.7L336.93 171.98M321.11 222.7L334.41 170.82M318.37 222.22L345.68 212.52M318.37 222.22L349.73 205.26M318.37 222.22L351.37 197.11M318.37 222.22L336.93 171.98M318.37 222.22L348.63 207.81M318.37 222.22L348.47 183.67M318.37 222.22L334.74 220.84M318.37 222.22L351.05 191.57M315.7 221.46L350.55 202.6M315.7 221.46L326.31 168.97M315.7 221.46L349.6 186.21M315.7 221.46L323.53 168.91M315.7 221.46L329.07 169.31M315.7 221.46L329.07 169.31M315.7 221.46L323.53 168.91M315.7 221.46L351.35 194.33M313.12 220.43L341.56 175.05M313.12 220.43L339.32 173.4M313.12 220.43L345.68 212.52M313.12 220.43L347.28 210.24M313.12 220.43L348.47 183.67M313.12 220.43L341.56 175.05M313.12 220.43L349.6 186.21M313.12 220.43L339.62 218.2M310.65 219.14L334.74 220.84M310.65 219.14L350.55 202.6M310.65 219.14L351.05 191.57M310.65 219.14L343.61 176.93M310.65 219.14L351.35 194.33M310.65 219.14L334.41 170.82M310.65 219.14L345.68 212.52M310.65 219.14L326.31 168.97M308.34 217.6L331.78 169.93M308.34 217.6L339.32 173.4M308.34 217.6L351.05 191.57M308.34 217.6L351.37 197.11M308.34 217.6L349.73 205.26M308.34 217.6L337.25 219.65M308.34 217.6L350.55 202.6M308.34 217.6L350.55 202.6M306.19 215.84L326.31 168.97M306.19 215.84L341.56 175.05M306.19 215.84L336.93 171.98M306.19 215.84L336.93 171.98M306.19 215.84L345.68 212.52M306.19 215.84L320.76 169.15M306.19 215.84L326.31 168.97M306.19 215.84L341.56 175.05M304.24 213.86L349.6 186.21M304.24 213.86L350.46 188.85M304.24 213.86L339.32 173.4M304.24 213.86L323.53 168.91M304.24 213.86L323.53 168.91M304.24 213.86L334.41 170.82M304.24 213.86L343.61 176.93M304.24 213.86L347.09 181.26M302.5 211.69L351.35 194.33M302.5 211.69L351.11 199.88M302.5 211.69L331.78 169.93M302.5 211.69L326.31 168.97M302.5 211.69L347.09 181.26M302.5 211.69L331.78 169.93M302.5 211.69L334.74 220.84M302.5 211.69L350.46 188.85M300.99 209.35L345.46 179M300.99 209.35L348.63 207.81M300.99 209.35L345.68 212.52M300.99 209.35L347.28 210.24M300.99 209.35L351.35 194.33M300.99 209.35L351.11 199.88M300.99 209.35L331.78 169.93M300.99 209.35L351.11 199.88M299.73 206.87L323.53 168.91M299.73 206.87L320.76 169.15M299.73 206.87L351.05 191.57M299.73 206.87L347.09 181.26M299.73 206.87L347.28 210.24M299.73 206.87L343.61 176.93M299.73 206.87L323.53 168.91M299.73 206.87L320.76 169.15M298.73 204.28L350.55 202.6M298.73 204.28L349.73 205.26M298.73 204.28L326.31 168.97M298.73 204.28L351.05 191.57M298.73 204.28L326.31 168.97M298.73 204.28L345.68 212.52M298.73 204.28L343.61 176.93M298.73 204.28L345.46 179M298.01 201.6L331.78 169.93M298.01 201.6L326.31 168.97M298.01 201.6L326.31 168.97M298.01 201.6L350.46 188.85M298.01 201.6L351.37 197.11M298.01 201.6L347.09 181.26M298.01 201.6L345.68 212.52M298.01 201.6L323.53 168.91M297.56 198.85L334.74 220.84M297.56 198.85L345.68 212.52M297.56 198.85L345.68 212.52M297.56 198.85L347.28 210.24M297.56 198.85L331.78 169.93M297.56 198.85L341.83 216.52M297.56 198.85L345.46 179M297.56 198.85L347.09 181.26M297.4 196.08L326.31 168.97M297.4 196.08L348.63 207.81M297.4 196.08L351.05 191.57M297.4 196.08L334.74 220.84M297.4 196.08L326.31 168.97M297.4 196.08L337.25 219.65M297.4 196.08L337.25 219.65M297.4 196.08L349.6 186.21M297.53 193.3L341.83 216.52M297.53 193.3L320.76 169.15M297.53 193.3L337.25 219.65M297.53 193.3L351.05 191.57M297.53 193.3L351.11 199.88M297.53 193.3L320.76 169.15M297.53 193.3L350.55 202.6M297.53 193.3L348.63 207.81M297.94 190.55L348.47 183.67M297.94 190.55L348.47 183.67M297.94 190.55L351.11 199.88M297.94 190.55L320.76 169.15M297.94 190.55L350.55 202.6M297.94 190.55L326.31 168.97M297.94 190.55L326.31 168.97M297.94 190.55L326.31 168.97M298.63 187.86L349.73 205.26M298.63 187.86L329.07 169.31M298.63 187.86L341.56 175.05M298.63 187.86L334.74 220.84M298.63 187.86L349.6 186.21M298.63 187.86L345.68 212.52M298.63 187.86L345.46 179M298.63 187.86L348.47 183.67M299.59 185.25L345.68 212.52M299.59 185.25L347.28 210.24M299.59 185.25L351.11 199.88M299.59 185.25L350.46 188.85M299.59 185.25L350.46 188.85M299.59 185.25L350.46 188.85M299.59 185.25L339.62 218.2M299.59 185.25L351.37 197.11M300.82 182.76L326.31 168.97M300.82 182.76L351.35 194.33M300.82 182.76L343.86 214.62M300.82 182.76L351.35 194.33M300.82 182.76L320.76 169.15M300.82 182.76L343.61 176.93M300.82 182.76L350.55 202.6M300.82 182.76L326.31 168.97M302.29 180.4L351.05 191.57M302.29 180.4L320.76 169.15M302.29 180.4L339.32 173.4M302.29 180.4L347.28 210.24M302.29 180.4L329.07 169.31M302.29 180.4L351.05 191.57M302.29 180.4L343.86 214.62M302.29 180.4L350.55 202.6M304 178.21L348.63 207.81M304 178.21L351.05 191.57M304 178.21L341.56 175.05M304 178.21L334.74 220.84M304 178.21L320.76 169.15M304 178.21L347.09 181.26M304 178.21L343.61 176.93M304 178.21L331.78 169.93M305.93 176.21L348.63 207.81M305.93 176.21L350.55 202.6M305.93 176.21L336.93 171.98M305.93 176.21L351.35 194.33M305.93 176.21L334.41 170.82M305.93 176.21L343.86 214.62M305.93 176.21L334.74 220.84M305.93 176.21L345.46 179M308.05 174.41L348.63 207.81M308.05 174.41L350.46 188.85M308.05 174.41L351.05 191.57M308.05 174.41L334.74 220.84M308.05 174.41L339.32 173.4M308.05 174.41L345.46 179M308.05 174.41L348.47 183.67M308.05 174.41L348.63 207.81M310.35 172.84L341.56 175.05M310.35 172.84L336.93 171.98M310.35 172.84L349.73 205.26M310.35 172.84L349.6 186.21M310.35 172.84L341.83 216.52M310.35 172.84L341.83 216.52M310.35 172.84L343.86 214.62M310.35 172.84L336.93 171.98M312.79 171.52L334.74 220.84M312.79 171.52L336.93 171.98M312.79 171.52L348.47 183.67M312.79 171.52L339.32 173.4M312.79 171.52L351.11 199.88M312.79 171.52L345.46 179M312.79 171.52L336.93 171.98M312.79 171.52L331.78 169.93" stroke="#ee9aa6" stroke-width="0.18" stroke-opacity="0.28" fill="none"/>
<path d="M216.74 235.95L205.22 205.34M216.74 235.95L236.09 206.03M216.74 235.95L225.65 198.63M216.74 235.95L226.39 235.34M216.74 235.95L219.97 236.3M216.74 235.95L223.22 236.09M213.6 235.06L201.41 214.24M213.6 235.06L236.52 227.53M213.6 235.06L202.17 211.07M213.6 235.06L215.98 198.42M213.6 235.06L226.39 235.34M213.6 235.06L207.43 202.95M210.67 233.65L203.45 208.08M210.67 233.65L233.99 203.54M210.67 233.65L236.09 206.03M210.67 233.65L215.98 198.42M210.67 233.65L210 200.96M210.67 233.65L226.39 235.34M208.01 231.77L231.5 201.43M208.01 231.77L228.69 199.78M208.01 231.77L239.07 221.56M208.01 231.77L237.73 208.84M208.01 231.77L236.09 206.03M208.01 231.77L238.05 224.65M205.71 229.46L222.45 198.01M205.71 229.46L236.52 227.53M205.71 229.46L226.39 235.34M205.71 229.46L226.39 235.34M205.71 229.46L239.56 218.34M205.71 229.46L233.99 203.54M203.83 226.8L222.45 198.01M203.83 226.8L202.17 211.07M203.83 226.8L226.39 235.34M203.83 226.8L201.41 214.24M203.83 226.8L215.98 198.42M203.83 226.8L223.22 236.09M202.43 223.86L239.56 218.34M202.43 223.86L201.41 214.24M202.43 223.86L238.05 224.65M202.43 223.86L236.52 227.53M202.43 223.86L215.98 198.42M202.43 223.86L239.49 215.08M201.55 220.73L225.65 198.63M201.55 220.73L219.2 197.94M201.55 220.73L239.07 221.56M201.55 220.73L229.39 234.07M201.55 220.73L239.49 215.08M201.55 220.73L201.2 217.49M201.2 217.49L239.07 221.56M201.2 217.49L205.22 205.34M201.2 217.49L228.69 199.78M201.2 217.49L233.99 203.54M201.2 217.49L210 200.96M201.2 217.49L201.2 217.49M201.41 214.24L232.13 232.3M201.41 214.24L226.39 235.34M201.41 214.24L215.98 198.42M201.41 214.24L212.88 199.43M201.41 214.24L232.13 232.3M201.41 214.24L205.22 205.34M202.17 211.07L229.39 234.07M202.17 211.07L201.41 214.24M202.17 211.07L239.07 221.56M202.17 211.07L203.45 208.08M202.17 211.07L233.99 203.54M202.17 211.07L203.45 208.08M203.45 208.08L239.07 221.56M203.45 208.08L238.88 211.89M203.45 208.08L239.07 221.56M203.45 208.08L239.07 221.56M203.45 208.08L229.39 234.07M203.45 208.08L225.65 198.63M205.22 205.34L202.17 211.07M205.22 205.34L238.05 224.65M205.22 205.34L210 200.96M205.22 205.34L210 200.96M205.22 205.34L226.39 235.34M205.22 205.34L236.09 206.03M207.43 202.95L215.98 198.42M207.43 202.95L207.43 202.95M207.43 202.95L236.52 227.53M207.43 202.95L201.2 217.49M207.43 202.95L232.13 232.3M207.43 202.95L236.09 206.03" stroke="#ee9aa6" stroke-width="0.18" stroke-opacity="0.22" fill="none"/>
<path d="M254.2 239.1L300.99 209.35M254.2 239.1L250.82 200.75M254.2 239.1L230.71 172.56M254.2 239.1L232.91 160.57M254.2 239.1L239.63 150.4M254.2 239.1L233.99 203.54M254.2 239.1L299.73 206.87M254.2 239.1L304.24 213.86M254.2 239.1L308.34 217.6M254.2 239.1L300.82 182.76M254.2 239.1L231.05 176.63M254.2 239.1L239.07 221.56M260.9 241.5L232.91 160.57M260.9 241.5L238.98 192.94M260.9 241.5L236.52 227.53M260.9 241.5L239.56 218.34M260.9 241.5L233.35 184.46M260.9 241.5L223.22 236.09M260.9 241.5L219.97 236.3M260.9 241.5L231.21 166.45M260.9 241.5L304 178.21M260.9 241.5L258.79 202.5M260.9 241.5L239.49 215.08M260.9 241.5L298.73 204.28M265.2 247.1L297.56 198.85M265.2 247.1L310.35 172.84M265.2 247.1L308.34 217.6M265.2 247.1L231.5 201.43M265.2 247.1L321.11 222.7M265.2 247.1L225.65 198.63M265.2 247.1L310.35 172.84M265.2 247.1L231.64 164.46M265.2 247.1L237.63 191.4M265.2 247.1L308.05 174.41M265.2 247.1L234.25 186.3M265.2 247.1L232.21 162.49M265.2 254.4L235.76 155.14M265.2 254.4L239.56 218.34M265.2 254.4L238.98 192.94M265.2 254.4L247.92 144.48M265.2 254.4L300.99 209.35M265.2 254.4L225.65 198.63M265.2 254.4L238.23 151.89M265.2 254.4L254.75 201.89M265.2 254.4L233.99 203.54M265.2 254.4L308.34 217.6M265.2 254.4L240.43 194.38M265.2 254.4L250.82 200.75M260.9 260.2L226.39 235.34M260.9 260.2L231.5 201.43M260.9 260.2L298.73 204.28M260.9 260.2L234.53 230.1M260.9 260.2L241.12 149M260.9 260.2L313.12 220.43M260.9 260.2L252.77 201.39M260.9 260.2L232.21 162.49M260.9 260.2L243.6 196.96M260.9 260.2L232.13 232.3M260.9 260.2L250.82 200.75M260.9 260.2L230.71 172.56M254.2 262.6L300.99 209.35M254.2 262.6L228.69 199.78M254.2 262.6L320.76 169.15M254.2 262.6L232.58 182.56M254.2 262.6L318.37 222.22M254.2 262.6L231.43 178.64M254.2 262.6L304.24 213.86M254.2 262.6L304.24 213.86M254.2 262.6L318.03 169.66M254.2 262.6L323.53 168.91M254.2 262.6L226.39 235.34M254.2 262.6L310.65 219.14M247.3 260.2L297.53 193.3M247.3 260.2L323.53 168.91M247.3 260.2L238.98 192.94M247.3 260.2L232.91 160.57M247.3 260.2L226.39 235.34M247.3 260.2L302.5 211.69M247.3 260.2L298.01 201.6M247.3 260.2L244.37 146.51M247.3 260.2L298.01 201.6M247.3 260.2L305.93 176.21M247.3 260.2L230.81 174.6M247.3 260.2L304.24 213.86M243.2 254.4L306.19 215.84M243.2 254.4L298.01 201.6M243.2 254.4L236.94 153.48M243.2 254.4L247.92 144.48M243.2 254.4L315.36 170.46M243.2 254.4L239.49 215.08M243.2 254.4L300.82 182.76M243.2 254.4L231.64 164.46M243.2 254.4L246.11 145.44M243.2 254.4L231.94 180.62M243.2 254.4L299.73 206.87M243.2 254.4L302.5 211.69M243.2 247.1L239.63 150.4M243.2 247.1L297.4 196.08M243.2 247.1L310.65 219.14M243.2 247.1L231.21 166.45M243.2 247.1L236.52 227.53M243.2 247.1L300.99 209.35M243.2 247.1L235.26 188.07M243.2 247.1L308.34 217.6M243.2 247.1L258.79 202.5M243.2 247.1L299.59 185.25M243.2 247.1L239.49 215.08M243.2 247.1L252.77 201.39M247.3 241.5L300.99 209.35M247.3 241.5L248.93 199.99M247.3 241.5L304.24 213.86M247.3 241.5L238.05 224.65M247.3 241.5L299.73 206.87M247.3 241.5L297.56 198.85M247.3 241.5L234.25 186.3M247.3 241.5L313.12 220.43M247.3 241.5L238.98 192.94M247.3 241.5L323.53 168.91M247.3 241.5L230.81 174.6M247.3 241.5L243.6 196.96" stroke="#8aa6e6" stroke-width="0.2" stroke-opacity="0.3" fill="none"/>
<path d="M216.74 235.95L230.74 170.51M216.74 235.95L232.58 182.56M216.74 235.95L233.35 184.46M213.6 235.06L336.93 171.98M213.6 235.06L329.07 169.31M213.6 235.06L231.21 166.45M210.67 233.65L232.91 160.57M210.67 233.65L297.94 190.55M210.67 233.65L243.6 196.96M208.01 231.77L231.05 176.63M208.01 231.77L231.21 166.45M208.01 231.77L248.93 199.99M205.71 229.46L297.56 198.85M205.71 229.46L310.35 172.84M205.71 229.46L231.94 180.62M203.83 226.8L313.12 220.43M203.83 226.8L334.41 170.82M203.83 226.8L297.94 190.55M202.43 223.86L315.7 221.46M202.43 223.86L310.65 219.14M202.43 223.86L310.35 172.84M201.55 220.73L300.82 182.76M201.55 220.73L323.53 168.91M201.55 220.73L318.37 222.22M201.2 217.49L256.76 202.26M201.2 217.49L247.09 199.1M201.2 217.49L240.43 194.38M201.41 214.24L329.07 169.31M201.41 214.24L232.91 160.57M201.41 214.24L297.56 198.85M202.17 211.07L232.91 160.57M202.17 211.07L297.53 193.3M202.17 211.07L331.78 169.93M203.45 208.08L312.79 171.52M203.45 208.08L231.05 176.63M203.45 208.08L315.7 221.46M205.22 205.34L236.39 189.78M205.22 205.34L232.58 182.56M205.22 205.34L302.29 180.4M207.43 202.95L315.36 170.46M207.43 202.95L318.03 169.66M207.43 202.95L318.03 169.66M210 200.96L298.63 187.86M210 200.96L323.53 168.91M210 200.96L241.97 195.72M212.88 199.43L308.05 174.41M212.88 199.43L248.93 199.99M212.88 199.43L248.93 199.99M215.98 198.42L310.35 172.84M215.98 198.42L318.03 169.66M215.98 198.42L310.35 172.84M219.2 197.94L298.01 201.6M219.2 197.94L298.63 187.86M219.2 197.94L326.31 168.97M222.45 198.01L297.94 190.55M222.45 198.01L298.73 204.28M222.45 198.01L334.41 170.82M225.65 198.63L235.26 188.07M225.65 198.63L298.01 201.6M225.65 198.63L231.05 176.63M228.69 199.78L231.94 180.62M228.69 199.78L297.94 190.55M228.69 199.78L312.79 171.52M231.5 201.43L233.35 184.46M231.5 201.43L315.7 221.46M231.5 201.43L298.01 201.6M233.99 203.54L312.79 171.52M233.99 203.54L240.43 194.38M233.99 203.54L238.98 192.94M236.09 206.03L297.4 196.08M236.09 206.03L233.74 158.7M236.09 206.03L243.6 196.96M237.73 208.84L233.74 158.7M237.73 208.84L310.35 172.84M237.73 208.84L300.99 209.35M238.88 211.89L231.64 164.46M238.88 211.89L297.56 198.85M238.88 211.89L313.12 220.43M239.49 215.08L310.65 219.14M239.49 215.08L231.64 164.46M239.49 215.08L299.59 185.25M239.56 218.34L310.35 172.84M239.56 218.34L308.05 174.41M239.56 218.34L297.4 196.08M239.07 221.56L315.36 170.46M239.07 221.56L305.93 176.21M239.07 221.56L302.29 180.4M238.05 224.65L256.76 202.26M238.05 224.65L298.01 201.6M238.05 224.65L304.24 213.86" stroke="#ee9aa8" stroke-width="0.2" stroke-opacity="0.25" fill="none"/>
<path d="M231.05 176.63L225.65 198.63M231.05 176.63L219.97 236.3M230.81 174.6L238.05 224.65M230.81 174.6L219.2 197.94M230.71 172.56L222.45 198.01M230.71 172.56L238.88 211.89M230.74 170.51L239.56 218.34M230.74 170.51L238.05 224.65M230.9 168.48L239.07 221.56M230.9 168.48L234.53 230.1M231.21 166.45L239.49 215.08M231.21 166.45L239.07 221.56M231.64 164.46L231.5 201.43M231.64 164.46L226.39 235.34M232.21 162.49L239.49 215.08M232.21 162.49L212.88 199.43M232.91 160.57L223.22 236.09M232.91 160.57L215.98 198.42M233.74 158.7L231.5 201.43M233.74 158.7L228.69 199.78M234.69 156.89L239.07 221.56M234.69 156.89L238.05 224.65M235.76 155.14L239.49 215.08M235.76 155.14L239.49 215.08M236.94 153.48L239.56 218.34M236.94 153.48L231.5 201.43M238.23 151.89L226.39 235.34M238.23 151.89L228.69 199.78M239.63 150.4L222.45 198.01M239.63 150.4L234.53 230.1M241.12 149L212.88 199.43M241.12 149L238.88 211.89M242.7 147.7L219.2 197.94M242.7 147.7L223.22 236.09M244.37 146.51L239.56 218.34M244.37 146.51L229.39 234.07M246.11 145.44L226.39 235.34M246.11 145.44L231.5 201.43M247.92 144.48L234.53 230.1M247.92 144.48L229.39 234.07M249.78 143.65L238.88 211.89M249.78 143.65L236.09 206.03M251.7 142.94L236.09 206.03M251.7 142.94L222.45 198.01M253.66 142.37L228.69 199.78M253.66 142.37L239.56 218.34M255.66 141.92L225.65 198.63M255.66 141.92L238.88 211.89M257.68 141.61L232.13 232.3M257.68 141.61L239.49 215.08M259.72 141.44L239.07 221.56M259.72 141.44L228.69 199.78M261.76 141.4L239.56 218.34M261.76 141.4L231.5 201.43M263.81 141.5L228.69 199.78M263.81 141.5L219.2 197.94M265.84 141.74L238.88 211.89M265.84 141.74L237.73 208.84M267.85 142.11L236.52 227.53M267.85 142.11L222.45 198.01" stroke="#8aa6e6" stroke-width="0.2" stroke-opacity="0.25" fill="none"/>
<path d="M290.5 237.9L318.37 222.22M290.5 237.9L234.25 186.3M290.5 237.9L219.97 236.3M290.5 237.9L226.39 235.34M290.5 237.9L306.19 215.84M293.9 236.5L323.53 168.91M293.9 236.5L250.82 200.75M293.9 236.5L243.6 196.96M293.9 236.5L236.39 189.78M293.9 236.5L318.03 169.66M297.1 238L230.81 174.6M297.1 238L239.56 218.34M297.1 238L308.05 174.41M297.1 238L236.09 206.03M297.1 238L300.99 209.35M299.3 240.8L231.43 178.64M299.3 240.8L228.69 199.78M299.3 240.8L222.45 198.01M299.3 240.8L318.03 169.66M299.3 240.8L297.53 193.3M299.3 244.4L231.05 176.63M299.3 244.4L239.07 221.56M299.3 244.4L315.7 221.46M299.3 244.4L297.4 196.08M299.3 244.4L229.39 234.07M297.1 247.3L297.56 198.85M297.1 247.3L258.79 202.5M297.1 247.3L254.75 201.89M297.1 247.3L231.64 164.46M297.1 247.3L230.81 174.6M293.9 248.5L225.65 198.63M293.9 248.5L306.19 215.84M293.9 248.5L312.79 171.52M293.9 248.5L231.94 180.62M293.9 248.5L318.37 222.22M290.5 247.3L298.01 201.6M290.5 247.3L252.77 201.39M290.5 247.3L254.75 201.89M290.5 247.3L248.93 199.99M290.5 247.3L236.39 189.78M288.4 244.3L238.88 211.89M288.4 244.3L237.73 208.84M288.4 244.3L228.69 199.78M288.4 244.3L230.74 170.51M288.4 244.3L231.5 201.43M288.4 240.8L239.56 218.34M288.4 240.8L298.01 201.6M288.4 240.8L219.97 236.3M288.4 240.8L231.64 164.46M288.4 240.8L300.99 209.35" stroke="#ee9aa8" stroke-width="0.2" stroke-opacity="0.25" fill="none"/>
<circle cx="246.11" cy="145.44" r="1" fill="#f5ea1c" stroke="#8a8000" stroke-width="0.22"/>
<circle cx="247.92" cy="144.48" r="1" fill="#f5ea1c" stroke="#8a8000" stroke-width="0.22"/>
<circle cx="249.78" cy="143.65" r="1" fill="#f5ea1c" stroke="#8a8000" stroke-width="0.22"/>
<circle cx="251.7" cy="142.94" r="1" fill="#f5ea1c" stroke="#8a8000" stroke-width="0.22"/>
<circle cx="253.66" cy="142.37" r="1" fill="#f5ea1c" stroke="#8a8000" stroke-width="0.22"/>
<circle cx="255.66" cy="141.92" r="1" fill="#f5ea1c" stroke="#8a8000" stroke-width="0.22"/>
<circle cx="257.68" cy="141.61" r="1" fill="#f5ea1c" stroke="#8a8000" stroke-width="0.22"/>
<circle cx="259.72" cy="141.44" r="1" fill="#f5ea1c" stroke="#8a8000" stroke-width="0.22"/>
<circle cx="261.76" cy="141.4" r="1" fill="#f5ea1c" stroke="#8a8000" stroke-width="0.22"/>
<circle cx="263.81" cy="141.5" r="1" fill="#f5ea1c" stroke="#8a8000" stroke-width="0.22"/>
<circle cx="265.84" cy="141.74" r="1" fill="#f5ea1c" stroke="#8a8000" stroke-width="0.22"/>
<circle cx="267.85" cy="142.11" r="1" fill="#f5ea1c" stroke="#8a8000" stroke-width="0.22"/>
<circle cx="269.83" cy="142.61" r="1" fill="#f5ea1c" stroke="#8a8000" stroke-width="0.22"/>
<circle cx="271.78" cy="143.25" r="1" fill="#f5ea1c" stroke="#8a8000" stroke-width="0.22"/>
<circle cx="273.67" cy="144.01" r="1" fill="#f5ea1c" stroke="#8a8000" stroke-width="0.22"/>
<circle cx="275.51" cy="144.9" r="1" fill="#f5ea1c" stroke="#8a8000" stroke-width="0.22"/>
<circle cx="277.29" cy="145.91" r="1" fill="#f5ea1c" stroke="#8a8000" stroke-width="0.22"/>
<circle cx="279" cy="147.04" r="1" fill="#f5ea1c" stroke="#8a8000" stroke-width="0.22"/>
<circle cx="280.63" cy="148.28" r="1" fill="#f5ea1c" stroke="#8a8000" stroke-width="0.22"/>
<circle cx="282.17" cy="149.62" r="1" fill="#f5ea1c" stroke="#8a8000" stroke-width="0.22"/>
<circle cx="283.62" cy="151.06" r="1" fill="#f5ea1c" stroke="#8a8000" stroke-width="0.22"/>
<circle cx="284.97" cy="152.6" r="1" fill="#f5ea1c" stroke="#8a8000" stroke-width="0.22"/>
<circle cx="286.21" cy="154.22" r="1" fill="#f5ea1c" stroke="#8a8000" stroke-width="0.22"/>
<circle cx="287.34" cy="155.93" r="1" fill="#f5ea1c" stroke="#8a8000" stroke-width="0.22"/>
<circle cx="288.35" cy="157.7" r="1" fill="#f5ea1c" stroke="#8a8000" stroke-width="0.22"/>
<circle cx="289.25" cy="159.54" r="1" fill="#f5ea1c" stroke="#8a8000" stroke-width="0.22"/>
<circle cx="290.02" cy="161.44" r="1" fill="#f5ea1c" stroke="#8a8000" stroke-width="0.22"/>
<circle cx="290.66" cy="163.38" r="1" fill="#f5ea1c" stroke="#8a8000" stroke-width="0.22"/>
<circle cx="291.17" cy="165.36" r="1" fill="#f5ea1c" stroke="#8a8000" stroke-width="0.22"/>
<circle cx="291.55" cy="167.37" r="1" fill="#f5ea1c" stroke="#8a8000" stroke-width="0.22"/>
<circle cx="291.79" cy="169.4" r="1" fill="#f5ea1c" stroke="#8a8000" stroke-width="0.22"/>
<circle cx="291.89" cy="171.44" r="1" fill="#f5ea1c" stroke="#8a8000" stroke-width="0.22"/>
<circle cx="291.86" cy="173.49" r="1" fill="#f5ea1c" stroke="#8a8000" stroke-width="0.22"/>
<circle cx="291.7" cy="175.52" r="1" fill="#f5ea1c" stroke="#8a8000" stroke-width="0.22"/>
<circle cx="291.39" cy="177.55" r="1" fill="#f5ea1c" stroke="#8a8000" stroke-width="0.22"/>
<circle cx="290.96" cy="179.54" r="1" fill="#f5ea1c" stroke="#8a8000" stroke-width="0.22"/>
<circle cx="290.39" cy="181.51" r="1" fill="#f5ea1c" stroke="#8a8000" stroke-width="0.22"/>
<circle cx="289.69" cy="183.43" r="1" fill="#f5ea1c" stroke="#8a8000" stroke-width="0.22"/>
<circle cx="288.86" cy="185.3" r="1" fill="#f5ea1c" stroke="#8a8000" stroke-width="0.22"/>
<circle cx="287.91" cy="187.11" r="1" fill="#f5ea1c" stroke="#8a8000" stroke-width="0.22"/>
<circle cx="286.84" cy="188.86" r="1" fill="#f5ea1c" stroke="#8a8000" stroke-width="0.22"/>
<circle cx="285.66" cy="190.52" r="1" fill="#f5ea1c" stroke="#8a8000" stroke-width="0.22"/>
<circle cx="284.37" cy="192.11" r="1" fill="#f5ea1c" stroke="#8a8000" stroke-width="0.22"/>
<circle cx="282.97" cy="193.6" r="1" fill="#f5ea1c" stroke="#8a8000" stroke-width="0.22"/>
<circle cx="281.48" cy="195" r="1" fill="#f5ea1c" stroke="#8a8000" stroke-width="0.22"/>
<circle cx="279.9" cy="196.3" r="1" fill="#f5ea1c" stroke="#8a8000" stroke-width="0.22"/>
<circle cx="278.23" cy="197.49" r="1" fill="#f5ea1c" stroke="#8a8000" stroke-width="0.22"/>
<circle cx="276.49" cy="198.56" r="1" fill="#f5ea1c" stroke="#8a8000" stroke-width="0.22"/>
<circle cx="274.68" cy="199.52" r="1" fill="#f5ea1c" stroke="#8a8000" stroke-width="0.22"/>
<circle cx="272.82" cy="200.35" r="1" fill="#f5ea1c" stroke="#8a8000" stroke-width="0.22"/>
<circle cx="270.9" cy="201.06" r="1" fill="#f5ea1c" stroke="#8a8000" stroke-width="0.22"/>
<circle cx="268.94" cy="201.63" r="1" fill="#f5ea1c" stroke="#8a8000" stroke-width="0.22"/>
<circle cx="266.94" cy="202.08" r="1" fill="#f5ea1c" stroke="#8a8000" stroke-width="0.22"/>
<circle cx="264.92" cy="202.39" r="1" fill="#f5ea1c" stroke="#8a8000" stroke-width="0.22"/>
<circle cx="262.88" cy="202.56" r="1" fill="#f5ea1c" stroke="#8a8000" stroke-width="0.22"/>
<circle cx="260.84" cy="202.6" r="1" fill="#f5ea1c" stroke="#8a8000" stroke-width="0.22"/>
<circle cx="244.37" cy="146.51" r="1.02" fill="#f5ea1c" stroke="#8a8000" stroke-width="0.22"/>
<circle cx="242.7" cy="147.7" r="1.06" fill="#f5ea1c" stroke="#8a8000" stroke-width="0.22"/>
<circle cx="241.12" cy="149" r="1.1" fill="#f5ea1c" stroke="#8a8000" stroke-width="0.22"/>
<circle cx="239.63" cy="150.4" r="1.13" fill="#f5ea1c" stroke="#8a8000" stroke-width="0.22"/>
<circle cx="238.23" cy="151.89" r="1.17" fill="#f5ea1c" stroke="#8a8000" stroke-width="0.22"/>
<circle cx="236.94" cy="153.48" r="1.21" fill="#f5ea1c" stroke="#8a8000" stroke-width="0.22"/>
<circle cx="235.76" cy="155.14" r="1.25" fill="#f5ea1c" stroke="#8a8000" stroke-width="0.22"/>
<circle cx="234.69" cy="156.89" r="1.28" fill="#f5ea1c" stroke="#8a8000" stroke-width="0.22"/>
<circle cx="233.74" cy="158.7" r="1.32" fill="#f5ea1c" stroke="#8a8000" stroke-width="0.22"/>
<circle cx="232.91" cy="160.57" r="1.36" fill="#f5ea1c" stroke="#8a8000" stroke-width="0.22"/>
<circle cx="232.21" cy="162.49" r="1.39" fill="#f5ea1c" stroke="#8a8000" stroke-width="0.22"/>
<circle cx="231.64" cy="164.46" r="1.43" fill="#f5ea1c" stroke="#8a8000" stroke-width="0.22"/>
<circle cx="231.21" cy="166.45" r="1.47" fill="#f5ea1c" stroke="#8a8000" stroke-width="0.22"/>
<circle cx="230.9" cy="168.48" r="1.51" fill="#f5ea1c" stroke="#8a8000" stroke-width="0.22"/>
<circle cx="230.74" cy="170.51" r="1.54" fill="#f5ea1c" stroke="#8a8000" stroke-width="0.22"/>
<circle cx="230.71" cy="172.56" r="1.58" fill="#f5ea1c" stroke="#8a8000" stroke-width="0.22"/>
<circle cx="230.81" cy="174.6" r="1.62" fill="#f5ea1c" stroke="#8a8000" stroke-width="0.22"/>
<circle cx="231.05" cy="176.63" r="1.66" fill="#f5ea1c" stroke="#8a8000" stroke-width="0.22"/>
<circle cx="231.43" cy="178.64" r="1.69" fill="#f5ea1c" stroke="#8a8000" stroke-width="0.22"/>
<circle cx="231.94" cy="180.62" r="1.73" fill="#f5ea1c" stroke="#8a8000" stroke-width="0.22"/>
<circle cx="232.58" cy="182.56" r="1.77" fill="#f5ea1c" stroke="#8a8000" stroke-width="0.22"/>
<circle cx="233.35" cy="184.46" r="1.8" fill="#f5ea1c" stroke="#8a8000" stroke-width="0.22"/>
<circle cx="234.25" cy="186.3" r="1.84" fill="#f5ea1c" stroke="#8a8000" stroke-width="0.22"/>
<circle cx="235.26" cy="188.07" r="1.88" fill="#f5ea1c" stroke="#8a8000" stroke-width="0.22"/>
<circle cx="236.39" cy="189.78" r="1.92" fill="#f5ea1c" stroke="#8a8000" stroke-width="0.22"/>
<circle cx="237.63" cy="191.4" r="1.95" fill="#f5ea1c" stroke="#8a8000" stroke-width="0.22"/>
<circle cx="238.98" cy="192.94" r="1.99" fill="#f5ea1c" stroke="#8a8000" stroke-width="0.22"/>
<circle cx="240.43" cy="194.38" r="2.03" fill="#f5ea1c" stroke="#8a8000" stroke-width="0.22"/>
<circle cx="241.97" cy="195.72" r="2.06" fill="#f5ea1c" stroke="#8a8000" stroke-width="0.22"/>
<circle cx="243.6" cy="196.96" r="2.1" fill="#f5ea1c" stroke="#8a8000" stroke-width="0.22"/>
<circle cx="245.31" cy="198.09" r="2.14" fill="#f5ea1c" stroke="#8a8000" stroke-width="0.22"/>
<circle cx="247.09" cy="199.1" r="2.18" fill="#f5ea1c" stroke="#8a8000" stroke-width="0.22"/>
<circle cx="248.93" cy="199.99" r="2.21" fill="#f5ea1c" stroke="#8a8000" stroke-width="0.22"/>
<circle cx="250.82" cy="200.75" r="2.25" fill="#f5ea1c" stroke="#8a8000" stroke-width="0.22"/>
<circle cx="252.77" cy="201.39" r="2.29" fill="#f5ea1c" stroke="#8a8000" stroke-width="0.22"/>
<circle cx="254.75" cy="201.89" r="2.33" fill="#f5ea1c" stroke="#8a8000" stroke-width="0.22"/>
<circle cx="256.76" cy="202.26" r="2.36" fill="#f5ea1c" stroke="#8a8000" stroke-width="0.22"/>
<circle cx="258.79" cy="202.5" r="2.4" fill="#f5ea1c" stroke="#8a8000" stroke-width="0.22"/>
<circle cx="329.07" cy="169.31" r="1.05" fill="#ec58ec" stroke="#8a3a8a" stroke-width="0.22"/>
<circle cx="331.78" cy="169.93" r="1.05" fill="#ec58ec" stroke="#8a3a8a" stroke-width="0.22"/>
<circle cx="334.41" cy="170.82" r="1.05" fill="#ec58ec" stroke="#8a3a8a" stroke-width="0.22"/>
<circle cx="336.93" cy="171.98" r="1.05" fill="#ec58ec" stroke="#8a3a8a" stroke-width="0.22"/>
<circle cx="339.32" cy="173.4" r="1.05" fill="#ec58ec" stroke="#8a3a8a" stroke-width="0.22"/>
<circle cx="341.56" cy="175.05" r="1.05" fill="#ec58ec" stroke="#8a3a8a" stroke-width="0.22"/>
<circle cx="343.61" cy="176.93" r="1.05" fill="#ec58ec" stroke="#8a3a8a" stroke-width="0.22"/>
<circle cx="345.46" cy="179" r="1.05" fill="#ec58ec" stroke="#8a3a8a" stroke-width="0.22"/>
<circle cx="347.09" cy="181.26" r="1.05" fill="#ec58ec" stroke="#8a3a8a" stroke-width="0.22"/>
<circle cx="348.47" cy="183.67" r="1.05" fill="#ec58ec" stroke="#8a3a8a" stroke-width="0.22"/>
<circle cx="349.6" cy="186.21" r="1.05" fill="#ec58ec" stroke="#8a3a8a" stroke-width="0.22"/>
<circle cx="350.46" cy="188.85" r="1.05" fill="#ec58ec" stroke="#8a3a8a" stroke-width="0.22"/>
<circle cx="351.05" cy="191.57" r="1.05" fill="#ec58ec" stroke="#8a3a8a" stroke-width="0.22"/>
<circle cx="351.35" cy="194.33" r="1.05" fill="#ec58ec" stroke="#8a3a8a" stroke-width="0.22"/>
<circle cx="351.37" cy="197.11" r="1.05" fill="#ec58ec" stroke="#8a3a8a" stroke-width="0.22"/>
<circle cx="351.11" cy="199.88" r="1.05" fill="#ec58ec" stroke="#8a3a8a" stroke-width="0.22"/>
<circle cx="350.55" cy="202.6" r="1.05" fill="#ec58ec" stroke="#8a3a8a" stroke-width="0.22"/>
<circle cx="349.73" cy="205.26" r="1.05" fill="#ec58ec" stroke="#8a3a8a" stroke-width="0.22"/>
<circle cx="348.63" cy="207.81" r="1.05" fill="#ec58ec" stroke="#8a3a8a" stroke-width="0.22"/>
<circle cx="347.28" cy="210.24" r="1.05" fill="#ec58ec" stroke="#8a3a8a" stroke-width="0.22"/>
<circle cx="345.68" cy="212.52" r="1.05" fill="#ec58ec" stroke="#8a3a8a" stroke-width="0.22"/>
<circle cx="343.86" cy="214.62" r="1.05" fill="#ec58ec" stroke="#8a3a8a" stroke-width="0.22"/>
<circle cx="341.83" cy="216.52" r="1.05" fill="#ec58ec" stroke="#8a3a8a" stroke-width="0.22"/>
<circle cx="339.62" cy="218.2" r="1.05" fill="#ec58ec" stroke="#8a3a8a" stroke-width="0.22"/>
<circle cx="337.25" cy="219.65" r="1.05" fill="#ec58ec" stroke="#8a3a8a" stroke-width="0.22"/>
<circle cx="334.74" cy="220.84" r="1.05" fill="#ec58ec" stroke="#8a3a8a" stroke-width="0.22"/>
<circle cx="332.12" cy="221.77" r="1.05" fill="#ec58ec" stroke="#8a3a8a" stroke-width="0.22"/>
<circle cx="329.42" cy="222.43" r="1.05" fill="#ec58ec" stroke="#8a3a8a" stroke-width="0.22"/>
<circle cx="326.66" cy="222.81" r="1.05" fill="#ec58ec" stroke="#8a3a8a" stroke-width="0.22"/>
<circle cx="323.88" cy="222.9" r="1.05" fill="#ec58ec" stroke="#8a3a8a" stroke-width="0.22"/>
<circle cx="326.31" cy="168.97" r="1.07" fill="#ec58ec" stroke="#8a3a8a" stroke-width="0.22"/>
<circle cx="323.53" cy="168.91" r="1.12" fill="#ec58ec" stroke="#8a3a8a" stroke-width="0.22"/>
<circle cx="320.76" cy="169.15" r="1.16" fill="#ec58ec" stroke="#8a3a8a" stroke-width="0.22"/>
<circle cx="318.03" cy="169.66" r="1.2" fill="#ec58ec" stroke="#8a3a8a" stroke-width="0.22"/>
<circle cx="315.36" cy="170.46" r="1.25" fill="#ec58ec" stroke="#8a3a8a" stroke-width="0.22"/>
<circle cx="312.79" cy="171.52" r="1.29" fill="#ec58ec" stroke="#8a3a8a" stroke-width="0.22"/>
<circle cx="310.35" cy="172.84" r="1.34" fill="#ec58ec" stroke="#8a3a8a" stroke-width="0.22"/>
<circle cx="308.05" cy="174.41" r="1.38" fill="#ec58ec" stroke="#8a3a8a" stroke-width="0.22"/>
<circle cx="305.93" cy="176.21" r="1.43" fill="#ec58ec" stroke="#8a3a8a" stroke-width="0.22"/>
<circle cx="304" cy="178.21" r="1.47" fill="#ec58ec" stroke="#8a3a8a" stroke-width="0.22"/>
<circle cx="302.29" cy="180.4" r="1.51" fill="#ec58ec" stroke="#8a3a8a" stroke-width="0.22"/>
<circle cx="300.82" cy="182.76" r="1.56" fill="#ec58ec" stroke="#8a3a8a" stroke-width="0.22"/>
<circle cx="299.59" cy="185.25" r="1.6" fill="#ec58ec" stroke="#8a3a8a" stroke-width="0.22"/>
<circle cx="298.63" cy="187.86" r="1.65" fill="#ec58ec" stroke="#8a3a8a" stroke-width="0.22"/>
<circle cx="297.94" cy="190.55" r="1.69" fill="#ec58ec" stroke="#8a3a8a" stroke-width="0.22"/>
<circle cx="297.53" cy="193.3" r="1.74" fill="#ec58ec" stroke="#8a3a8a" stroke-width="0.22"/>
<circle cx="297.4" cy="196.08" r="1.78" fill="#ec58ec" stroke="#8a3a8a" stroke-width="0.22"/>
<circle cx="297.56" cy="198.85" r="1.82" fill="#ec58ec" stroke="#8a3a8a" stroke-width="0.22"/>
<circle cx="298.01" cy="201.6" r="1.87" fill="#ec58ec" stroke="#8a3a8a" stroke-width="0.22"/>
<circle cx="298.73" cy="204.28" r="1.91" fill="#ec58ec" stroke="#8a3a8a" stroke-width="0.22"/>
<circle cx="299.73" cy="206.87" r="1.96" fill="#ec58ec" stroke="#8a3a8a" stroke-width="0.22"/>
<circle cx="300.99" cy="209.35" r="2" fill="#ec58ec" stroke="#8a3a8a" stroke-width="0.22"/>
<circle cx="302.5" cy="211.69" r="2.05" fill="#ec58ec" stroke="#8a3a8a" stroke-width="0.22"/>
<circle cx="304.24" cy="213.86" r="2.09" fill="#ec58ec" stroke="#8a3a8a" stroke-width="0.22"/>
<circle cx="306.19" cy="215.84" r="2.13" fill="#ec58ec" stroke="#8a3a8a" stroke-width="0.22"/>
<circle cx="308.34" cy="217.6" r="2.18" fill="#ec58ec" stroke="#8a3a8a" stroke-width="0.22"/>
<circle cx="310.65" cy="219.14" r="2.22" fill="#ec58ec" stroke="#8a3a8a" stroke-width="0.22"/>
<circle cx="313.12" cy="220.43" r="2.27" fill="#ec58ec" stroke="#8a3a8a" stroke-width="0.22"/>
<circle cx="315.7" cy="221.46" r="2.31" fill="#ec58ec" stroke="#8a3a8a" stroke-width="0.22"/>
<circle cx="318.37" cy="222.22" r="2.36" fill="#ec58ec" stroke="#8a3a8a" stroke-width="0.22"/>
<circle cx="321.11" cy="222.7" r="2.4" fill="#ec58ec" stroke="#8a3a8a" stroke-width="0.22"/>
<circle cx="205.22" cy="205.34" r="0.9" fill="#ec5656" stroke="#8a2a2a" stroke-width="0.25"/>
<circle cx="207.43" cy="202.95" r="0.9" fill="#ec5656" stroke="#8a2a2a" stroke-width="0.25"/>
<circle cx="210" cy="200.96" r="0.9" fill="#ec5656" stroke="#8a2a2a" stroke-width="0.25"/>
<circle cx="212.88" cy="199.43" r="0.9" fill="#ec5656" stroke="#8a2a2a" stroke-width="0.25"/>
<circle cx="215.98" cy="198.42" r="0.9" fill="#ec5656" stroke="#8a2a2a" stroke-width="0.25"/>
<circle cx="219.2" cy="197.94" r="0.9" fill="#ec5656" stroke="#8a2a2a" stroke-width="0.25"/>
<circle cx="222.45" cy="198.01" r="0.9" fill="#ec5656" stroke="#8a2a2a" stroke-width="0.25"/>
<circle cx="225.65" cy="198.63" r="0.9" fill="#ec5656" stroke="#8a2a2a" stroke-width="0.25"/>
<circle cx="228.69" cy="199.78" r="0.9" fill="#ec5656" stroke="#8a2a2a" stroke-width="0.25"/>
<circle cx="231.5" cy="201.43" r="0.9" fill="#ec5656" stroke="#8a2a2a" stroke-width="0.25"/>
<circle cx="233.99" cy="203.54" r="0.9" fill="#ec5656" stroke="#8a2a2a" stroke-width="0.25"/>
<circle cx="236.09" cy="206.03" r="0.9" fill="#ec5656" stroke="#8a2a2a" stroke-width="0.25"/>
<circle cx="237.73" cy="208.84" r="0.9" fill="#ec5656" stroke="#8a2a2a" stroke-width="0.25"/>
<circle cx="238.88" cy="211.89" r="0.9" fill="#ec5656" stroke="#8a2a2a" stroke-width="0.25"/>
<circle cx="239.49" cy="215.08" r="0.9" fill="#ec5656" stroke="#8a2a2a" stroke-width="0.25"/>
<circle cx="239.56" cy="218.34" r="0.9" fill="#ec5656" stroke="#8a2a2a" stroke-width="0.25"/>
<circle cx="239.07" cy="221.56" r="0.9" fill="#ec5656" stroke="#8a2a2a" stroke-width="0.25"/>
<circle cx="238.05" cy="224.65" r="0.9" fill="#ec5656" stroke="#8a2a2a" stroke-width="0.25"/>
<circle cx="236.52" cy="227.53" r="0.9" fill="#ec5656" stroke="#8a2a2a" stroke-width="0.25"/>
<circle cx="234.53" cy="230.1" r="0.9" fill="#ec5656" stroke="#8a2a2a" stroke-width="0.25"/>
<circle cx="232.13" cy="232.3" r="0.9" fill="#ec5656" stroke="#8a2a2a" stroke-width="0.25"/>
<circle cx="229.39" cy="234.07" r="0.9" fill="#ec5656" stroke="#8a2a2a" stroke-width="0.25"/>
<circle cx="226.39" cy="235.34" r="0.9" fill="#ec5656" stroke="#8a2a2a" stroke-width="0.25"/>
<circle cx="223.22" cy="236.09" r="0.9" fill="#ec5656" stroke="#8a2a2a" stroke-width="0.25"/>
<circle cx="219.97" cy="236.3" r="0.9" fill="#ec5656" stroke="#8a2a2a" stroke-width="0.25"/>
<circle cx="203.45" cy="208.08" r="0.95" fill="#ec5656" stroke="#8a2a2a" stroke-width="0.25"/>
<circle cx="202.17" cy="211.07" r="1.03" fill="#ec5656" stroke="#8a2a2a" stroke-width="0.25"/>
<circle cx="201.41" cy="214.24" r="1.13" fill="#ec5656" stroke="#8a2a2a" stroke-width="0.25"/>
<circle cx="201.2" cy="217.49" r="1.25" fill="#ec5656" stroke="#8a2a2a" stroke-width="0.25"/>
<circle cx="201.55" cy="220.73" r="1.37" fill="#ec5656" stroke="#8a2a2a" stroke-width="0.25"/>
<circle cx="202.43" cy="223.86" r="1.5" fill="#ec5656" stroke="#8a2a2a" stroke-width="0.25"/>
<circle cx="203.83" cy="226.8" r="1.64" fill="#ec5656" stroke="#8a2a2a" stroke-width="0.25"/>
<circle cx="205.71" cy="229.46" r="1.78" fill="#ec5656" stroke="#8a2a2a" stroke-width="0.25"/>
<circle cx="208.01" cy="231.77" r="1.93" fill="#ec5656" stroke="#8a2a2a" stroke-width="0.25"/>
<circle cx="210.67" cy="233.65" r="2.08" fill="#ec5656" stroke="#8a2a2a" stroke-width="0.25"/>
<circle cx="213.6" cy="235.06" r="2.24" fill="#ec5656" stroke="#8a2a2a" stroke-width="0.25"/>
<circle cx="216.74" cy="235.95" r="2.4" fill="#ec5656" stroke="#8a2a2a" stroke-width="0.25"/>
<circle cx="254.2" cy="262.6" r="1.15" fill="#2edbe4" stroke="#3aa0aa" stroke-width="0.2"/>
<circle cx="254.2" cy="239.1" r="1.3" fill="#2edbe4" stroke="#3aa0aa" stroke-width="0.2"/>
<circle cx="260.9" cy="241.5" r="1.3" fill="#2edbe4" stroke="#3aa0aa" stroke-width="0.2"/>
<circle cx="265.2" cy="247.1" r="1.3" fill="#2edbe4" stroke="#3aa0aa" stroke-width="0.2"/>
<circle cx="265.2" cy="254.4" r="1.3" fill="#2edbe4" stroke="#3aa0aa" stroke-width="0.2"/>
<circle cx="260.9" cy="260.2" r="1.3" fill="#2edbe4" stroke="#3aa0aa" stroke-width="0.2"/>
<circle cx="247.3" cy="241.5" r="1.4" fill="#2edbe4" stroke="#3aa0aa" stroke-width="0.2"/>
<circle cx="243.2" cy="254.4" r="1.6" fill="#2edbe4" stroke="#3aa0aa" stroke-width="0.2"/>
<circle cx="243.2" cy="247.1" r="1.6" fill="#2edbe4" stroke="#3aa0aa" stroke-width="0.2"/>
<circle cx="247.3" cy="260.2" r="2" fill="#2edbe4" stroke="#3aa0aa" stroke-width="0.2"/>
<circle cx="297.1" cy="238" r="1" fill="#12d812" stroke="#109010" stroke-width="0.2"/>
<circle cx="299.3" cy="240.8" r="1" fill="#12d812" stroke="#109010" stroke-width="0.2"/>
<circle cx="299.3" cy="244.4" r="1" fill="#12d812" stroke="#109010" stroke-width="0.2"/>
<circle cx="297.1" cy="247.3" r="1" fill="#12d812" stroke="#109010" stroke-width="0.2"/>
<circle cx="293.9" cy="248.5" r="1.05" fill="#12d812" stroke="#109010" stroke-width="0.2"/>
<circle cx="293.9" cy="236.5" r="1.1" fill="#12d812" stroke="#109010" stroke-width="0.2"/>
<circle cx="290.5" cy="237.9" r="1.4" fill="#12d812" stroke="#109010" stroke-width="0.2"/>
<circle cx="288.4" cy="244.3" r="1.4" fill="#12d812" stroke="#109010" stroke-width="0.2"/>
<circle cx="288.4" cy="240.8" r="1.4" fill="#12d812" stroke="#109010" stroke-width="0.2"/>
<circle cx="290.5" cy="247.3" r="1.5" fill="#12d812" stroke="#109010" stroke-width="0.2"/>
<text x="364.4" y="160.2" font-size="15.8" fill="#000" text-anchor="start" font-weight="bold" >E</text>
<path d="M390.67 238.7L394.7 171.7M391.1 238.7L403.4 171.7M391.81 238.2L403.4 171.7M390.47 238.7L411.7 174M390.39 238.7L418.9 178M390.1 238.2L418.9 178M390.45 238.7L425 184M389.71 238.2L425 184M390.66 238.7L429.8 191.2M390.84 238.7L432.7 199.6M390.25 238.7L433.3 208.2M390.1 238.7L431.3 216.3M390.65 238.2L431.3 216.3M390.11 238.7L427.5 224M390.75 238.7L422 231M391.17 238.2L422 231M389.76 238.7L414.9 235.9M389.83 238.7L366.5 216.3M390.73 238.7L365 208.2M390.15 238.2L365 208.2M390.98 238.7L365.4 199.6M389.36 238.2L365.4 199.6M389.82 238.7L368 191.2M390.7 238.2L368 191.2M390.69 238.7L372.8 184M391.13 238.2L372.8 184M389.82 238.7L378.9 178M389.29 238.2L378.9 178M390.4 238.7L386.1 174M390.42 238.2L386.1 174M382.48 235.6L403.4 171.7M381.8 235.6L411.7 174M381.52 235.1L411.7 174M382.54 235.6L425 184M382.85 235.1L425 184M381.52 235.6L429.8 191.2M380.88 235.1L429.8 191.2M381.86 235.6L432.7 199.6M383.07 235.1L432.7 199.6M381.88 235.6L431.3 216.3M382.07 235.6L427.5 224M382.28 235.1L427.5 224M382.89 235.6L422 231M382.82 235.6L414.9 235.9M382.21 235.6L366.5 216.3M381.74 235.6L365 208.2M383.31 235.1L365 208.2M381.97 235.6L365.4 199.6M382.55 235.6L372.8 184M382.02 235.6L378.9 178M382.41 235.6L386.1 174M399.52 240.2L394.7 171.7M398.43 239.7L394.7 171.7M399.42 240.2L425 184M400.15 239.7L425 184M399.25 240.2L429.8 191.2M400.22 239.7L429.8 191.2M398.91 240.2L432.7 199.6M399.05 240.2L427.5 224M398.55 240.2L422 231M398.33 240.2L366.5 216.3M399.28 240.2L365 208.2M398.82 240.2L372.8 184M399.27 239.7L372.8 184M398.34 240.2L378.9 178M400.06 239.7L378.9 178M374.99 230.7L394.7 171.7M375.09 230.2L394.7 171.7M376.25 230.7L403.4 171.7M375.95 230.2L403.4 171.7M375.77 230.7L411.7 174M375.02 230.2L411.7 174M375.4 230.7L418.9 178M376.16 230.2L418.9 178M376.21 230.7L425 184M376.34 230.2L425 184M376.35 230.7L429.8 191.2M375.58 230.2L429.8 191.2M376.19 230.7L432.7 199.6M374.61 230.2L432.7 199.6M376.19 230.7L433.3 208.2M376.05 230.2L433.3 208.2M376.11 230.7L431.3 216.3M374.91 230.7L427.5 224M374.47 230.2L427.5 224M375.77 230.7L422 231M375.29 230.2L422 231M375.08 230.7L414.9 235.9M375.16 230.7L365 208.2M375.52 230.7L368 191.2M376.32 230.7L372.8 184M376.39 230.2L372.8 184M375.15 230.7L378.9 178M386.1 174L390.4 238.7M394.7 171.7L366.5 216.3M382.3 235.6L403.4 171.7M422 231L418.9 178M432.7 199.6L429.8 191.2M414.9 235.9L432.7 199.6M366.5 216.3L433.3 208.2M365 208.2L372.8 184M382.3 235.6L365 208.2M375.7 230.7L433.3 208.2M390.4 238.7L429.8 191.2M431.3 216.3L407.4 238.7M429.8 191.2L386.1 174M427.5 224L365.4 199.6M370 224L370 224" stroke="#cc7c7c" stroke-width="0.3" stroke-opacity="0.42" fill="none"/>
<circle cx="433.3" cy="208.2" r="2.3" fill="#ea62ea" stroke="#5a2a5a" stroke-width="0.45"/>
<circle cx="431.3" cy="216.3" r="2.3" fill="#ea62ea" stroke="#5a2a5a" stroke-width="0.45"/>
<circle cx="427.5" cy="224" r="2.3" fill="#ea62ea" stroke="#5a2a5a" stroke-width="0.45"/>
<circle cx="422" cy="231" r="2.3" fill="#ea62ea" stroke="#5a2a5a" stroke-width="0.45"/>
<circle cx="414.9" cy="235.9" r="2.3" fill="#ea62ea" stroke="#5a2a5a" stroke-width="0.45"/>
<circle cx="407.4" cy="238.7" r="2.3" fill="#ea62ea" stroke="#5a2a5a" stroke-width="0.45"/>
<circle cx="399" cy="240.2" r="2.3" fill="#ea62ea" stroke="#5a2a5a" stroke-width="0.45"/>
<circle cx="418.9" cy="178" r="2.5" fill="#ea62ea" stroke="#5a2a5a" stroke-width="0.45"/>
<circle cx="425" cy="184" r="2.5" fill="#ea62ea" stroke="#5a2a5a" stroke-width="0.45"/>
<circle cx="429.8" cy="191.2" r="2.5" fill="#ea62ea" stroke="#5a2a5a" stroke-width="0.45"/>
<circle cx="432.7" cy="199.6" r="2.5" fill="#ea62ea" stroke="#5a2a5a" stroke-width="0.45"/>
<circle cx="411.7" cy="174" r="2.7" fill="#ea62ea" stroke="#5a2a5a" stroke-width="0.45"/>
<circle cx="394.7" cy="171.7" r="3.2" fill="#ea62ea" stroke="#5a2a5a" stroke-width="0.45"/>
<circle cx="403.4" cy="171.7" r="3.2" fill="#ea62ea" stroke="#5a2a5a" stroke-width="0.45"/>
<circle cx="370" cy="224" r="3.2" fill="#ea62ea" stroke="#5a2a5a" stroke-width="0.45"/>
<circle cx="366.5" cy="216.3" r="3.2" fill="#ea62ea" stroke="#5a2a5a" stroke-width="0.45"/>
<circle cx="365" cy="208.2" r="3.2" fill="#ea62ea" stroke="#5a2a5a" stroke-width="0.45"/>
<circle cx="365.4" cy="199.6" r="3.2" fill="#ea62ea" stroke="#5a2a5a" stroke-width="0.45"/>
<circle cx="368" cy="191.2" r="3.2" fill="#ea62ea" stroke="#5a2a5a" stroke-width="0.45"/>
<circle cx="372.8" cy="184" r="3.2" fill="#ea62ea" stroke="#5a2a5a" stroke-width="0.45"/>
<circle cx="378.9" cy="178" r="3.2" fill="#ea62ea" stroke="#5a2a5a" stroke-width="0.45"/>
<circle cx="386.1" cy="174" r="3.2" fill="#ea62ea" stroke="#5a2a5a" stroke-width="0.45"/>
<circle cx="375.7" cy="230.7" r="3.4" fill="#ea62ea" stroke="#5a2a5a" stroke-width="0.45"/>
<circle cx="390.4" cy="238.7" r="3.6" fill="#ea62ea" stroke="#5a2a5a" stroke-width="0.45"/>
<circle cx="382.3" cy="235.6" r="3.6" fill="#ea62ea" stroke="#5a2a5a" stroke-width="0.45"/>
<path d="M504.4 158.2L501.7 250.2M445.5 189.2L509.6 159.3M491.2 251.2L478.1 157.8M459.6 168.1L539 204.9M526.6 171.5L525 237.8M461.9 241.6L504.4 158.2M496.6 251.1L443.5 200.8M478.1 157.8L471 246.8M443.5 205.5L451.3 229.8M515.9 244.6L515.9 244.6M473.3 159.4L518.7 164.5M520.4 241.2L518.7 164.5M525 237.8L447.5 184.2M520.4 241.2L471 246.8M539 204.9L443.9 195.4M485.9 251L496.6 251.1M504.4 158.2L468.7 161.3M493.5 155.5L520.4 241.2M443.9 195.4L536 220.5M483.6 156.6L535.5 184.4M496.6 251.1L446.6 220.4M483.6 156.6L446.6 220.4M525 237.8L455.7 171.2M448.7 225.1L445.5 189.2M496.6 251.1L515.9 244.6M518.7 164.5L451.3 229.8M538.7 194.8L531.2 230.4M537.1 189.1L447.5 184.2M518.7 164.5L523 168M471 246.8L448.7 225.1M530.5 175.5L525 237.8M445.1 215.7L485.9 251M443.5 205.5L511.3 246.8M501.7 250.2L448.7 225.1M511.3 246.8L451.3 229.8M461.9 241.6L464 164.4M447.5 184.2L537.1 189.1M536 220.5L518.7 164.5M458.1 238L491.2 251.2M504.4 158.2L537.7 215.4M499.4 156.6L461.9 241.6M531.2 230.4L533.2 180.2M523 168L501.7 250.2M514.3 161.8L452.6 175.1M480.7 250.2L520.4 241.2M444 210.5L483.6 156.6M444 210.5L538.5 210M461.9 241.6L520.4 241.2M511.3 246.8L493.5 155.5M443.5 205.5L476 249M523 168L483.6 156.6M518.7 164.5L509.6 159.3M446.6 220.4L506.8 249M452.6 175.1L455.7 171.2M452.6 175.1L478.1 157.8M466.3 244.4L526.6 171.5M452.6 175.1L499.4 156.6M539 204.9L536 220.5M466.3 244.4L468.7 161.3M466.3 244.4L538.5 210M451.3 229.8L458.1 238M539 204.9L478.1 157.8M538.5 210L499.4 156.6M531.2 230.4L520.4 241.2M506.8 249L454.5 234.2M539.5 199.8L493.5 155.5M485.9 251L496.6 251.1M473.3 159.4L536 220.5M536 220.5L504.4 158.2M443.9 195.4L449.7 179.4M530.5 175.5L454.5 234.2M499.4 156.6L525 237.8M485.9 251L501.7 250.2M501.7 250.2L515.9 244.6M534 225.6L443.5 205.5M537.1 189.1L448.7 225.1M449.7 179.4L538.7 194.8M473.3 159.4L523 168M531.2 230.4L452.6 175.1M459.6 168.1L528.3 234.4M478.1 157.8L526.6 171.5M539 204.9L461.9 241.6M445.5 189.2L444 210.5M444 210.5L473.3 159.4M534 225.6L454.5 234.2M459.6 168.1L452.6 175.1M447.5 184.2L530.5 175.5M504.4 158.2L534 225.6M538.7 194.8L459.6 168.1M493.5 155.5L511.3 246.8M473.3 159.4L461.9 241.6M458.1 238L448.7 225.1M537.1 189.1L458.1 238M451.3 229.8L538.5 210M538.7 194.8L536 220.5M445.1 215.7L445.1 215.7M444 210.5L478.1 157.8M476 249L506.8 249M499.4 156.6L533.2 180.2M536 220.5L461.9 241.6M458.1 238L443.5 200.8M476 249L446.6 220.4M454.5 234.2L488.4 156.6M483.6 156.6L525 237.8M466.3 244.4L459.6 168.1M511.3 246.8L488.4 156.6M514.3 161.8L451.3 229.8M539.5 199.8L443.5 205.5M525 237.8L448.7 225.1M511.3 246.8L537.7 215.4M473.3 159.4L504.4 158.2M459.6 168.1L483.6 156.6M537.1 189.1L485.9 251M534 225.6L478.1 157.8M537.1 189.1L537.7 215.4M455.7 171.2L520.4 241.2M520.4 241.2L443.9 195.4M539 204.9L535.5 184.4M518.7 164.5L480.7 250.2M445.5 189.2L459.6 168.1M444 210.5L459.6 168.1M452.6 175.1L539.5 199.8M493.5 155.5L458.1 238M526.6 171.5L473.3 159.4M443.5 205.5L514.3 161.8M459.6 168.1L520.4 241.2M449.7 179.4L511.3 246.8M458.1 238L537.1 189.1M536 220.5L446.6 220.4M445.5 189.2L525 237.8M523 168L452.6 175.1M526.6 171.5L443.5 200.8M464 164.4L537.1 189.1M514.3 161.8L514.3 161.8M448.7 225.1L530.5 175.5M536 220.5L444 210.5M518.7 164.5L536 220.5M536 220.5L506.8 249M444 210.5L530.5 175.5M480.7 250.2L538.7 194.8M539 204.9L444 210.5M525 237.8L461.9 241.6M451.3 229.8L443.9 195.4M504.4 158.2L530.5 175.5M483.6 156.6L537.7 215.4M459.6 168.1L459.6 168.1M461.9 241.6L496.6 251.1M468.7 161.3L447.5 184.2M499.4 156.6L491.2 251.2M454.5 234.2L493.5 155.5M483.6 156.6L534 225.6M483.6 156.6L451.3 229.8M483.6 156.6L443.9 195.4M483.6 156.6L530.5 175.5M483.6 156.6L523 168M483.6 156.6L523 168M488.4 156.6L526.6 171.5M488.4 156.6L466.3 244.4M488.4 156.6L526.6 171.5M488.4 156.6L445.5 189.2M488.4 156.6L446.6 220.4M488.4 156.6L531.2 230.4M493.5 155.5L511.3 246.8M493.5 155.5L459.6 168.1M493.5 155.5L535.5 184.4M493.5 155.5L448.7 225.1M493.5 155.5L454.5 234.2M493.5 155.5L511.3 246.8M499.4 156.6L485.9 251M499.4 156.6L449.7 179.4M499.4 156.6L538.5 210M499.4 156.6L468.7 161.3M499.4 156.6L443.9 195.4M499.4 156.6L528.3 234.4M504.4 158.2L530.5 175.5M504.4 158.2L468.7 161.3M504.4 158.2L506.8 249M504.4 158.2L446.6 220.4M504.4 158.2L445.1 215.7M504.4 158.2L535.5 184.4M509.6 159.3L526.6 171.5M509.6 159.3L515.9 244.6M509.6 159.3L466.3 244.4M509.6 159.3L499.4 156.6M509.6 159.3L476 249M509.6 159.3L478.1 157.8M514.3 161.8L445.1 215.7M514.3 161.8L520.4 241.2M514.3 161.8L539 204.9M514.3 161.8L451.3 229.8M514.3 161.8L452.6 175.1M514.3 161.8L528.3 234.4M518.7 164.5L539 204.9M518.7 164.5L501.7 250.2M518.7 164.5L531.2 230.4M518.7 164.5L473.3 159.4M518.7 164.5L537.1 189.1M518.7 164.5L533.2 180.2M525 237.8L504.4 158.2M525 237.8L523 168M525 237.8L446.6 220.4M525 237.8L443.9 195.4M525 237.8L445.5 189.2M525 237.8L468.7 161.3M525 237.8L473.3 159.4M525 237.8L445.1 215.7M525 237.8L443.5 200.8M525 237.8L483.6 156.6M520.4 241.2L464 164.4M520.4 241.2L443.5 205.5M520.4 241.2L493.5 155.5M520.4 241.2L464 164.4M520.4 241.2L443.9 195.4M520.4 241.2L455.7 171.2M520.4 241.2L483.6 156.6M520.4 241.2L443.5 200.8M520.4 241.2L449.7 179.4M520.4 241.2L447.5 184.2M515.9 244.6L493.5 155.5M515.9 244.6L455.7 171.2M515.9 244.6L445.1 215.7M515.9 244.6L504.4 158.2M515.9 244.6L445.1 215.7M515.9 244.6L518.7 164.5M515.9 244.6L509.6 159.3M515.9 244.6L443.5 200.8M515.9 244.6L464 164.4M515.9 244.6L478.1 157.8M511.3 246.8L499.4 156.6M511.3 246.8L443.5 205.5M511.3 246.8L478.1 157.8M511.3 246.8L459.6 168.1M511.3 246.8L468.7 161.3M511.3 246.8L499.4 156.6M511.3 246.8L514.3 161.8M511.3 246.8L493.5 155.5M511.3 246.8L523 168M511.3 246.8L468.7 161.3M506.8 249L523 168M506.8 249L452.6 175.1M506.8 249L478.1 157.8M506.8 249L473.3 159.4M506.8 249L514.3 161.8M506.8 249L468.7 161.3M506.8 249L468.7 161.3M506.8 249L443.5 205.5M506.8 249L493.5 155.5M506.8 249L443.5 205.5M526.6 171.5L445.5 189.2M526.6 171.5L446.6 220.4M526.6 171.5L445.5 189.2M526.6 171.5L445.5 189.2M526.6 171.5L443.5 205.5M526.6 171.5L443.5 205.5M526.6 171.5L485.9 251M530.5 175.5L446.6 220.4M530.5 175.5L480.7 250.2M530.5 175.5L448.7 225.1M530.5 175.5L452.6 175.1M530.5 175.5L443.5 205.5M530.5 175.5L444 210.5M530.5 175.5L452.6 175.1M533.2 180.2L446.6 220.4M533.2 180.2L448.7 225.1M533.2 180.2L449.7 179.4M533.2 180.2L476 249M533.2 180.2L454.5 234.2M533.2 180.2L471 246.8M533.2 180.2L443.5 200.8M535.5 184.4L454.5 234.2M535.5 184.4L445.5 189.2M535.5 184.4L444 210.5M535.5 184.4L480.7 250.2M535.5 184.4L443.9 195.4M535.5 184.4L464 164.4M535.5 184.4L471 246.8M537.1 189.1L445.5 189.2M537.1 189.1L454.5 234.2M537.1 189.1L447.5 184.2M537.1 189.1L448.7 225.1M537.1 189.1L459.6 168.1M537.1 189.1L444 210.5M537.1 189.1L454.5 234.2M538.7 194.8L476 249M538.7 194.8L459.6 168.1M538.7 194.8L445.1 215.7M538.7 194.8L447.5 184.2M538.7 194.8L443.5 205.5M538.7 194.8L449.7 179.4M538.7 194.8L461.9 241.6" stroke="#dc9a9a" stroke-width="0.25" stroke-opacity="0.33" fill="none"/>
<path d="M466.3 244.4L443.5 200.8M466.3 244.4L539.5 199.8M466.3 244.4L531.2 230.4M466.3 244.4L483.6 156.6M466.3 244.4L530.5 175.5M461.9 241.6L454.5 234.2M461.9 241.6L466.3 244.4M461.9 241.6L458.1 238M461.9 241.6L518.7 164.5M461.9 241.6L520.4 241.2M458.1 238L451.3 229.8M458.1 238L454.5 234.2M458.1 238L491.2 251.2M458.1 238L523 168M458.1 238L530.5 175.5M454.5 234.2L499.4 156.6M454.5 234.2L485.9 251M454.5 234.2L449.7 179.4M454.5 234.2L443.9 195.4M454.5 234.2L534 225.6M451.3 229.8L452.6 175.1M451.3 229.8L480.7 250.2M451.3 229.8L455.7 171.2M451.3 229.8L445.1 215.7M451.3 229.8L466.3 244.4M448.7 225.1L493.5 155.5M448.7 225.1L493.5 155.5M448.7 225.1L511.3 246.8M448.7 225.1L518.7 164.5M448.7 225.1L478.1 157.8M446.6 220.4L448.7 225.1M446.6 220.4L464 164.4M446.6 220.4L537.7 215.4M446.6 220.4L533.2 180.2M446.6 220.4L443.5 200.8M445.1 215.7L476 249M445.1 215.7L452.6 175.1M445.1 215.7L480.7 250.2M445.1 215.7L499.4 156.6M445.1 215.7L455.7 171.2M444 210.5L452.6 175.1M444 210.5L455.7 171.2M444 210.5L509.6 159.3M444 210.5L448.7 225.1M444 210.5L525 237.8M443.5 205.5L525 237.8M443.5 205.5L504.4 158.2M443.5 205.5L491.2 251.2M443.5 205.5L443.5 205.5M443.5 205.5L444 210.5" stroke="#96c0da" stroke-width="0.25" stroke-opacity="0.38" fill="none"/>
<circle cx="504.4" cy="158.2" r="1.9" fill="#f5ea1c" stroke="#5a5a10" stroke-width="0.4"/>
<circle cx="485.9" cy="251" r="2" fill="#f5ea1c" stroke="#5a5a10" stroke-width="0.4"/>
<circle cx="480.7" cy="250.2" r="2" fill="#f5ea1c" stroke="#5a5a10" stroke-width="0.4"/>
<circle cx="466.3" cy="244.4" r="2" fill="#f5ea1c" stroke="#5a5a10" stroke-width="0.4"/>
<circle cx="451.3" cy="229.8" r="2" fill="#f5ea1c" stroke="#5a5a10" stroke-width="0.4"/>
<circle cx="448.7" cy="225.1" r="2" fill="#f5ea1c" stroke="#5a5a10" stroke-width="0.4"/>
<circle cx="446.6" cy="220.4" r="2" fill="#f5ea1c" stroke="#5a5a10" stroke-width="0.4"/>
<circle cx="443.5" cy="200.8" r="2" fill="#f5ea1c" stroke="#5a5a10" stroke-width="0.4"/>
<circle cx="443.9" cy="195.4" r="2" fill="#f5ea1c" stroke="#5a5a10" stroke-width="0.4"/>
<circle cx="526.6" cy="171.5" r="2" fill="#f5ea1c" stroke="#5a5a10" stroke-width="0.4"/>
<circle cx="535.5" cy="184.4" r="2" fill="#f5ea1c" stroke="#5a5a10" stroke-width="0.4"/>
<circle cx="538.7" cy="194.8" r="2" fill="#f5ea1c" stroke="#5a5a10" stroke-width="0.4"/>
<circle cx="471" cy="246.8" r="2.1" fill="#f5ea1c" stroke="#5a5a10" stroke-width="0.4"/>
<circle cx="461.9" cy="241.6" r="2.1" fill="#f5ea1c" stroke="#5a5a10" stroke-width="0.4"/>
<circle cx="458.1" cy="238" r="2.1" fill="#f5ea1c" stroke="#5a5a10" stroke-width="0.4"/>
<circle cx="445.1" cy="215.7" r="2.1" fill="#f5ea1c" stroke="#5a5a10" stroke-width="0.4"/>
<circle cx="443.5" cy="205.5" r="2.1" fill="#f5ea1c" stroke="#5a5a10" stroke-width="0.4"/>
<circle cx="447.5" cy="184.2" r="2.2" fill="#f5ea1c" stroke="#5a5a10" stroke-width="0.4"/>
<circle cx="452.6" cy="175.1" r="2.2" fill="#f5ea1c" stroke="#5a5a10" stroke-width="0.4"/>
<circle cx="459.6" cy="168.1" r="2.2" fill="#f5ea1c" stroke="#5a5a10" stroke-width="0.4"/>
<circle cx="488.4" cy="156.6" r="2.2" fill="#f5ea1c" stroke="#5a5a10" stroke-width="0.4"/>
<circle cx="533.2" cy="180.2" r="2.2" fill="#f5ea1c" stroke="#5a5a10" stroke-width="0.4"/>
<circle cx="476" cy="249" r="2.3" fill="#f5ea1c" stroke="#5a5a10" stroke-width="0.4"/>
<circle cx="444" cy="210.5" r="2.3" fill="#f5ea1c" stroke="#5a5a10" stroke-width="0.4"/>
<circle cx="523" cy="168" r="2.3" fill="#f5ea1c" stroke="#5a5a10" stroke-width="0.4"/>
<circle cx="445.5" cy="189.2" r="2.4" fill="#f5ea1c" stroke="#5a5a10" stroke-width="0.4"/>
<circle cx="473.3" cy="159.4" r="2.4" fill="#f5ea1c" stroke="#5a5a10" stroke-width="0.4"/>
<circle cx="454.5" cy="234.2" r="2.6" fill="#f5ea1c" stroke="#5a5a10" stroke-width="0.4"/>
<circle cx="455.7" cy="171.2" r="2.6" fill="#f5ea1c" stroke="#5a5a10" stroke-width="0.4"/>
<circle cx="514.3" cy="161.8" r="2.6" fill="#f5ea1c" stroke="#5a5a10" stroke-width="0.4"/>
<circle cx="468.7" cy="161.3" r="2.8" fill="#f5ea1c" stroke="#5a5a10" stroke-width="0.4"/>
<circle cx="478.1" cy="157.8" r="2.8" fill="#f5ea1c" stroke="#5a5a10" stroke-width="0.4"/>
<circle cx="483.6" cy="156.6" r="2.8" fill="#f5ea1c" stroke="#5a5a10" stroke-width="0.4"/>
<circle cx="509.6" cy="159.3" r="2.8" fill="#f5ea1c" stroke="#5a5a10" stroke-width="0.4"/>
<circle cx="518.7" cy="164.5" r="2.8" fill="#f5ea1c" stroke="#5a5a10" stroke-width="0.4"/>
<circle cx="493.5" cy="155.5" r="3" fill="#f5ea1c" stroke="#5a5a10" stroke-width="0.4"/>
<circle cx="499.4" cy="156.6" r="3.3" fill="#f5ea1c" stroke="#5a5a10" stroke-width="0.4"/>
<circle cx="449.7" cy="179.4" r="3.4" fill="#f5ea1c" stroke="#5a5a10" stroke-width="0.4"/>
<circle cx="530.5" cy="175.5" r="3.5" fill="#f5ea1c" stroke="#5a5a10" stroke-width="0.4"/>
<circle cx="537.1" cy="189.1" r="3.5" fill="#f5ea1c" stroke="#5a5a10" stroke-width="0.4"/>
<circle cx="464" cy="164.4" r="3.6" fill="#f5ea1c" stroke="#5a5a10" stroke-width="0.4"/>
<circle cx="539.5" cy="199.8" r="1.8" fill="#ec5656" stroke="#7a3030" stroke-width="0.35"/>
<circle cx="539" cy="204.9" r="1.9" fill="#ec5656" stroke="#7a3030" stroke-width="0.35"/>
<circle cx="496.6" cy="251.1" r="1.9" fill="#ec5656" stroke="#7a3030" stroke-width="0.35"/>
<circle cx="538.5" cy="210" r="2" fill="#ec5656" stroke="#7a3030" stroke-width="0.35"/>
<circle cx="536" cy="220.5" r="2" fill="#ec5656" stroke="#7a3030" stroke-width="0.35"/>
<circle cx="534" cy="225.6" r="2" fill="#ec5656" stroke="#7a3030" stroke-width="0.35"/>
<circle cx="528.3" cy="234.4" r="2" fill="#ec5656" stroke="#7a3030" stroke-width="0.35"/>
<circle cx="506.8" cy="249" r="2" fill="#ec5656" stroke="#7a3030" stroke-width="0.35"/>
<circle cx="501.7" cy="250.2" r="2" fill="#ec5656" stroke="#7a3030" stroke-width="0.35"/>
<circle cx="531.2" cy="230.4" r="2.4" fill="#ec5656" stroke="#7a3030" stroke-width="0.35"/>
<circle cx="537.7" cy="215.4" r="2.6" fill="#ec5656" stroke="#7a3030" stroke-width="0.35"/>
<circle cx="525" cy="237.8" r="2.7" fill="#ec5656" stroke="#7a3030" stroke-width="0.35"/>
<circle cx="520.4" cy="241.2" r="2.9" fill="#ec5656" stroke="#7a3030" stroke-width="0.35"/>
<circle cx="515.9" cy="244.6" r="3" fill="#ec5656" stroke="#7a3030" stroke-width="0.35"/>
<circle cx="511.3" cy="246.8" r="3.2" fill="#ec5656" stroke="#7a3030" stroke-width="0.35"/>
<circle cx="491.2" cy="251.2" r="3.2" fill="#ec5656" stroke="#7a3030" stroke-width="0.35"/>
<text x="165.6" y="279.9" font-size="15.8" fill="#000" text-anchor="start" font-weight="bold" >F</text>
<line x1="178.3" y1="275.1" x2="190.2" y2="275.1" stroke="#7a2c9c" stroke-width="1.5"/>
<circle cx="184.3" cy="275.1" r="2.6" fill="#7a2c9c"/>
<text x="193.6" y="277.5" font-size="6.85" fill="#111" text-anchor="start" font-weight="normal" >cluster TF1&amp;TF3</text>
<line x1="247.8" y1="275.1" x2="257.4" y2="275.1" stroke="#a0622c" stroke-width="1.5"/>
<circle cx="252.6" cy="275.1" r="2.6" fill="#a0622c"/>
<text x="261.6" y="277.5" font-size="6.85" fill="#111" text-anchor="start" font-weight="normal" >cluster TF4</text>
<circle cx="233.8" cy="327.5" r="40.3" fill="#f8f8f8" stroke="#c0c0c0" stroke-width="1.6" stroke-dasharray="6 3.2"/>
<line x1="233.8" y1="320.5" x2="233.8" y2="287" stroke="#cacaca" stroke-width="1.4"/>
<line x1="238.3" y1="322.14" x2="259.83" y2="296.48" stroke="#cacaca" stroke-width="1.4"/>
<line x1="240.69" y1="326.28" x2="273.68" y2="320.47" stroke="#cacaca" stroke-width="1.4"/>
<line x1="239.86" y1="331" x2="268.87" y2="347.75" stroke="#cacaca" stroke-width="1.4"/>
<line x1="236.19" y1="334.08" x2="247.65" y2="365.56" stroke="#cacaca" stroke-width="1.4"/>
<line x1="231.41" y1="334.08" x2="219.95" y2="365.56" stroke="#cacaca" stroke-width="1.4"/>
<line x1="227.74" y1="331" x2="198.73" y2="347.75" stroke="#cacaca" stroke-width="1.4"/>
<line x1="226.91" y1="326.28" x2="193.92" y2="320.47" stroke="#cacaca" stroke-width="1.4"/>
<line x1="229.3" y1="322.14" x2="207.77" y2="296.48" stroke="#cacaca" stroke-width="1.4"/>
<circle cx="233.5" cy="328" r="21.8" fill="none" stroke="#2a9a9c" stroke-width="1.3" stroke-dasharray="5 3"/>
<text x="220" y="292.2" font-size="7.6" fill="#333" text-anchor="middle" font-weight="normal" >16</text>
<text x="222" y="310" font-size="7.6" fill="#333" text-anchor="middle" font-weight="normal" >8</text>
<text x="224.4" y="327" font-size="7.6" fill="#333" text-anchor="middle" font-weight="normal" >0</text>
<text x="235.1" y="285.5" font-size="6" fill="#222" text-anchor="middle" font-weight="normal" >bHLH</text>
<text x="269" y="297.1" font-size="6" fill="#222" text-anchor="middle" font-weight="normal" >CO&#8722;like</text>
<text x="284" y="324" font-size="6" fill="#222" text-anchor="middle" font-weight="normal" >DBB</text>
<text x="277.2" y="355.1" font-size="6" fill="#222" text-anchor="middle" font-weight="normal" >ERF</text>
<text x="258.5" y="374.1" font-size="6" fill="#222" text-anchor="middle" font-weight="normal" >G2&#8722;like</text>
<text x="214.8" y="374.1" font-size="6" fill="#222" text-anchor="middle" font-weight="normal" >HSF</text>
<text x="189.8" y="355.1" font-size="6" fill="#222" text-anchor="middle" font-weight="normal" >MYB</text>
<text x="184.2" y="323.2" font-size="6" fill="#222" text-anchor="middle" font-weight="normal" >NAC</text>
<text x="198.3" y="297.1" font-size="6" fill="#222" text-anchor="middle" font-weight="normal" >WRKY</text>
<polygon points="234.4,318.9 242.4,319.4 242.4,327.8 251.1,339.3 237.5,338.8 232.8,333 226.5,333.2 225.5,328.3 228.6,322.6" fill="none" stroke="#a0622c" stroke-width="1.3"/>
<polygon points="208.9,298.8 234.4,321.3 236.6,326 238.3,328.6 253.2,340.3 237.5,337.2 228.4,345.6 219,337.7 212.3,325.1" fill="none" stroke="#7a2c9c" stroke-width="1.3"/>
<circle cx="234.4" cy="318.9" r="2.2" fill="#a0622c"/>
<circle cx="242.4" cy="319.4" r="2.2" fill="#a0622c"/>
<circle cx="242.4" cy="327.8" r="2.2" fill="#a0622c"/>
<circle cx="251.1" cy="339.3" r="2.2" fill="#a0622c"/>
<circle cx="237.5" cy="338.8" r="2.2" fill="#a0622c"/>
<circle cx="232.8" cy="333" r="2.2" fill="#a0622c"/>
<circle cx="226.5" cy="333.2" r="2.2" fill="#a0622c"/>
<circle cx="225.5" cy="328.3" r="2.2" fill="#a0622c"/>
<circle cx="228.6" cy="322.6" r="2.2" fill="#a0622c"/>
<circle cx="208.9" cy="298.8" r="2.2" fill="#7a2c9c"/>
<circle cx="234.4" cy="321.3" r="2.2" fill="#7a2c9c"/>
<circle cx="236.6" cy="326" r="2.2" fill="#7a2c9c"/>
<circle cx="238.3" cy="328.6" r="2.2" fill="#7a2c9c"/>
<circle cx="253.2" cy="340.3" r="2.2" fill="#7a2c9c"/>
<circle cx="237.5" cy="337.2" r="2.2" fill="#7a2c9c"/>
<circle cx="228.4" cy="345.6" r="2.2" fill="#7a2c9c"/>
<circle cx="219" cy="337.7" r="2.2" fill="#7a2c9c"/>
<circle cx="212.3" cy="325.1" r="2.2" fill="#7a2c9c"/>
<text x="311.9" y="279.8" font-size="15.8" fill="#000" text-anchor="start" font-weight="bold" >G</text>
<path d="M348.2 365.8Q361.42 359 370.2 371M348.2 365.8Q369.71 355.2 391.5 365.2M348.2 365.8Q375.32 347.75 407.8 350.2M348.2 365.8Q376.76 337.74 416 329.8M348.2 365.8Q373.9 329.11 413.3 307.8M348.2 365.8Q365.28 321.37 400.9 289.8M348.2 365.8Q358.51 320.08 380.9 278.9M348.2 365.8Q344.7 321.1 358.7 278.5M331.8 350.2Q360.52 313.33 400.9 289.8M331.8 350.2Q369.03 322.24 413.3 307.8M331.8 350.2Q349.2 309.62 380.9 278.9M331.8 350.2Q340.22 312.46 358.7 278.5M331.8 350.2Q328.63 319.03 339.1 289.5M324 329.8Q337.14 301.3 358.7 278.5M324 329.8Q348.34 299.76 380.9 278.9M324 329.8Q325.68 307.45 339.1 289.5M326.7 308Q340.3 290.65 358.7 278.5M326.7 308Q329.45 296.44 339.1 289.5M339.1 289.5Q337.62 328.37 348.2 365.8M339.1 289.5Q326.76 318.81 331.8 350.2M339.1 289.5Q323.95 306.8 324 329.8M358.7 278.5Q347.13 321.39 348.2 365.8M358.7 278.5Q336.42 311.04 331.8 350.2M358.7 278.5Q336.16 300.64 324 329.8M380.9 278.9Q354.53 318.58 348.2 365.8M380.9 278.9Q349.96 310.15 331.8 350.2M380.9 278.9Q347.78 299.12 324 329.8M380.9 278.9Q348.02 282.68 326.7 308M400.9 289.8Q369.12 324.04 348.2 365.8M413.3 307.8Q376.89 332.47 348.2 365.8M413.3 307.8Q368.38 320.99 331.8 350.2M416 329.8Q372.17 332.87 331.8 350.2M326.7 308Q320.39 318.29 324 329.8M324 329.8Q323.23 341.79 331.8 350.2M331.8 350.2Q336.55 361.62 348.2 365.8M326.7 308Q322.3 329.94 331.8 350.2M324 329.8Q330.29 351.71 348.2 365.8M326.7 308Q329.01 340.04 348.2 365.8M324 329.8Q329.32 319.39 326.7 308M331.8 350.2Q331.64 338.57 324 329.8M348.2 365.8Q344.14 353.65 331.8 350.2M348.2 365.8Q344.4 342.22 324 329.8M331.8 350.2Q338.18 328.02 326.7 308" stroke="#da9486" stroke-width="1.05" stroke-opacity="0.8" fill="none"/>
<circle cx="358.7" cy="278.5" r="5.8" fill="#ee58ee" stroke="#3a203a" stroke-width="0.5"/>
<circle cx="380.9" cy="278.9" r="5.6" fill="#ee58ee" stroke="#3a203a" stroke-width="0.5"/>
<circle cx="339.1" cy="289.5" r="6.2" fill="#ee58ee" stroke="#3a203a" stroke-width="0.5"/>
<circle cx="400.9" cy="289.8" r="4.7" fill="#ee58ee" stroke="#3a203a" stroke-width="0.5"/>
<circle cx="326.7" cy="308" r="6.6" fill="#ee58ee" stroke="#3a203a" stroke-width="0.5"/>
<circle cx="413.3" cy="307.8" r="4.6" fill="#ee58ee" stroke="#3a203a" stroke-width="0.5"/>
<circle cx="324" cy="329.8" r="7.7" fill="#ee58ee" stroke="#3a203a" stroke-width="0.5"/>
<circle cx="416" cy="329.8" r="4.5" fill="#ee58ee" stroke="#3a203a" stroke-width="0.5"/>
<circle cx="331.8" cy="350.2" r="8.7" fill="#ee58ee" stroke="#3a203a" stroke-width="0.5"/>
<circle cx="407.8" cy="350.2" r="3.9" fill="#ee58ee" stroke="#3a203a" stroke-width="0.5"/>
<circle cx="348.2" cy="365.8" r="11.3" fill="#ee58ee" stroke="#3a203a" stroke-width="0.5"/>
<circle cx="391.5" cy="365.2" r="3.9" fill="#ee58ee" stroke="#3a203a" stroke-width="0.5"/>
<circle cx="370.2" cy="371" r="3.8" fill="#ee58ee" stroke="#3a203a" stroke-width="0.5"/>
<text x="358.7" y="279.65" font-size="3.2" fill="#2a2a2a" text-anchor="middle" font-weight="normal" >WRKY 136</text>
<text x="380.9" y="280.05" font-size="3.2" fill="#2a2a2a" text-anchor="middle" font-weight="normal" >C2C2-CO-like 7</text>
<text x="339.1" y="290.65" font-size="3.2" fill="#2a2a2a" text-anchor="middle" font-weight="normal" >CO-like 8</text>
<text x="400.9" y="290.95" font-size="3.2" fill="#2a2a2a" text-anchor="middle" font-weight="normal" >C2C2-CO-like 3</text>
<text x="326.7" y="309.26" font-size="3.5" fill="#2a2a2a" text-anchor="middle" font-weight="normal" >WRKY 19</text>
<text x="413.3" y="308.95" font-size="3.2" fill="#2a2a2a" text-anchor="middle" font-weight="normal" >Unnamed 76</text>
<text x="322" y="331.28" font-size="4.1" fill="#2a2a2a" text-anchor="middle" font-weight="normal" >AP2-EREBP 115</text>
<text x="416" y="330.95" font-size="3.2" fill="#2a2a2a" text-anchor="middle" font-weight="normal" >HSF 14</text>
<text x="329.8" y="351.86" font-size="4.6" fill="#2a2a2a" text-anchor="middle" font-weight="normal" >AP2-EREBP 162</text>
<text x="407.8" y="351.35" font-size="3.2" fill="#2a2a2a" text-anchor="middle" font-weight="normal" >G2-like 3</text>
<text x="348.2" y="368.53" font-size="4.8" fill="#2a2a2a" text-anchor="middle" font-weight="normal" >C2C2-CO-like 8</text>
<text x="391.5" y="366.35" font-size="3.2" fill="#2a2a2a" text-anchor="middle" font-weight="normal" >HSF 3</text>
<text x="370.2" y="372.15" font-size="3.2" fill="#2a2a2a" text-anchor="middle" font-weight="normal" >HSF 5</text>
<text x="442" y="279.8" font-size="15.8" fill="#000" text-anchor="start" font-weight="bold" >H</text>
<path d="M463.5 357.3Q466.2 327.47 462.9 297.7M463.5 357.3Q468.08 323.6 480.4 291.9M463.5 357.3Q476.24 324.26 497.7 296.1M463.5 357.3Q488.51 340.76 515.5 327.7M463.5 357.3Q486.46 349.46 510.4 345.5M463.5 357.3Q480.6 356.3 497.7 357.3M463.5 357.3Q471.4 361.62 480.4 362.1M463.5 357.3Q459.69 332.88 450.1 310.1M463.5 357.3Q457.81 340.4 445.3 327.7M463.5 357.3Q458.18 349.5 450.1 344.6M450.1 310.1Q447.1 327.35 450.1 344.6M445.3 327.7Q456.96 340.93 463.5 357.3M450.1 310.1Q461.61 332.33 463.5 357.3M462.9 297.7Q452.64 320.1 450.1 344.6M480.4 291.9Q460.05 315.26 450.1 344.6" stroke="#e2a29c" stroke-width="1.15" stroke-opacity="0.9" fill="none"/>
<path d="M459.6 349Q458.49 323.2 471 300.6M467 299Q488.95 303.58 510.4 310.1" stroke="#98c4dc" stroke-width="1.1" fill="none"/>
<circle cx="462.9" cy="297.7" r="4.5" fill="#f4ea1e" stroke="#333" stroke-width="0.5"/>
<circle cx="480.4" cy="291.9" r="4.5" fill="#f4ea1e" stroke="#333" stroke-width="0.5"/>
<circle cx="497.7" cy="296.1" r="4.2" fill="#f4ea1e" stroke="#333" stroke-width="0.5"/>
<circle cx="450.1" cy="310.1" r="5" fill="#f4ea1e" stroke="#333" stroke-width="0.5"/>
<circle cx="510.4" cy="310.1" r="4" fill="#f4ea1e" stroke="#333" stroke-width="0.5"/>
<circle cx="445.3" cy="327.7" r="5" fill="#f4ea1e" stroke="#333" stroke-width="0.5"/>
<circle cx="515.5" cy="327.7" r="4" fill="#f4ea1e" stroke="#333" stroke-width="0.5"/>
<circle cx="450.1" cy="344.6" r="5.8" fill="#f4ea1e" stroke="#333" stroke-width="0.5"/>
<circle cx="510.4" cy="345.5" r="4" fill="#ee5a5a" stroke="#333" stroke-width="0.5"/>
<circle cx="463.5" cy="357.3" r="9.5" fill="#f4ea1e" stroke="#333" stroke-width="0.5"/>
<circle cx="497.7" cy="357.3" r="4" fill="#ee5a5a" stroke="#333" stroke-width="0.5"/>
<circle cx="480.4" cy="362.1" r="4" fill="#f4ea1e" stroke="#333" stroke-width="0.5"/>
<text x="462.9" y="298.85" font-size="3.2" fill="#2a2a2a" text-anchor="middle" font-weight="normal" >ARF 1</text>
<text x="480.4" y="293.05" font-size="3.2" fill="#2a2a2a" text-anchor="middle" font-weight="normal" >AP2-EREBP 108</text>
<text x="497.7" y="297.25" font-size="3.2" fill="#2a2a2a" text-anchor="middle" font-weight="normal" >WRKY 17</text>
<text x="450.1" y="311.25" font-size="3.2" fill="#2a2a2a" text-anchor="middle" font-weight="normal" >NAC 10</text>
<text x="510.4" y="311.25" font-size="3.2" fill="#2a2a2a" text-anchor="middle" font-weight="normal" >WRKY 32</text>
<text x="445.3" y="328.85" font-size="3.2" fill="#2a2a2a" text-anchor="middle" font-weight="normal" >NAC 5</text>
<text x="515.5" y="328.85" font-size="3.2" fill="#2a2a2a" text-anchor="middle" font-weight="normal" >AP2-EREBP 111</text>
<text x="450.1" y="345.75" font-size="3.2" fill="#2a2a2a" text-anchor="middle" font-weight="normal" >MYB 14</text>
<text x="510.4" y="346.65" font-size="3.2" fill="#2a2a2a" text-anchor="middle" font-weight="normal" >WRKY 24</text>
<text x="463.5" y="359.32" font-size="5.6" fill="#2a2a2a" text-anchor="middle" font-weight="normal" >HSF 1</text>
<text x="497.7" y="358.45" font-size="3.2" fill="#2a2a2a" text-anchor="middle" font-weight="normal" >MYB_related 28</text>
<text x="480.4" y="363.25" font-size="3.2" fill="#2a2a2a" text-anchor="middle" font-weight="normal" >HSF 2</text>
</svg></body></html>
